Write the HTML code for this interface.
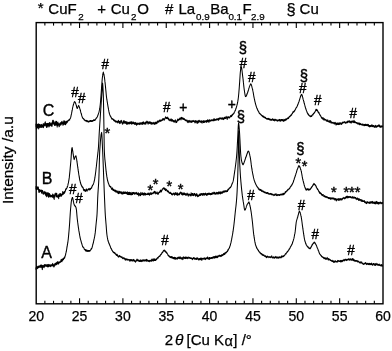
<!DOCTYPE html>
<html><head><meta charset="utf-8"><style>
html,body{margin:0;padding:0;background:#fff;}
svg{display:block;}
text{font-family:"Liberation Sans",Arial,sans-serif;fill:#000;stroke:#000;stroke-width:0.25px;}
.m text{stroke-width:0.45px;}
.l text{stroke-width:0.35px;}
</style></head><body>
<svg width="392" height="351" viewBox="0 0 392 351">
<rect width="392" height="351" fill="#fff"/>
<g font-size="15">
<text x="37.7" y="13.4">*</text>
<text x="48.3" y="14.3">CuF</text>
<text x="78.3" y="20.3" font-size="9.8">2</text>
<text x="97.2" y="14.3">+</text>
<text x="110.7" y="14.3">Cu</text>
<text x="131.1" y="20.3" font-size="9.8">2</text>
<text x="137.2" y="14.3">O</text>
<text x="164.9" y="14.3">#</text>
<text x="178.4" y="14.3">La</text>
<text x="196" y="20.3" font-size="9.8">0.9</text>
<text x="210.2" y="14.3">Ba</text>
<text x="228.4" y="20.3" font-size="9.8">0.1</text>
<text x="242.5" y="14.3">F</text>
<text x="251" y="20.3" font-size="9.8">2.9</text>
<text x="286.5" y="14.6" font-size="16.5">&#167;</text>
<text x="299.6" y="14.3">Cu</text>
</g>
<g fill="none" stroke="#000" stroke-linejoin="round" stroke-linecap="round">
<polyline stroke-width="1.05" points="36.0,124.0 36.1,126.7 36.2,126.5 36.3,125.0 36.4,129.0 36.5,125.1 36.6,125.5 36.7,125.4 36.8,127.9 36.9,125.7 37.0,127.3 37.1,127.1 37.2,126.7 37.3,124.9 37.4,125.6 37.5,127.9 37.6,124.4 37.7,124.7 37.8,125.2 37.9,126.0 38.0,125.2 38.1,125.5 38.2,123.8 38.3,126.3 38.4,126.2 38.5,124.1 38.6,127.8 38.7,128.9 38.8,125.9 38.9,126.7 39.0,128.1 39.1,124.9 39.2,124.3 39.3,125.0 39.4,125.7 39.5,125.6 39.6,126.7 39.7,126.2 39.8,124.5 39.9,126.3 40.0,127.5 40.1,126.7 40.2,126.3 40.3,125.4 40.4,126.6 40.5,124.7 40.6,126.6 40.7,125.9 40.8,127.3 40.9,126.7 41.0,125.1 41.1,126.3 41.2,127.4 41.3,124.9 41.4,125.5 41.5,125.2 41.6,124.4 41.7,127.0 41.8,127.3 41.9,126.8 42.0,126.2 42.1,125.8 42.2,126.1 42.3,125.1 42.4,126.7 42.5,126.8 42.6,126.7 42.7,125.1 42.8,125.7 42.9,125.4 43.0,127.3 43.1,125.8 43.2,123.7 43.3,126.1 43.4,127.7 43.5,126.5 43.6,126.7 43.7,125.9 43.8,123.7 43.9,123.7 44.0,124.1 44.1,125.0 44.2,125.3 44.3,125.5 44.4,124.3 44.5,125.7 44.6,124.5 44.7,124.1 44.8,125.8 44.9,124.0 45.0,122.2 45.1,124.0 45.2,125.1 45.3,121.8 45.4,124.5 45.5,124.5 45.6,123.4 45.7,123.2 45.8,124.2 45.9,124.3 46.0,126.2 46.1,125.5 46.2,123.6 46.3,124.5 46.4,126.2 46.5,127.5 46.6,125.9 46.7,125.7 46.8,127.2 46.9,125.2 47.0,124.8 47.1,123.6 47.2,124.5 47.3,127.1 47.4,123.5 47.5,124.8 47.6,123.4 47.7,124.8 47.8,125.6 47.9,124.4 48.0,125.3 48.1,125.2 48.2,124.8 48.3,126.0 48.4,125.0 48.5,123.9 48.6,123.4 48.7,123.3 48.8,124.7 48.9,123.9 49.0,127.0 49.1,126.2 49.2,124.2 49.3,124.1 49.4,126.2 49.5,122.6 49.6,124.1 49.7,125.5 49.8,123.7 49.9,124.1 50.0,124.3 50.1,125.2 50.2,124.7 50.3,124.9 50.4,125.0 50.5,124.4 50.6,125.4 50.7,123.6 50.8,123.0 50.9,122.9 51.0,123.2 51.1,124.5 51.2,126.2 51.3,125.6 51.4,125.0 51.5,124.5 51.6,125.0 51.7,125.1 51.8,124.8 51.9,123.9 52.0,124.8 52.1,126.3 52.2,122.6 52.3,124.1 52.4,121.7 52.5,123.6 52.6,122.2 52.7,120.3 52.8,122.1 52.9,123.9 53.0,122.2 53.1,123.4 53.2,122.3 53.3,120.3 53.4,123.0 53.5,122.2 53.6,121.4 53.7,123.8 53.8,123.5 53.9,122.9 54.0,124.5 54.1,123.0 54.2,124.7 54.3,123.1 54.4,124.5 54.5,122.8 54.6,125.4 54.7,124.1 54.8,125.2 54.9,123.0 55.0,123.4 55.1,124.7 55.2,121.3 55.3,123.0 55.4,125.2 55.5,124.7 55.6,125.2 55.7,124.0 55.8,124.8 55.9,123.5 56.0,122.9 56.1,122.6 56.2,123.7 56.3,123.7 56.4,123.8 56.5,121.2 56.6,122.9 56.7,124.6 56.8,125.7 56.9,125.0 57.0,125.0 57.1,123.1 57.2,127.0 57.3,123.5 57.4,125.9 57.5,125.4 57.6,123.7 57.7,122.4 57.8,123.2 57.9,122.0 58.0,123.5 58.1,123.3 58.2,124.0 58.3,124.5 58.4,125.3 58.5,123.5 58.6,125.2 58.7,123.7 58.8,123.9 58.9,124.5 59.0,124.4 59.1,126.7 59.2,126.4 59.3,126.6 59.4,125.1 59.5,125.3 59.6,124.2 59.7,123.5 59.8,124.9 59.9,124.7 60.0,123.4 60.1,125.0 60.2,122.7 60.3,124.3 60.4,123.8 60.5,123.9 60.6,123.2 60.7,125.1 60.8,124.5 60.9,125.0 61.0,123.8 61.1,122.3 61.2,123.0 61.3,122.1 61.4,123.5 61.5,124.1 61.6,123.1 61.7,122.1 61.8,122.2 61.9,122.6 62.0,121.2 62.1,123.0 62.2,123.2 62.3,122.7 62.4,123.1 62.5,123.8 62.6,123.1 62.7,123.1 62.8,124.6 62.9,124.1 63.0,125.4 63.1,122.9 63.2,122.1 63.3,124.7 63.4,124.5 63.5,122.8 63.6,121.9 63.7,123.1 63.8,121.3 63.9,122.5 64.0,120.6 64.1,122.4 64.2,120.7 64.3,122.6 64.4,124.2 64.5,122.6 64.6,123.6 64.7,122.4 64.8,122.2 64.9,121.7 65.0,124.1 65.1,123.2 65.2,124.7 65.3,122.3 65.4,123.2 65.5,123.3 65.6,124.3 65.7,124.6 65.8,122.3 65.9,121.8 66.0,121.2 66.1,123.6 66.2,122.5 66.3,122.1 66.4,122.7 66.5,121.2 66.6,121.8 66.7,123.0 66.8,122.6 66.9,122.3 67.0,121.6 67.1,122.1 67.2,122.6 67.3,121.0 67.4,121.5 67.5,121.2 67.6,121.5 67.7,121.2 67.8,121.0 67.9,120.6 68.0,120.9 68.1,120.5 68.2,120.7 68.3,120.6 68.4,120.8 68.5,120.1 68.6,120.1 68.7,120.7 68.8,120.0 68.9,119.8 69.0,120.3 69.1,120.0 69.2,119.9 69.3,119.9 69.4,119.2 69.5,119.8 69.6,120.0 69.7,119.6 69.8,118.8 69.9,119.1 70.0,118.6 70.1,118.6 70.2,118.5 70.3,118.0 70.4,118.3 70.5,117.8 70.6,117.7 70.7,117.3 70.8,117.1 70.9,116.6 71.0,115.9 71.1,115.6 71.2,114.9 71.3,114.6 71.4,114.3 71.5,113.8 71.6,113.4 71.7,112.7 71.8,112.2 71.9,111.7 72.0,111.2 72.1,110.7 72.2,110.0 72.3,109.9 72.4,109.0 72.5,108.5 72.6,108.0 72.7,107.5 72.8,107.0 72.9,106.4 73.0,106.2 73.1,105.7 73.2,105.5 73.3,105.2 73.4,104.5 73.5,104.3 73.6,103.9 73.7,103.8 73.8,103.5 73.9,103.2 74.0,102.7 74.1,102.6 74.2,102.5 74.3,101.8 74.4,101.8 74.5,101.7 74.6,101.5 74.7,101.5 74.8,102.1 74.9,101.9 75.0,101.9 75.1,101.9 75.2,102.5 75.3,102.5 75.4,102.6 75.5,102.9 75.6,103.2 75.7,103.8 75.8,103.9 75.9,104.2 76.0,104.2 76.1,104.9 76.2,105.0 76.3,105.4 76.4,106.0 76.5,106.3 76.6,106.8 76.7,107.3 76.8,107.3 76.9,107.8 77.0,107.8 77.1,108.2 77.2,108.5 77.3,108.0 77.4,108.5 77.5,108.0 77.6,107.7 77.7,107.6 77.8,107.4 77.9,106.9 78.0,106.8 78.1,106.3 78.2,106.4 78.3,106.1 78.4,105.8 78.5,106.0 78.6,105.4 78.7,105.7 78.8,106.2 78.9,105.9 79.0,106.3 79.1,106.4 79.2,106.5 79.3,106.9 79.4,107.2 79.5,107.5 79.6,107.8 79.7,108.1 79.8,108.4 79.9,108.9 80.0,109.2 80.1,109.6 80.2,109.6 80.3,110.3 80.4,110.6 80.5,110.8 80.6,111.4 80.7,111.8 80.8,112.2 80.9,112.6 81.0,113.0 81.1,113.3 81.2,113.5 81.3,113.6 81.4,114.1 81.5,114.6 81.6,114.8 81.7,115.3 81.8,115.7 81.9,115.9 82.0,116.5 82.1,116.5 82.2,117.0 82.3,117.1 82.4,117.3 82.5,117.8 82.6,117.8 82.7,118.2 82.8,118.0 82.9,118.4 83.0,118.3 83.1,118.5 83.2,118.5 83.3,118.4 83.4,118.8 83.5,118.5 83.6,118.6 83.7,119.1 83.8,119.2 83.9,119.3 84.0,119.4 84.1,119.9 84.2,119.3 84.3,119.5 84.4,119.6 84.5,120.1 84.6,120.1 84.7,120.4 84.8,120.4 84.9,120.3 85.0,120.2 85.1,120.2 85.2,121.0 85.3,120.8 85.4,120.7 85.5,120.5 85.6,120.6 85.7,120.6 85.8,120.6 85.9,120.2 86.0,120.8 86.1,120.7 86.2,120.9 86.3,120.9 86.4,121.1 86.5,121.0 86.6,121.3 86.7,120.4 86.8,120.9 86.9,121.8 87.0,121.0 87.1,121.3 87.2,121.6 87.3,121.1 87.4,121.6 87.5,121.0 87.6,120.8 87.7,121.0 87.8,120.9 87.9,121.4 88.0,121.3 88.1,121.6 88.2,121.2 88.3,122.3 88.4,121.5 88.5,121.6 88.6,121.7 88.7,121.4 88.8,121.3 88.9,121.4 89.0,121.7 89.1,121.5 89.2,121.6 89.3,121.1 89.4,121.0 89.5,121.8 89.6,121.0 89.7,121.2 89.8,121.3 89.9,121.4 90.0,120.6 90.1,120.9 90.2,121.0 90.3,121.1 90.4,120.5 90.5,121.3 90.6,120.5 90.7,121.4 90.8,121.4 90.9,121.4 91.0,120.9 91.1,121.5 91.2,120.9 91.3,120.8 91.4,120.9 91.5,120.9 91.6,121.3 91.7,121.5 91.8,120.6 91.9,121.1 92.0,121.5 92.1,121.3 92.2,121.3 92.3,120.7 92.4,121.3 92.5,120.6 92.6,121.0 92.7,121.3 92.8,121.3 92.9,120.9 93.0,120.9 93.1,120.4 93.2,120.3 93.3,120.7 93.4,120.2 93.5,120.2 93.6,119.8 93.7,120.2 93.8,120.3 93.9,119.9 94.0,120.0 94.1,120.5 94.2,120.1 94.3,120.0 94.4,119.8 94.5,120.0 94.6,120.1 94.7,120.5 94.8,120.0 94.9,120.5 95.0,119.8 95.1,119.8 95.2,120.0 95.3,119.6 95.4,119.4 95.5,119.4 95.6,119.4 95.7,118.8 95.8,119.0 95.9,118.8 96.0,118.6 96.1,118.6 96.2,118.2 96.3,118.1 96.4,118.1 96.5,118.1 96.6,117.7 96.7,117.9 96.8,117.3 96.9,117.6 97.0,117.0 97.1,117.0 97.2,116.9 97.3,116.9 97.4,116.5 97.5,116.1 97.6,116.2 97.7,115.7 97.8,115.4 97.9,115.3 98.0,115.0 98.1,114.8 98.2,114.4 98.3,114.2 98.4,113.9 98.5,113.6 98.6,113.3 98.7,112.9 98.8,112.7 98.9,112.3 99.0,111.9 99.1,111.4 99.2,111.1 99.3,110.5 99.4,110.2 99.5,109.7 99.6,109.1 99.7,108.7 99.8,108.0 99.9,107.5 100.0,106.6 100.1,105.7 100.2,105.0 100.3,104.0 100.4,103.0 100.5,102.0 100.6,100.9 100.7,99.7 100.8,98.4 100.9,97.1 101.0,95.7 101.1,94.4 101.2,93.0 101.3,91.6 101.4,90.1 101.5,88.6 101.6,87.1 101.7,85.7 101.8,84.2 101.9,83.1 102.0,81.8 102.1,80.6 102.2,79.4 102.3,78.4 102.4,77.5 102.5,76.5 102.6,75.9 102.7,75.2 102.8,74.7 102.9,73.9 103.0,73.5 103.1,73.1 103.2,72.6 103.3,72.1 103.4,73.0 103.5,72.7 103.6,73.1 103.7,73.7 103.8,74.1 103.9,74.4 104.0,75.0 104.1,75.4 104.2,76.1 104.3,76.8 104.4,77.1 104.5,78.0 104.6,78.5 104.7,79.5 104.8,80.3 104.9,81.4 105.0,82.1 105.1,82.9 105.2,83.9 105.3,84.8 105.4,85.9 105.5,86.9 105.6,87.9 105.7,89.0 105.8,90.0 105.9,90.9 106.0,91.9 106.1,93.0 106.2,94.2 106.3,95.2 106.4,96.1 106.5,97.0 106.6,97.7 106.7,98.4 106.8,99.2 106.9,99.8 107.0,100.4 107.1,101.0 107.2,101.6 107.3,102.2 107.4,102.8 107.5,103.5 107.6,104.1 107.7,104.6 107.8,105.3 107.9,105.9 108.0,106.6 108.1,106.9 108.2,107.6 108.3,108.1 108.4,108.7 108.5,109.2 108.6,109.9 108.7,110.3 108.8,110.8 108.9,111.3 109.0,111.9 109.1,112.3 109.2,113.0 109.3,113.3 109.4,113.4 109.5,114.0 109.6,114.1 109.7,114.3 109.8,114.9 109.9,115.1 110.0,115.1 110.1,115.8 110.2,115.6 110.3,115.8 110.4,116.3 110.5,116.4 110.6,116.5 110.7,116.7 110.8,116.9 110.9,117.0 111.0,117.2 111.1,117.0 111.2,117.4 111.3,118.0 111.4,117.9 111.5,118.4 111.6,118.7 111.7,118.4 111.8,118.6 111.9,119.1 112.0,118.8 112.1,119.1 112.2,119.1 112.3,118.9 112.4,118.7 112.5,118.6 112.6,118.6 112.7,119.1 112.8,119.1 112.9,119.0 113.0,119.4 113.1,119.1 113.2,119.7 113.3,119.5 113.4,119.6 113.5,119.7 113.6,119.8 113.7,120.6 113.8,119.6 113.9,120.1 114.0,120.5 114.1,120.5 114.2,120.2 114.3,120.9 114.4,120.2 114.5,120.2 114.6,120.9 114.7,120.4 114.8,120.2 114.9,121.3 115.0,121.4 115.1,121.5 115.2,121.2 115.3,121.4 115.4,121.1 115.5,122.0 115.6,121.7 115.7,121.7 115.8,120.7 115.9,121.8 116.0,122.1 116.1,122.0 116.2,121.9 116.3,121.6 116.4,121.5 116.5,121.9 116.6,121.8 116.7,121.7 116.8,121.5 116.9,122.3 117.0,121.1 117.1,121.5 117.2,121.3 117.3,122.1 117.4,122.3 117.5,122.3 117.6,122.2 117.7,121.3 117.8,123.0 117.9,122.4 118.0,122.0 118.1,122.0 118.2,121.8 118.3,122.0 118.4,121.9 118.5,121.5 118.6,120.3 118.7,121.7 118.8,122.1 118.9,122.2 119.0,122.0 119.1,122.4 119.2,122.8 119.3,122.2 119.4,123.3 119.5,121.6 119.6,122.0 119.7,122.2 119.8,121.5 119.9,122.3 120.0,123.6 120.1,123.4 120.2,122.6 120.3,123.3 120.4,122.3 120.5,121.6 120.6,121.8 120.7,121.4 120.8,121.9 120.9,120.6 121.0,121.9 121.1,121.0 121.2,121.7 121.3,120.3 121.4,120.8 121.5,121.3 121.6,122.0 121.7,121.1 121.8,122.9 121.9,122.4 122.0,122.1 122.1,123.3 122.2,122.8 122.3,123.5 122.4,124.3 122.5,123.6 122.6,123.0 122.7,123.2 122.8,123.9 122.9,123.5 123.0,122.6 123.1,122.5 123.2,123.0 123.3,123.6 123.4,120.7 123.5,122.3 123.6,121.8 123.7,122.3 123.8,122.3 123.9,121.9 124.0,121.3 124.1,121.1 124.2,120.8 124.3,122.6 124.4,122.0 124.5,122.0 124.6,122.2 124.7,121.8 124.8,122.8 124.9,123.5 125.0,123.3 125.1,121.9 125.2,123.3 125.3,122.1 125.4,121.5 125.5,121.8 125.6,121.8 125.7,122.4 125.8,121.9 125.9,121.7 126.0,122.4 126.1,123.5 126.2,122.2 126.3,122.9 126.4,122.7 126.5,124.0 126.6,121.8 126.7,123.3 126.8,122.1 126.9,122.5 127.0,122.8 127.1,124.6 127.2,122.6 127.3,122.1 127.4,123.8 127.5,122.8 127.6,123.1 127.7,123.3 127.8,123.3 127.9,123.1 128.0,123.3 128.1,123.3 128.2,123.5 128.3,122.8 128.4,122.5 128.5,122.4 128.6,123.4 128.7,123.1 128.8,123.5 128.9,123.5 129.0,124.2 129.1,123.4 129.2,123.7 129.3,122.6 129.4,122.7 129.5,123.1 129.6,122.5 129.7,123.6 129.8,122.4 129.9,123.2 130.0,121.7 130.1,122.4 130.2,122.8 130.3,122.8 130.4,121.9 130.5,122.9 130.6,123.4 130.7,123.3 130.8,122.6 130.9,122.7 131.0,122.4 131.1,123.5 131.2,124.0 131.3,122.8 131.4,122.2 131.5,123.2 131.6,123.4 131.7,121.5 131.8,123.0 131.9,124.1 132.0,123.4 132.1,123.3 132.2,123.3 132.3,123.8 132.4,122.7 132.5,122.9 132.6,123.6 132.7,123.0 132.8,123.4 132.9,122.1 133.0,123.5 133.1,123.5 133.2,123.0 133.3,123.0 133.4,123.8 133.5,122.3 133.6,122.4 133.7,122.3 133.8,122.7 133.9,122.4 134.0,123.0 134.1,122.8 134.2,122.5 134.3,122.6 134.4,124.3 134.5,123.8 134.6,123.9 134.7,124.2 134.8,124.0 134.9,124.4 135.0,124.2 135.1,123.5 135.2,123.2 135.3,123.0 135.4,122.8 135.5,124.3 135.6,123.0 135.7,122.4 135.8,123.0 135.9,123.1 136.0,123.7 136.1,123.0 136.2,123.8 136.3,123.8 136.4,124.3 136.5,124.9 136.6,125.3 136.7,124.5 136.8,123.2 136.9,123.5 137.0,123.8 137.1,124.8 137.2,123.9 137.3,124.2 137.4,123.3 137.5,123.7 137.6,123.8 137.7,123.1 137.8,123.8 137.9,124.0 138.0,123.4 138.1,124.0 138.2,124.4 138.3,123.6 138.4,123.6 138.5,123.4 138.6,123.3 138.7,123.8 138.8,123.5 138.9,123.6 139.0,123.4 139.1,122.9 139.2,123.3 139.3,123.9 139.4,123.1 139.5,123.4 139.6,124.6 139.7,124.3 139.8,123.2 139.9,123.8 140.0,123.0 140.1,124.1 140.2,122.8 140.3,123.1 140.4,123.9 140.5,122.9 140.6,124.2 140.7,123.1 140.8,123.9 140.9,123.7 141.0,123.9 141.1,124.0 141.2,123.7 141.3,123.1 141.4,124.1 141.5,123.9 141.6,124.1 141.7,124.0 141.8,122.5 141.9,123.9 142.0,123.9 142.1,122.8 142.2,123.6 142.3,123.8 142.4,122.7 142.5,122.3 142.6,122.8 142.7,124.5 142.8,123.1 142.9,122.4 143.0,122.9 143.1,122.5 143.2,122.8 143.3,123.1 143.4,121.7 143.5,123.3 143.6,123.8 143.7,123.0 143.8,122.9 143.9,123.8 144.0,122.7 144.1,122.9 144.2,122.9 144.3,123.6 144.4,124.0 144.5,123.9 144.6,124.0 144.7,124.0 144.8,123.6 144.9,122.8 145.0,122.8 145.1,123.4 145.2,122.0 145.3,122.5 145.4,122.5 145.5,122.7 145.6,122.3 145.7,122.2 145.8,124.3 145.9,123.6 146.0,122.5 146.1,122.7 146.2,122.9 146.3,122.2 146.4,122.6 146.5,121.8 146.6,121.7 146.7,122.0 146.8,121.9 146.9,121.0 147.0,122.4 147.1,122.7 147.2,122.9 147.3,122.3 147.4,123.0 147.5,123.0 147.6,122.0 147.7,121.8 147.8,123.3 147.9,122.6 148.0,123.7 148.1,124.2 148.2,122.7 148.3,122.5 148.4,122.8 148.5,123.1 148.6,122.0 148.7,123.2 148.8,123.0 148.9,122.8 149.0,122.1 149.1,122.9 149.2,122.8 149.3,121.7 149.4,123.4 149.5,122.2 149.6,122.6 149.7,122.2 149.8,122.7 149.9,123.2 150.0,122.2 150.1,121.8 150.2,122.5 150.3,122.1 150.4,122.4 150.5,122.8 150.6,122.9 150.7,123.6 150.8,122.4 150.9,123.2 151.0,122.7 151.1,123.7 151.2,124.3 151.3,123.2 151.4,123.9 151.5,122.8 151.6,122.4 151.7,122.6 151.8,122.6 151.9,123.0 152.0,123.5 152.1,124.2 152.2,124.1 152.3,123.9 152.4,123.4 152.5,123.2 152.6,123.4 152.7,123.4 152.8,123.4 152.9,123.4 153.0,123.1 153.1,122.2 153.2,122.5 153.3,122.7 153.4,123.9 153.5,122.8 153.6,123.3 153.7,123.8 153.8,123.2 153.9,122.9 154.0,123.0 154.1,122.7 154.2,123.4 154.3,123.9 154.4,123.6 154.5,123.7 154.6,123.7 154.7,124.4 154.8,123.0 154.9,123.4 155.0,123.7 155.1,124.1 155.2,122.1 155.3,123.1 155.4,123.3 155.5,122.9 155.6,123.8 155.7,123.5 155.8,123.1 155.9,122.5 156.0,122.6 156.1,122.7 156.2,123.3 156.3,122.5 156.4,122.1 156.5,122.3 156.6,122.6 156.7,123.5 156.8,123.8 156.9,122.5 157.0,123.0 157.1,123.2 157.2,122.9 157.3,122.2 157.4,121.6 157.5,121.7 157.6,121.0 157.7,121.7 157.8,121.7 157.9,120.7 158.0,121.5 158.1,121.7 158.2,122.2 158.3,122.3 158.4,122.1 158.5,121.5 158.6,121.5 158.7,122.1 158.8,121.2 158.9,121.3 159.0,121.9 159.1,121.1 159.2,120.3 159.3,120.7 159.4,121.0 159.5,120.6 159.6,121.1 159.7,121.1 159.8,120.1 159.9,120.1 160.0,120.4 160.1,119.9 160.2,120.7 160.3,120.5 160.4,121.0 160.5,120.4 160.6,120.3 160.7,121.5 160.8,120.3 160.9,120.4 161.0,120.4 161.1,120.5 161.2,120.3 161.3,120.6 161.4,120.2 161.5,120.3 161.6,120.5 161.7,120.6 161.8,120.4 161.9,119.8 162.0,120.2 162.1,119.9 162.2,119.8 162.3,119.0 162.4,120.0 162.5,119.6 162.6,120.3 162.7,119.8 162.8,118.9 162.9,118.7 163.0,119.7 163.1,118.7 163.2,119.2 163.3,118.7 163.4,119.5 163.5,118.8 163.6,119.5 163.7,119.6 163.8,119.0 163.9,119.1 164.0,120.0 164.1,119.5 164.2,119.0 164.3,119.7 164.4,120.1 164.5,118.9 164.6,119.4 164.7,118.5 164.8,119.1 164.9,118.2 165.0,118.8 165.1,118.3 165.2,117.8 165.3,117.9 165.4,117.3 165.5,116.9 165.6,117.0 165.7,117.5 165.8,117.0 165.9,117.9 166.0,117.9 166.1,117.9 166.2,117.5 166.3,117.8 166.4,117.9 166.5,118.6 166.6,117.6 166.7,117.9 166.8,118.0 166.9,118.2 167.0,117.8 167.1,117.7 167.2,118.5 167.3,117.6 167.4,118.3 167.5,118.7 167.6,118.3 167.7,117.1 167.8,118.4 167.9,118.4 168.0,118.6 168.1,117.9 168.2,119.0 168.3,118.4 168.4,119.4 168.5,119.4 168.6,120.0 168.7,118.9 168.8,118.6 168.9,119.6 169.0,119.6 169.1,119.3 169.2,120.1 169.3,120.0 169.4,119.4 169.5,119.9 169.6,120.1 169.7,120.4 169.8,120.6 169.9,120.2 170.0,120.5 170.1,120.9 170.2,120.6 170.3,120.6 170.4,120.6 170.5,120.5 170.6,119.4 170.7,120.2 170.8,119.5 170.9,119.8 171.0,118.8 171.1,119.8 171.2,119.7 171.3,119.1 171.4,120.0 171.5,119.7 171.6,121.2 171.7,120.7 171.8,120.3 171.9,120.7 172.0,120.5 172.1,121.0 172.2,120.5 172.3,120.5 172.4,119.6 172.5,120.5 172.6,121.3 172.7,120.8 172.8,120.7 172.9,121.0 173.0,120.6 173.1,121.3 173.2,120.9 173.3,121.4 173.4,121.2 173.5,120.9 173.6,121.6 173.7,120.5 173.8,121.1 173.9,120.4 174.0,122.1 174.1,122.2 174.2,121.7 174.3,122.2 174.4,121.6 174.5,121.6 174.6,121.1 174.7,120.8 174.8,121.2 174.9,120.8 175.0,120.7 175.1,121.2 175.2,120.7 175.3,119.8 175.4,120.7 175.5,120.6 175.6,121.1 175.7,120.8 175.8,122.2 175.9,122.7 176.0,121.3 176.1,122.2 176.2,122.1 176.3,121.3 176.4,121.8 176.5,122.4 176.6,122.1 176.7,122.4 176.8,120.9 176.9,120.9 177.0,121.1 177.1,121.0 177.2,120.6 177.3,120.2 177.4,120.0 177.5,119.9 177.6,120.4 177.7,119.0 177.8,120.9 177.9,120.0 178.0,119.7 178.1,120.5 178.2,119.6 178.3,120.2 178.4,119.8 178.5,120.1 178.6,120.0 178.7,120.1 178.8,119.3 178.9,119.3 179.0,119.4 179.1,118.8 179.2,119.6 179.3,119.4 179.4,118.8 179.5,119.7 179.6,119.7 179.7,118.5 179.8,119.0 179.9,119.1 180.0,118.8 180.1,118.0 180.2,117.7 180.3,118.2 180.4,118.1 180.5,118.4 180.6,118.4 180.7,118.7 180.8,118.4 180.9,118.7 181.0,119.9 181.1,118.3 181.2,118.6 181.3,118.2 181.4,118.0 181.5,117.2 181.6,117.8 181.7,117.6 181.8,118.1 181.9,118.7 182.0,117.9 182.1,118.2 182.2,117.5 182.3,118.1 182.4,118.8 182.5,118.2 182.6,118.1 182.7,118.5 182.8,118.4 182.9,118.5 183.0,118.5 183.1,119.6 183.2,118.3 183.3,118.5 183.4,118.4 183.5,119.2 183.6,118.5 183.7,119.2 183.8,118.8 183.9,118.8 184.0,118.4 184.1,119.5 184.2,119.3 184.3,119.4 184.4,119.3 184.5,119.2 184.6,119.0 184.7,119.9 184.8,119.7 184.9,119.5 185.0,119.5 185.1,119.9 185.2,119.9 185.3,120.6 185.4,120.4 185.5,120.0 185.6,119.9 185.7,120.3 185.8,120.1 185.9,120.5 186.0,120.7 186.1,120.8 186.2,120.7 186.3,120.4 186.4,120.8 186.5,120.1 186.6,120.5 186.7,121.0 186.8,120.8 186.9,120.2 187.0,120.3 187.1,120.1 187.2,121.9 187.3,120.2 187.4,120.9 187.5,122.0 187.6,121.6 187.7,121.8 187.8,120.9 187.9,121.5 188.0,122.7 188.1,121.2 188.2,121.4 188.3,121.0 188.4,121.2 188.5,121.4 188.6,121.9 188.7,120.8 188.8,120.5 188.9,121.3 189.0,121.5 189.1,122.1 189.2,121.8 189.3,121.1 189.4,121.7 189.5,122.0 189.6,121.6 189.7,121.2 189.8,121.7 189.9,121.2 190.0,120.4 190.1,122.1 190.2,120.9 190.3,121.4 190.4,121.5 190.5,121.6 190.6,121.7 190.7,121.2 190.8,122.1 190.9,121.8 191.0,121.7 191.1,122.2 191.2,122.2 191.3,122.2 191.4,122.4 191.5,121.7 191.6,120.7 191.7,121.6 191.8,121.5 191.9,121.6 192.0,121.2 192.1,121.1 192.2,122.0 192.3,122.0 192.4,120.9 192.5,121.7 192.6,121.3 192.7,121.2 192.8,121.7 192.9,121.4 193.0,121.1 193.1,121.4 193.2,120.4 193.3,121.1 193.4,121.2 193.5,120.7 193.6,121.5 193.7,121.5 193.8,121.0 193.9,121.2 194.0,121.6 194.1,121.7 194.2,120.7 194.3,121.4 194.4,121.9 194.5,121.5 194.6,121.2 194.7,121.3 194.8,121.7 194.9,121.4 195.0,122.9 195.1,121.5 195.2,121.9 195.3,121.7 195.4,121.8 195.5,121.1 195.6,120.6 195.7,122.1 195.8,121.3 195.9,121.4 196.0,121.5 196.1,122.1 196.2,121.8 196.3,122.1 196.4,122.0 196.5,121.7 196.6,121.8 196.7,121.4 196.8,120.8 196.9,121.8 197.0,121.4 197.1,123.4 197.2,122.8 197.3,122.6 197.4,121.7 197.5,123.1 197.6,121.1 197.7,121.4 197.8,121.6 197.9,121.4 198.0,121.9 198.1,121.9 198.2,122.8 198.3,122.2 198.4,122.3 198.5,121.8 198.6,121.4 198.7,121.0 198.8,120.4 198.9,120.7 199.0,120.8 199.1,121.3 199.2,120.2 199.3,120.5 199.4,121.5 199.5,121.0 199.6,121.9 199.7,121.7 199.8,121.7 199.9,121.4 200.0,122.0 200.1,121.7 200.2,121.7 200.3,121.7 200.4,122.1 200.5,122.1 200.6,121.0 200.7,121.7 200.8,121.9 200.9,122.1 201.0,121.9 201.1,121.5 201.2,120.6 201.3,121.0 201.4,122.0 201.5,121.3 201.6,122.4 201.7,122.6 201.8,121.5 201.9,122.5 202.0,122.1 202.1,123.1 202.2,122.4 202.3,121.6 202.4,122.0 202.5,121.2 202.6,121.5 202.7,121.7 202.8,121.6 202.9,121.6 203.0,121.0 203.1,120.5 203.2,121.2 203.3,120.9 203.4,121.1 203.5,122.6 203.6,122.2 203.7,121.6 203.8,121.0 203.9,121.1 204.0,122.1 204.1,122.4 204.2,121.7 204.3,121.9 204.4,121.9 204.5,122.3 204.6,120.8 204.7,121.8 204.8,121.9 204.9,122.2 205.0,121.9 205.1,121.2 205.2,121.4 205.3,121.0 205.4,121.8 205.5,121.7 205.6,121.7 205.7,120.9 205.8,120.7 205.9,121.8 206.0,121.1 206.1,121.7 206.2,121.2 206.3,120.5 206.4,121.8 206.5,122.2 206.6,121.6 206.7,121.0 206.8,122.5 206.9,121.9 207.0,122.0 207.1,120.4 207.2,121.7 207.3,120.0 207.4,120.7 207.5,121.4 207.6,120.0 207.7,119.9 207.8,120.5 207.9,121.5 208.0,121.4 208.1,120.2 208.2,120.9 208.3,120.8 208.4,120.8 208.5,120.9 208.6,120.5 208.7,121.4 208.8,121.6 208.9,122.5 209.0,121.5 209.1,119.9 209.2,120.4 209.3,121.0 209.4,120.8 209.5,119.8 209.6,120.6 209.7,120.5 209.8,120.6 209.9,120.6 210.0,121.1 210.1,121.4 210.2,121.1 210.3,120.2 210.4,120.3 210.5,120.3 210.6,120.6 210.7,120.3 210.8,120.3 210.9,120.0 211.0,120.8 211.1,120.8 211.2,120.8 211.3,120.3 211.4,120.6 211.5,119.9 211.6,119.8 211.7,120.1 211.8,120.6 211.9,120.3 212.0,119.8 212.1,120.4 212.2,120.6 212.3,120.4 212.4,120.0 212.5,120.3 212.6,120.0 212.7,120.0 212.8,120.0 212.9,120.3 213.0,120.8 213.1,120.6 213.2,120.2 213.3,119.8 213.4,119.9 213.5,120.0 213.6,120.7 213.7,118.9 213.8,120.4 213.9,119.2 214.0,120.1 214.1,120.7 214.2,119.5 214.3,118.7 214.4,120.4 214.5,120.4 214.6,119.9 214.7,120.2 214.8,119.2 214.9,120.1 215.0,120.3 215.1,119.8 215.2,119.5 215.3,120.1 215.4,120.0 215.5,119.2 215.6,120.2 215.7,120.0 215.8,119.7 215.9,120.3 216.0,120.1 216.1,120.1 216.2,119.5 216.3,120.1 216.4,119.2 216.5,119.7 216.6,118.9 216.7,118.8 216.8,119.8 216.9,119.5 217.0,119.5 217.1,119.7 217.2,119.5 217.3,118.9 217.4,119.3 217.5,119.2 217.6,118.9 217.7,119.0 217.8,118.9 217.9,118.7 218.0,118.8 218.1,119.1 218.2,120.1 218.3,118.8 218.4,119.5 218.5,118.6 218.6,120.2 218.7,119.3 218.8,119.4 218.9,119.7 219.0,119.4 219.1,118.1 219.2,118.9 219.3,118.4 219.4,118.6 219.5,118.4 219.6,118.7 219.7,118.5 219.8,118.4 219.9,119.0 220.0,117.7 220.1,118.3 220.2,118.1 220.3,118.5 220.4,118.5 220.5,118.6 220.6,118.5 220.7,118.6 220.8,118.1 220.9,118.8 221.0,118.8 221.1,118.3 221.2,118.1 221.3,118.1 221.4,119.1 221.5,118.3 221.6,118.4 221.7,118.2 221.8,118.1 221.9,118.0 222.0,119.3 222.1,117.8 222.2,118.8 222.3,118.7 222.4,118.5 222.5,117.9 222.6,118.0 222.7,119.1 222.8,118.2 222.9,119.0 223.0,118.9 223.1,118.9 223.2,119.1 223.3,118.1 223.4,118.5 223.5,119.2 223.6,118.2 223.7,119.6 223.8,118.3 223.9,118.4 224.0,117.9 224.1,118.4 224.2,117.7 224.3,117.9 224.4,117.4 224.5,118.6 224.6,117.2 224.7,118.2 224.8,118.1 224.9,118.2 225.0,117.5 225.1,118.5 225.2,118.5 225.3,118.2 225.4,118.3 225.5,118.1 225.6,118.5 225.7,117.9 225.8,118.3 225.9,118.1 226.0,117.0 226.1,116.3 226.2,117.3 226.3,117.1 226.4,117.5 226.5,117.3 226.6,117.3 226.7,117.2 226.8,118.2 226.9,118.2 227.0,118.3 227.1,119.1 227.2,119.4 227.3,118.7 227.4,117.9 227.5,118.3 227.6,117.4 227.7,116.9 227.8,117.6 227.9,117.1 228.0,117.8 228.1,117.4 228.2,116.9 228.3,117.3 228.4,117.8 228.5,117.1 228.6,116.7 228.7,117.0 228.8,117.0 228.9,116.9 229.0,116.9 229.1,117.7 229.2,118.0 229.3,117.3 229.4,117.7 229.5,117.7 229.6,117.9 229.7,117.0 229.8,116.9 229.9,117.1 230.0,116.8 230.1,116.8 230.2,117.1 230.3,116.2 230.4,116.3 230.5,115.7 230.6,115.9 230.7,115.8 230.8,115.8 230.9,116.1 231.0,116.1 231.1,116.4 231.2,116.6 231.3,115.8 231.4,116.6 231.5,115.4 231.6,116.1 231.7,116.2 231.8,115.7 231.9,115.7 232.0,115.4 232.1,115.8 232.2,114.4 232.3,114.9 232.4,114.5 232.5,114.9 232.6,115.0 232.7,114.8 232.8,114.6 232.9,114.4 233.0,114.0 233.1,114.4 233.2,114.1 233.3,113.6 233.4,113.4 233.5,113.4 233.6,113.7 233.7,113.6 233.8,113.6 233.9,112.9 234.0,112.8 234.1,113.1 234.2,112.6 234.3,112.5 234.4,111.9 234.5,111.9 234.6,111.7 234.7,111.4 234.8,111.2 234.9,110.8 235.0,111.2 235.1,110.8 235.2,110.3 235.3,110.5 235.4,110.1 235.5,110.0 235.6,109.6 235.7,109.2 235.8,108.9 235.9,108.8 236.0,108.6 236.1,108.2 236.2,107.9 236.3,107.6 236.4,107.2 236.5,106.9 236.6,106.6 236.7,106.2 236.8,105.8 236.9,105.4 237.0,104.9 237.1,104.5 237.2,104.4 237.3,103.8 237.4,103.3 237.5,103.1 237.6,102.5 237.7,101.9 237.8,101.4 237.9,100.7 238.0,100.1 238.1,99.6 238.2,98.8 238.3,98.0 238.4,97.2 238.5,96.3 238.6,95.2 238.7,94.2 238.8,93.2 238.9,92.0 239.0,90.7 239.1,89.6 239.2,88.4 239.3,87.0 239.4,85.6 239.5,84.1 239.6,82.8 239.7,81.5 239.8,79.8 239.9,78.3 240.0,76.7 240.1,75.1 240.2,73.8 240.3,72.5 240.4,71.5 240.5,70.7 240.6,69.9 240.7,69.0 240.8,68.5 240.9,67.8 241.0,67.3 241.1,67.2 241.2,66.9 241.3,67.2 241.4,67.2 241.5,67.6 241.6,67.8 241.7,68.4 241.8,69.1 241.9,69.7 242.0,70.4 242.1,71.3 242.2,72.2 242.3,73.0 242.4,73.9 242.5,74.7 242.6,75.6 242.7,76.5 242.8,77.1 242.9,77.9 243.0,78.7 243.1,79.4 243.2,80.4 243.3,81.4 243.4,82.4 243.5,83.2 243.6,84.3 243.7,85.1 243.8,86.1 243.9,87.1 244.0,87.8 244.1,88.7 244.2,89.4 244.3,90.1 244.4,90.7 244.5,91.5 244.6,92.1 244.7,92.7 244.8,93.5 244.9,94.0 245.0,94.7 245.1,95.2 245.2,95.6 245.3,96.0 245.4,96.3 245.5,96.6 245.6,96.3 245.7,96.4 245.8,96.1 245.9,96.3 246.0,95.8 246.1,96.1 246.2,95.9 246.3,96.2 246.4,95.9 246.5,95.4 246.6,95.4 246.7,95.0 246.8,94.6 246.9,94.1 247.0,94.4 247.1,94.0 247.2,93.4 247.3,93.5 247.4,93.3 247.5,92.8 247.6,92.8 247.7,92.2 247.8,92.1 247.9,91.8 248.0,91.6 248.1,91.2 248.2,90.8 248.3,90.5 248.4,90.0 248.5,90.0 248.6,89.4 248.7,89.2 248.8,88.7 248.9,88.3 249.0,88.1 249.1,87.7 249.2,87.5 249.3,87.2 249.4,86.7 249.5,86.5 249.6,86.2 249.7,85.9 249.8,85.6 249.9,85.5 250.0,85.1 250.1,84.8 250.2,84.8 250.3,84.6 250.4,84.4 250.5,83.9 250.6,83.9 250.7,84.5 250.8,83.8 250.9,83.9 251.0,84.6 251.1,84.4 251.2,84.4 251.3,84.5 251.4,85.1 251.5,85.1 251.6,85.7 251.7,85.9 251.8,86.2 251.9,87.0 252.0,87.1 252.1,87.7 252.2,88.0 252.3,88.3 252.4,88.7 252.5,89.0 252.6,89.5 252.7,89.9 252.8,90.3 252.9,90.9 253.0,91.3 253.1,91.9 253.2,92.4 253.3,93.1 253.4,93.5 253.5,94.3 253.6,94.8 253.7,95.5 253.8,96.1 253.9,96.7 254.0,97.2 254.1,97.7 254.2,98.2 254.3,98.5 254.4,98.9 254.5,99.7 254.6,100.1 254.7,100.3 254.8,101.1 254.9,101.3 255.0,101.8 255.1,102.2 255.2,102.6 255.3,103.1 255.4,103.2 255.5,103.8 255.6,104.1 255.7,104.6 255.8,104.9 255.9,105.1 256.0,105.5 256.1,106.0 256.2,106.1 256.3,106.6 256.4,106.9 256.5,107.1 256.6,107.5 256.7,107.7 256.8,107.8 256.9,108.2 257.0,108.7 257.1,108.5 257.2,108.8 257.3,109.0 257.4,109.7 257.5,109.4 257.6,109.9 257.7,110.3 257.8,110.2 257.9,110.6 258.0,110.6 258.1,110.6 258.2,111.0 258.3,111.3 258.4,111.2 258.5,111.4 258.6,111.7 258.7,112.0 258.8,111.8 258.9,112.4 259.0,112.3 259.1,112.3 259.2,112.8 259.3,113.3 259.4,113.3 259.5,113.1 259.6,113.8 259.7,113.6 259.8,113.6 259.9,113.6 260.0,113.9 260.1,113.8 260.2,114.2 260.3,114.2 260.4,114.3 260.5,114.2 260.6,114.0 260.7,114.6 260.8,114.3 260.9,114.6 261.0,114.7 261.1,114.6 261.2,115.1 261.3,114.7 261.4,115.5 261.5,115.1 261.6,115.6 261.7,115.7 261.8,115.3 261.9,115.5 262.0,116.0 262.1,115.9 262.2,116.0 262.3,115.6 262.4,115.7 262.5,116.3 262.6,116.7 262.7,116.2 262.8,116.2 262.9,116.6 263.0,116.7 263.1,116.7 263.2,116.5 263.3,116.1 263.4,117.1 263.5,116.6 263.6,117.2 263.7,116.3 263.8,117.0 263.9,116.9 264.0,116.8 264.1,117.4 264.2,117.5 264.3,117.1 264.4,117.5 264.5,117.1 264.6,117.3 264.7,117.5 264.8,117.5 264.9,117.9 265.0,117.4 265.1,118.1 265.2,118.1 265.3,117.8 265.4,117.5 265.5,117.2 265.6,117.9 265.7,117.8 265.8,118.2 265.9,117.9 266.0,118.3 266.1,118.4 266.2,118.5 266.3,118.7 266.4,118.7 266.5,119.0 266.6,118.5 266.7,119.0 266.8,118.9 266.9,118.7 267.0,118.6 267.1,119.3 267.2,119.0 267.3,118.7 267.4,118.9 267.5,118.8 267.6,118.7 267.7,118.4 267.8,118.9 267.9,118.9 268.0,118.9 268.1,119.3 268.2,118.6 268.3,118.8 268.4,119.2 268.5,119.4 268.6,119.3 268.7,119.3 268.8,118.3 268.9,119.1 269.0,119.0 269.1,119.0 269.2,118.7 269.3,119.2 269.4,119.5 269.5,119.8 269.6,119.4 269.7,119.0 269.8,119.6 269.9,119.8 270.0,119.7 270.1,120.2 270.2,119.4 270.3,119.2 270.4,119.3 270.5,119.7 270.6,119.3 270.7,119.2 270.8,119.3 270.9,120.1 271.0,119.8 271.1,119.6 271.2,120.1 271.3,120.1 271.4,119.6 271.5,120.2 271.6,120.1 271.7,119.4 271.8,119.8 271.9,120.3 272.0,120.2 272.1,119.8 272.2,119.4 272.3,119.7 272.4,118.8 272.5,119.5 272.6,119.1 272.7,119.3 272.8,119.2 272.9,119.8 273.0,118.9 273.1,119.5 273.2,120.1 273.3,119.8 273.4,120.5 273.5,120.1 273.6,119.6 273.7,120.2 273.8,119.8 273.9,120.0 274.0,119.5 274.1,119.6 274.2,120.1 274.3,120.0 274.4,119.8 274.5,119.8 274.6,120.5 274.7,121.0 274.8,119.9 274.9,120.4 275.0,119.0 275.1,119.5 275.2,120.2 275.3,120.4 275.4,119.8 275.5,120.0 275.6,119.9 275.7,120.3 275.8,119.5 275.9,120.2 276.0,119.9 276.1,119.9 276.2,120.1 276.3,120.0 276.4,119.9 276.5,120.1 276.6,119.9 276.7,120.8 276.8,120.5 276.9,120.2 277.0,120.9 277.1,120.8 277.2,120.5 277.3,120.2 277.4,120.5 277.5,120.6 277.6,120.9 277.7,120.3 277.8,120.1 277.9,121.2 278.0,120.8 278.1,120.4 278.2,119.9 278.3,120.4 278.4,120.6 278.5,120.4 278.6,120.4 278.7,120.1 278.8,120.4 278.9,119.7 279.0,119.8 279.1,119.8 279.2,119.7 279.3,120.7 279.4,119.4 279.5,120.1 279.6,119.7 279.7,119.6 279.8,120.2 279.9,119.6 280.0,120.3 280.1,121.2 280.2,120.4 280.3,120.7 280.4,120.1 280.5,120.6 280.6,119.8 280.7,120.4 280.8,120.3 280.9,121.1 281.0,120.2 281.1,120.0 281.2,119.8 281.3,119.5 281.4,120.2 281.5,120.4 281.6,119.6 281.7,119.9 281.8,119.6 281.9,120.0 282.0,120.2 282.1,119.6 282.2,120.0 282.3,120.7 282.4,119.8 282.5,120.5 282.6,120.3 282.7,120.0 282.8,120.4 282.9,120.4 283.0,120.5 283.1,119.3 283.2,120.9 283.3,120.1 283.4,120.7 283.5,120.2 283.6,120.1 283.7,120.3 283.8,121.4 283.9,120.8 284.0,120.0 284.1,120.2 284.2,120.4 284.3,120.1 284.4,119.9 284.5,119.7 284.6,119.4 284.7,120.1 284.8,120.2 284.9,120.7 285.0,119.7 285.1,120.2 285.2,119.9 285.3,120.3 285.4,119.7 285.5,119.4 285.6,119.0 285.7,119.7 285.8,119.4 285.9,119.6 286.0,119.0 286.1,120.1 286.2,119.0 286.3,119.4 286.4,119.4 286.5,119.6 286.6,119.2 286.7,118.9 286.8,118.8 286.9,119.2 287.0,118.9 287.1,118.8 287.2,118.4 287.3,118.6 287.4,118.5 287.5,118.6 287.6,118.0 287.7,118.2 287.8,118.8 287.9,118.2 288.0,118.2 288.1,118.1 288.2,117.7 288.3,117.8 288.4,118.1 288.5,117.7 288.6,118.4 288.7,117.4 288.8,117.1 288.9,117.4 289.0,117.0 289.1,117.5 289.2,116.9 289.3,117.0 289.4,116.3 289.5,116.8 289.6,116.7 289.7,116.8 289.8,116.4 289.9,116.4 290.0,116.3 290.1,116.4 290.2,115.9 290.3,116.1 290.4,115.7 290.5,115.9 290.6,115.5 290.7,115.3 290.8,115.2 290.9,115.7 291.0,114.8 291.1,114.8 291.2,115.2 291.3,114.7 291.4,114.7 291.5,114.6 291.6,115.1 291.7,114.3 291.8,114.1 291.9,114.0 292.0,114.0 292.1,113.9 292.2,113.3 292.3,113.6 292.4,113.8 292.5,112.7 292.6,113.1 292.7,112.9 292.8,112.6 292.9,112.3 293.0,111.7 293.1,112.5 293.2,112.1 293.3,112.0 293.4,112.3 293.5,111.4 293.6,111.8 293.7,111.9 293.8,111.8 293.9,111.7 294.0,111.9 294.1,111.3 294.2,111.4 294.3,111.2 294.4,110.6 294.5,110.7 294.6,111.2 294.7,110.6 294.8,110.5 294.9,110.1 295.0,110.3 295.1,109.8 295.2,109.7 295.3,109.7 295.4,109.1 295.5,108.9 295.6,109.1 295.7,108.6 295.8,108.5 295.9,108.5 296.0,108.0 296.1,107.9 296.2,107.4 296.3,107.8 296.4,107.5 296.5,107.4 296.6,107.0 296.7,107.2 296.8,107.1 296.9,106.8 297.0,106.3 297.1,106.3 297.2,106.2 297.3,105.8 297.4,105.7 297.5,105.6 297.6,104.9 297.7,104.8 297.8,104.4 297.9,104.5 298.0,104.2 298.1,104.3 298.2,103.6 298.3,103.2 298.4,103.1 298.5,102.8 298.6,102.6 298.7,102.5 298.8,102.0 298.9,101.9 299.0,101.2 299.1,101.3 299.2,100.9 299.3,100.5 299.4,100.1 299.5,100.0 299.6,99.4 299.7,99.3 299.8,98.7 299.9,98.5 300.0,98.2 300.1,98.2 300.2,97.6 300.3,97.3 300.4,96.9 300.5,96.6 300.6,96.2 300.7,96.3 300.8,96.0 300.9,95.4 301.0,95.3 301.1,94.9 301.2,95.2 301.3,95.0 301.4,94.8 301.5,94.4 301.6,94.9 301.7,94.8 301.8,94.6 301.9,95.0 302.0,94.7 302.1,95.1 302.2,95.4 302.3,95.9 302.4,96.4 302.5,96.6 302.6,97.1 302.7,97.4 302.8,97.7 302.9,98.3 303.0,98.7 303.1,99.2 303.2,99.5 303.3,99.7 303.4,99.8 303.5,100.6 303.6,100.8 303.7,101.1 303.8,101.5 303.9,102.0 304.0,102.4 304.1,102.8 304.2,103.4 304.3,103.3 304.4,103.8 304.5,104.0 304.6,104.4 304.7,104.9 304.8,105.2 304.9,105.4 305.0,106.1 305.1,106.2 305.2,106.8 305.3,107.1 305.4,107.6 305.5,107.9 305.6,108.1 305.7,108.5 305.8,108.5 305.9,108.8 306.0,109.3 306.1,109.9 306.2,109.8 306.3,110.1 306.4,110.7 306.5,110.7 306.6,111.0 306.7,111.1 306.8,111.5 306.9,111.9 307.0,112.0 307.1,112.4 307.2,112.5 307.3,112.9 307.4,113.0 307.5,113.0 307.6,113.4 307.7,113.8 307.8,113.6 307.9,113.5 308.0,113.9 308.1,114.0 308.2,114.7 308.3,114.4 308.4,114.1 308.5,114.5 308.6,115.1 308.7,114.6 308.8,114.9 308.9,115.2 309.0,115.3 309.1,115.3 309.2,115.6 309.3,115.3 309.4,115.6 309.5,115.7 309.6,115.9 309.7,115.9 309.8,116.1 309.9,116.0 310.0,116.0 310.1,116.3 310.2,116.5 310.3,116.6 310.4,115.9 310.5,116.4 310.6,116.6 310.7,116.2 310.8,116.5 310.9,116.2 311.0,116.5 311.1,115.7 311.2,116.4 311.3,116.1 311.4,115.9 311.5,116.0 311.6,116.4 311.7,116.3 311.8,116.0 311.9,116.0 312.0,115.5 312.1,115.1 312.2,114.8 312.3,115.1 312.4,114.9 312.5,114.8 312.6,114.7 312.7,114.9 312.8,114.3 312.9,114.3 313.0,114.9 313.1,114.5 313.2,114.2 313.3,113.6 313.4,113.8 313.5,113.7 313.6,113.7 313.7,113.6 313.8,113.4 313.9,113.6 314.0,112.9 314.1,113.0 314.2,112.7 314.3,112.8 314.4,112.5 314.5,112.5 314.6,112.1 314.7,112.8 314.8,112.0 314.9,111.5 315.0,111.6 315.1,111.4 315.2,111.5 315.3,111.4 315.4,111.1 315.5,110.7 315.6,110.4 315.7,110.8 315.8,110.5 315.9,109.2 316.0,109.8 316.1,109.5 316.2,109.5 316.3,110.2 316.4,109.2 316.5,109.2 316.6,110.6 316.7,109.6 316.8,109.7 316.9,110.3 317.0,109.8 317.1,110.1 317.2,110.3 317.3,110.7 317.4,110.0 317.5,110.5 317.6,110.9 317.7,111.3 317.8,111.2 317.9,111.7 318.0,111.7 318.1,112.0 318.2,112.4 318.3,112.1 318.4,112.9 318.5,112.4 318.6,112.7 318.7,112.6 318.8,112.2 318.9,112.4 319.0,113.1 319.1,112.9 319.2,113.2 319.3,113.5 319.4,113.6 319.5,114.3 319.6,114.4 319.7,114.4 319.8,114.7 319.9,114.5 320.0,115.1 320.1,114.9 320.2,115.6 320.3,115.3 320.4,115.4 320.5,116.0 320.6,116.0 320.7,115.8 320.8,116.3 320.9,116.3 321.0,116.5 321.1,116.9 321.2,117.1 321.3,117.3 321.4,117.4 321.5,117.5 321.6,117.6 321.7,118.1 321.8,117.6 321.9,118.3 322.0,118.5 322.1,118.5 322.2,117.9 322.3,118.6 322.4,118.3 322.5,118.4 322.6,119.1 322.7,118.2 322.8,118.3 322.9,117.7 323.0,117.5 323.1,118.4 323.2,118.7 323.3,118.9 323.4,119.0 323.5,118.5 323.6,119.4 323.7,119.8 323.8,120.0 323.9,119.1 324.0,119.1 324.1,119.1 324.2,119.1 324.3,118.8 324.4,119.0 324.5,119.9 324.6,119.1 324.7,118.9 324.8,119.5 324.9,119.5 325.0,120.0 325.1,119.6 325.2,119.8 325.3,119.6 325.4,119.5 325.5,120.0 325.6,119.9 325.7,119.9 325.8,120.1 325.9,119.7 326.0,120.2 326.1,120.4 326.2,120.9 326.3,119.9 326.4,120.6 326.5,121.0 326.6,120.7 326.7,120.9 326.8,121.2 326.9,121.1 327.0,120.3 327.1,120.5 327.2,119.9 327.3,121.2 327.4,121.0 327.5,121.4 327.6,120.8 327.7,120.3 327.8,121.1 327.9,120.1 328.0,120.7 328.1,120.8 328.2,121.3 328.3,121.4 328.4,121.0 328.5,121.0 328.6,121.3 328.7,121.1 328.8,121.7 328.9,121.5 329.0,121.9 329.1,122.3 329.2,121.0 329.3,121.1 329.4,121.5 329.5,121.5 329.6,121.2 329.7,120.7 329.8,122.3 329.9,121.5 330.0,121.0 330.1,120.6 330.2,122.1 330.3,121.7 330.4,121.7 330.5,121.4 330.6,121.8 330.7,121.7 330.8,121.1 330.9,122.9 331.0,122.2 331.1,122.0 331.2,121.8 331.3,122.0 331.4,123.0 331.5,122.5 331.6,122.0 331.7,122.8 331.8,122.8 331.9,122.9 332.0,122.7 332.1,122.8 332.2,123.0 332.3,122.9 332.4,122.4 332.5,122.6 332.6,123.0 332.7,122.4 332.8,123.0 332.9,122.9 333.0,123.3 333.1,123.0 333.2,122.8 333.3,122.8 333.4,123.1 333.5,123.3 333.6,122.6 333.7,122.5 333.8,122.9 333.9,122.3 334.0,123.0 334.1,123.8 334.2,123.9 334.3,124.1 334.4,123.4 334.5,123.4 334.6,123.0 334.7,123.0 334.8,123.2 334.9,123.4 335.0,123.3 335.1,122.3 335.2,123.4 335.3,123.3 335.4,123.1 335.5,123.5 335.6,123.8 335.7,123.6 335.8,123.2 335.9,124.9 336.0,123.3 336.1,123.8 336.2,124.1 336.3,123.2 336.4,123.9 336.5,123.4 336.6,123.7 336.7,123.6 336.8,124.7 336.9,123.4 337.0,124.3 337.1,124.0 337.2,123.0 337.3,124.5 337.4,123.5 337.5,123.5 337.6,123.6 337.7,123.0 337.8,123.2 337.9,123.6 338.0,123.4 338.1,124.0 338.2,124.6 338.3,123.7 338.4,123.6 338.5,124.2 338.6,124.3 338.7,124.4 338.8,123.5 338.9,122.9 339.0,124.2 339.1,124.0 339.2,124.4 339.3,123.3 339.4,123.9 339.5,124.1 339.6,122.8 339.7,124.1 339.8,124.2 339.9,123.8 340.0,123.8 340.1,123.9 340.2,123.4 340.3,122.8 340.4,123.0 340.5,123.4 340.6,123.1 340.7,124.0 340.8,123.4 340.9,123.6 341.0,123.0 341.1,123.9 341.2,123.5 341.3,124.4 341.4,123.0 341.5,123.8 341.6,123.5 341.7,123.4 341.8,124.2 341.9,123.8 342.0,123.0 342.1,123.8 342.2,123.0 342.3,123.4 342.4,122.4 342.5,122.8 342.6,122.8 342.7,122.7 342.8,122.2 342.9,122.0 343.0,122.7 343.1,122.9 343.2,122.7 343.3,122.5 343.4,122.0 343.5,122.5 343.6,122.4 343.7,122.3 343.8,122.6 343.9,122.6 344.0,122.7 344.1,122.4 344.2,122.2 344.3,122.4 344.4,122.3 344.5,121.7 344.6,122.2 344.7,121.7 344.8,121.6 344.9,122.1 345.0,122.2 345.1,122.8 345.2,122.5 345.3,122.9 345.4,123.3 345.5,122.8 345.6,122.8 345.7,122.4 345.8,123.0 345.9,122.7 346.0,122.7 346.1,122.2 346.2,122.2 346.3,122.2 346.4,122.5 346.5,122.8 346.6,121.7 346.7,122.1 346.8,122.1 346.9,123.0 347.0,122.0 347.1,121.8 347.2,122.3 347.3,121.5 347.4,122.1 347.5,121.2 347.6,122.6 347.7,121.7 347.8,121.5 347.9,121.0 348.0,121.4 348.1,121.5 348.2,121.1 348.3,121.9 348.4,121.3 348.5,121.4 348.6,121.5 348.7,122.0 348.8,121.3 348.9,121.5 349.0,121.6 349.1,121.8 349.2,120.7 349.3,122.1 349.4,121.6 349.5,121.4 349.6,121.7 349.7,120.9 349.8,121.5 349.9,122.0 350.0,122.6 350.1,122.1 350.2,122.3 350.3,122.1 350.4,122.6 350.5,121.9 350.6,122.3 350.7,121.8 350.8,121.5 350.9,121.4 351.0,121.5 351.1,122.3 351.2,123.1 351.3,121.6 351.4,121.3 351.5,121.8 351.6,121.7 351.7,121.2 351.8,122.3 351.9,121.9 352.0,121.9 352.1,121.6 352.2,121.6 352.3,122.0 352.4,121.0 352.5,121.3 352.6,121.7 352.7,121.0 352.8,122.3 352.9,121.3 353.0,121.4 353.1,121.7 353.2,122.2 353.3,121.5 353.4,121.2 353.5,121.2 353.6,121.7 353.7,121.3 353.8,122.6 353.9,122.1 354.0,120.3 354.1,121.3 354.2,121.9 354.3,122.8 354.4,121.0 354.5,121.7 354.6,122.5 354.7,121.7 354.8,122.1 354.9,121.9 355.0,122.4 355.1,121.7 355.2,122.2 355.3,121.7 355.4,122.8 355.5,122.8 355.6,122.6 355.7,122.7 355.8,122.8 355.9,122.8 356.0,122.9 356.1,122.9 356.2,122.7 356.3,122.4 356.4,122.4 356.5,122.4 356.6,122.7 356.7,122.6 356.8,123.5 356.9,122.7 357.0,122.9 357.1,122.7 357.2,123.1 357.3,123.0 357.4,122.9 357.5,123.4 357.6,124.0 357.7,123.1 357.8,123.2 357.9,123.5 358.0,123.7 358.1,124.1 358.2,123.3 358.3,123.4 358.4,123.2 358.5,123.1 358.6,123.2 358.7,122.9 358.8,123.6 358.9,124.0 359.0,123.5 359.1,123.5 359.2,124.4 359.3,124.0 359.4,124.7 359.5,123.1 359.6,124.1 359.7,123.8 359.8,124.0 359.9,124.5 360.0,124.6 360.1,124.1 360.2,124.5 360.3,123.7 360.4,124.2 360.5,124.0 360.6,123.4 360.7,124.4 360.8,123.8 360.9,124.3 361.0,123.9 361.1,124.3 361.2,124.6 361.3,124.4 361.4,124.3 361.5,124.8 361.6,124.6 361.7,124.4 361.8,124.6 361.9,124.5 362.0,124.4 362.1,125.0 362.2,125.3 362.3,124.4 362.4,124.6 362.5,124.2 362.6,124.1 362.7,125.1 362.8,124.4 362.9,124.8 363.0,124.1 363.1,124.4 363.2,124.9 363.3,124.9 363.4,124.9 363.5,124.9 363.6,124.9 363.7,125.3 363.8,125.6 363.9,125.1 364.0,124.9 364.1,124.5 364.2,124.8 364.3,124.9 364.4,125.7 364.5,124.5 364.6,124.8 364.7,124.7 364.8,125.6 364.9,124.9 365.0,124.5 365.1,124.3 365.2,125.3 365.3,124.4 365.4,125.5 365.5,125.5 365.6,124.4 365.7,124.7 365.8,125.0 365.9,124.3 366.0,124.5 366.1,124.8 366.2,125.2 366.3,125.4 366.4,124.5 366.5,125.3 366.6,125.1 366.7,125.0 366.8,124.8 366.9,125.4 367.0,125.6 367.1,124.6 367.2,124.8 367.3,124.3 367.4,124.9 367.5,125.5 367.6,125.3 367.7,125.6 367.8,125.5 367.9,125.6 368.0,125.9 368.1,126.0 368.2,124.8 368.3,125.6 368.4,124.4 368.5,125.8 368.6,125.5 368.7,125.5 368.8,126.5 368.9,125.9 369.0,126.2 369.1,126.0 369.2,126.4 369.3,125.6 369.4,125.6 369.5,125.7 369.6,126.9 369.7,125.6 369.8,125.8 369.9,126.4 370.0,126.2 370.1,125.6 370.2,126.7 370.3,126.1 370.4,126.6 370.5,126.2 370.6,126.3 370.7,125.5 370.8,126.5 370.9,125.4 371.0,125.7 371.1,126.1 371.2,125.4 371.3,125.5 371.4,125.5 371.5,125.6 371.6,125.9 371.7,124.9 371.8,125.4 371.9,126.6 372.0,124.8 372.1,125.5 372.2,126.2 372.3,125.0 372.4,125.5 372.5,125.6 372.6,126.7 372.7,125.6 372.8,126.4 372.9,125.8 373.0,126.2 373.1,125.7 373.2,125.5 373.3,126.0 373.4,125.6 373.5,126.2 373.6,126.3 373.7,126.4 373.8,126.9 373.9,126.8 374.0,125.6 374.1,125.7 374.2,127.0 374.3,126.3 374.4,126.3 374.5,127.1 374.6,126.4 374.7,127.3 374.8,126.9 374.9,127.5 375.0,126.6 375.1,126.9 375.2,126.9 375.3,127.0 375.4,125.7 375.5,125.8 375.6,125.4 375.7,125.3 375.8,125.9 375.9,126.3 376.0,126.9 376.1,126.2 376.2,127.3 376.3,126.6 376.4,126.9 376.5,126.4 376.6,126.0 376.7,127.3 376.8,126.4 376.9,127.1 377.0,126.4 377.1,126.7 377.2,126.3 377.3,126.1 377.4,126.2 377.5,126.5 377.6,125.5 377.7,125.6 377.8,126.5 377.9,125.6 378.0,126.0 378.1,125.3 378.2,125.8 378.3,126.3 378.4,125.8 378.5,125.9 378.6,125.6 378.7,125.8 378.8,124.9 378.9,125.0 379.0,125.9 379.1,125.0 379.2,126.5 379.3,126.4 379.4,125.5 379.5,125.1 379.6,125.1 379.7,126.5 379.8,126.3 379.9,127.1 380.0,126.7 380.1,127.3 380.2,127.0 380.3,126.2 380.4,126.6 380.5,126.3 380.6,126.5 380.7,126.4 380.8,126.4 380.9,127.2 381.0,126.2 381.1,125.9 381.2,126.1 381.3,126.2 381.4,126.1 381.5,126.3 381.6,126.2 381.7,127.0 381.8,126.9 381.9,126.0 382.0,126.8 382.1,127.0 382.2,126.3 382.3,125.9 382.4,126.5 382.5,126.2"/>
<polyline stroke-width="1.05" points="36.0,189.1 36.1,186.2 36.2,187.4 36.3,188.7 36.4,188.1 36.5,187.5 36.6,187.8 36.7,189.7 36.8,187.9 36.9,189.1 37.0,189.3 37.1,188.1 37.2,189.0 37.3,188.2 37.4,188.1 37.5,187.4 37.6,189.2 37.7,187.7 37.8,187.4 37.9,186.6 38.0,189.3 38.1,188.0 38.2,187.8 38.3,187.8 38.4,187.5 38.5,189.8 38.6,190.4 38.7,189.3 38.8,192.3 38.9,191.9 39.0,190.2 39.1,190.6 39.2,190.7 39.3,191.2 39.4,190.9 39.5,189.5 39.6,192.3 39.7,191.1 39.8,191.8 39.9,191.7 40.0,190.2 40.1,190.6 40.2,190.9 40.3,191.1 40.4,190.4 40.5,190.2 40.6,190.9 40.7,190.4 40.8,190.8 40.9,189.7 41.0,191.5 41.1,190.6 41.2,191.0 41.3,191.5 41.4,191.8 41.5,193.1 41.6,191.7 41.7,190.3 41.8,191.6 41.9,191.0 42.0,191.8 42.1,190.9 42.2,190.9 42.3,191.0 42.4,191.1 42.5,190.4 42.6,191.6 42.7,192.4 42.8,193.6 42.9,192.6 43.0,192.8 43.1,193.5 43.2,193.4 43.3,194.2 43.4,193.3 43.5,192.7 43.6,193.8 43.7,193.9 43.8,192.2 43.9,192.9 44.0,191.3 44.1,192.5 44.2,192.1 44.3,192.7 44.4,192.6 44.5,192.8 44.6,192.9 44.7,193.4 44.8,193.2 44.9,192.4 45.0,191.8 45.1,194.1 45.2,194.4 45.3,192.9 45.4,194.0 45.5,192.3 45.6,192.4 45.7,193.8 45.8,195.6 45.9,193.3 46.0,193.4 46.1,195.7 46.2,192.4 46.3,194.7 46.4,194.6 46.5,193.9 46.6,194.4 46.7,196.8 46.8,193.4 46.9,194.2 47.0,194.4 47.1,194.1 47.2,193.6 47.3,196.3 47.4,194.9 47.5,192.9 47.6,193.8 47.7,194.8 47.8,194.6 47.9,192.8 48.0,194.2 48.1,194.6 48.2,194.9 48.3,195.0 48.4,193.0 48.5,196.6 48.6,195.2 48.7,196.6 48.8,197.5 48.9,194.6 49.0,193.4 49.1,195.3 49.2,194.3 49.3,193.9 49.4,193.6 49.5,196.4 49.6,194.6 49.7,194.0 49.8,195.1 49.9,194.7 50.0,196.1 50.1,195.6 50.2,194.9 50.3,196.4 50.4,195.2 50.5,196.5 50.6,196.9 50.7,195.3 50.8,195.1 50.9,196.0 51.0,196.7 51.1,195.9 51.2,196.0 51.3,195.9 51.4,196.3 51.5,196.6 51.6,195.4 51.7,195.6 51.8,196.2 51.9,195.5 52.0,196.3 52.1,196.8 52.2,196.1 52.3,195.3 52.4,195.0 52.5,197.3 52.6,196.3 52.7,194.1 52.8,194.2 52.9,197.2 53.0,197.1 53.1,195.9 53.2,197.2 53.3,194.7 53.4,196.5 53.5,197.5 53.6,194.9 53.7,196.2 53.8,198.0 53.9,198.6 54.0,196.9 54.1,198.0 54.2,199.5 54.3,197.0 54.4,195.5 54.5,196.4 54.6,195.5 54.7,196.8 54.8,195.1 54.9,193.7 55.0,196.9 55.1,193.9 55.2,194.9 55.3,195.1 55.4,195.2 55.5,194.6 55.6,195.0 55.7,194.3 55.8,193.0 55.9,194.2 56.0,194.3 56.1,194.3 56.2,194.7 56.3,193.9 56.4,196.2 56.5,196.7 56.6,193.2 56.7,195.7 56.8,195.3 56.9,193.7 57.0,197.0 57.1,195.9 57.2,196.0 57.3,195.7 57.4,197.3 57.5,197.3 57.6,196.3 57.7,196.6 57.8,195.9 57.9,196.3 58.0,195.5 58.1,196.4 58.2,195.7 58.3,196.9 58.4,197.4 58.5,196.8 58.6,197.5 58.7,198.8 58.8,194.4 58.9,196.3 59.0,195.7 59.1,195.7 59.2,194.8 59.3,196.0 59.4,195.6 59.5,195.2 59.6,195.4 59.7,195.1 59.8,193.5 59.9,196.4 60.0,195.2 60.1,194.6 60.2,195.6 60.3,194.8 60.4,193.5 60.5,196.0 60.6,193.8 60.7,194.9 60.8,195.1 60.9,196.0 61.0,195.7 61.1,194.8 61.2,194.0 61.3,194.3 61.4,195.6 61.5,196.2 61.6,195.2 61.7,194.3 61.8,195.7 61.9,194.7 62.0,194.4 62.1,194.2 62.2,194.6 62.3,194.2 62.4,194.4 62.5,194.4 62.6,193.6 62.7,191.5 62.8,192.0 62.9,193.3 63.0,193.1 63.1,194.6 63.2,193.1 63.3,193.0 63.4,193.7 63.5,193.7 63.6,192.8 63.7,193.2 63.8,192.1 63.9,192.2 64.0,193.5 64.1,191.9 64.2,193.3 64.3,193.1 64.4,193.1 64.5,193.2 64.6,193.0 64.7,191.4 64.8,191.7 64.9,191.6 65.0,192.1 65.1,190.7 65.2,190.7 65.3,190.5 65.4,191.1 65.5,189.5 65.6,189.4 65.7,190.2 65.8,188.8 65.9,189.7 66.0,189.2 66.1,188.5 66.2,188.9 66.3,188.5 66.4,188.8 66.5,188.7 66.6,188.9 66.7,188.1 66.8,188.0 66.9,187.6 67.0,187.6 67.1,187.7 67.2,186.6 67.3,187.1 67.4,186.5 67.5,186.5 67.6,186.2 67.7,185.9 67.8,185.4 67.9,184.8 68.0,184.6 68.1,184.0 68.2,183.5 68.3,183.2 68.4,182.9 68.5,182.3 68.6,181.8 68.7,181.0 68.8,180.6 68.9,179.8 69.0,179.5 69.1,178.6 69.2,178.1 69.3,177.4 69.4,176.2 69.5,175.4 69.6,174.4 69.7,173.4 69.8,172.4 69.9,171.5 70.0,170.5 70.1,169.4 70.2,168.2 70.3,167.1 70.4,166.1 70.5,165.1 70.6,163.9 70.7,162.8 70.8,161.7 70.9,160.5 71.0,159.4 71.1,158.0 71.2,156.4 71.3,154.9 71.4,153.4 71.5,151.9 71.6,150.4 71.7,149.3 71.8,148.5 71.9,147.8 72.0,147.9 72.1,147.6 72.2,148.0 72.3,148.4 72.4,149.0 72.5,149.5 72.6,150.3 72.7,151.0 72.8,151.7 72.9,152.2 73.0,153.1 73.1,153.6 73.2,154.1 73.3,154.7 73.4,155.5 73.5,156.2 73.6,156.8 73.7,157.3 73.8,158.0 73.9,158.5 74.0,159.2 74.1,158.5 74.2,159.6 74.3,159.1 74.4,158.6 74.5,158.7 74.6,158.2 74.7,158.1 74.8,157.6 74.9,157.5 75.0,157.1 75.1,156.7 75.2,156.6 75.3,156.3 75.4,156.2 75.5,156.3 75.6,155.9 75.7,155.9 75.8,156.0 75.9,155.8 76.0,156.5 76.1,156.8 76.2,157.2 76.3,157.4 76.4,157.7 76.5,158.4 76.6,159.0 76.7,159.8 76.8,160.4 76.9,161.2 77.0,161.8 77.1,162.6 77.2,163.1 77.3,163.9 77.4,164.6 77.5,165.5 77.6,166.1 77.7,166.7 77.8,167.7 77.9,168.2 78.0,169.0 78.1,169.7 78.2,170.3 78.3,171.2 78.4,171.7 78.5,172.3 78.6,173.0 78.7,173.6 78.8,174.4 78.9,174.9 79.0,175.5 79.1,176.2 79.2,176.8 79.3,177.5 79.4,177.9 79.5,178.6 79.6,179.2 79.7,180.0 79.8,180.2 79.9,180.0 80.0,180.8 80.1,181.2 80.2,181.7 80.3,182.3 80.4,182.5 80.5,182.4 80.6,183.2 80.7,183.5 80.8,183.9 80.9,184.4 81.0,184.2 81.1,184.9 81.2,184.5 81.3,185.1 81.4,185.4 81.5,186.0 81.6,185.6 81.7,185.5 81.8,186.3 81.9,186.2 82.0,186.9 82.1,186.5 82.2,186.6 82.3,187.3 82.4,187.0 82.5,187.4 82.6,186.8 82.7,187.8 82.8,187.2 82.9,187.8 83.0,187.5 83.1,187.6 83.2,188.3 83.3,188.7 83.4,189.4 83.5,189.3 83.6,189.7 83.7,189.7 83.8,190.6 83.9,189.3 84.0,190.1 84.1,189.7 84.2,189.9 84.3,189.6 84.4,190.4 84.5,189.6 84.6,189.8 84.7,190.3 84.8,190.1 84.9,191.0 85.0,191.2 85.1,190.5 85.2,191.1 85.3,190.4 85.4,190.6 85.5,190.6 85.6,191.4 85.7,190.4 85.8,189.9 85.9,189.8 86.0,190.8 86.1,189.4 86.2,189.9 86.3,189.9 86.4,188.9 86.5,189.9 86.6,190.6 86.7,190.3 86.8,189.8 86.9,190.6 87.0,190.6 87.1,191.3 87.2,190.0 87.3,190.1 87.4,190.2 87.5,190.1 87.6,190.1 87.7,190.0 87.8,189.7 87.9,189.2 88.0,189.6 88.1,189.1 88.2,189.2 88.3,189.3 88.4,189.6 88.5,189.7 88.6,188.9 88.7,189.4 88.8,189.6 88.9,189.2 89.0,188.6 89.1,188.4 89.2,189.5 89.3,189.6 89.4,189.5 89.5,189.0 89.6,190.0 89.7,190.0 89.8,189.6 89.9,189.6 90.0,188.8 90.1,189.6 90.2,188.7 90.3,189.3 90.4,189.2 90.5,188.8 90.6,189.1 90.7,188.4 90.8,188.6 90.9,188.6 91.0,188.3 91.1,188.0 91.2,188.4 91.3,188.0 91.4,187.7 91.5,187.6 91.6,187.5 91.7,187.9 91.8,187.1 91.9,186.8 92.0,186.5 92.1,186.2 92.2,185.9 92.3,186.2 92.4,185.9 92.5,185.5 92.6,185.2 92.7,185.2 92.8,185.0 92.9,184.6 93.0,184.8 93.1,184.6 93.2,184.4 93.3,184.3 93.4,183.8 93.5,184.0 93.6,183.2 93.7,183.2 93.8,182.9 93.9,182.4 94.0,182.1 94.1,181.5 94.2,181.1 94.3,180.9 94.4,180.4 94.5,180.1 94.6,179.5 94.7,179.0 94.8,178.3 94.9,177.7 95.0,177.0 95.1,176.3 95.2,175.6 95.3,175.2 95.4,174.1 95.5,173.5 95.6,172.8 95.7,172.0 95.8,171.2 95.9,170.3 96.0,169.3 96.1,168.5 96.2,167.5 96.3,166.9 96.4,166.1 96.5,165.1 96.6,164.3 96.7,163.3 96.8,162.3 96.9,161.5 97.0,160.5 97.1,159.7 97.2,158.9 97.3,158.0 97.4,157.2 97.5,156.2 97.6,155.4 97.7,154.6 97.8,153.8 97.9,152.6 98.0,152.0 98.1,151.2 98.2,150.1 98.3,149.1 98.4,148.0 98.5,146.5 98.6,145.1 98.7,143.4 98.8,141.5 98.9,139.5 99.0,137.6 99.1,135.6 99.2,133.8 99.3,132.0 99.4,130.3 99.5,128.8 99.6,127.1 99.7,125.5 99.8,124.0 99.9,122.5 100.0,121.1 100.1,119.5 100.2,118.0 100.3,116.5 100.4,115.0 100.5,113.5 100.6,111.8 100.7,110.5 100.8,108.8 100.9,107.4 101.0,105.8 101.1,104.2 101.2,102.8 101.3,101.3 101.4,99.8 101.5,98.4 101.6,96.9 101.7,95.5 101.8,93.8 101.9,92.1 102.0,90.4 102.1,88.8 102.2,87.2 102.3,85.9 102.4,84.9 102.5,84.3 102.6,83.1 102.7,84.2 102.8,85.1 102.9,86.6 103.0,88.3 103.1,90.4 103.2,92.6 103.3,95.0 103.4,98.1 103.5,102.4 103.6,107.6 103.7,113.3 103.8,119.2 103.9,125.0 104.0,131.6 104.1,139.1 104.2,145.8 104.3,150.0 104.4,152.2 104.5,154.0 104.6,155.7 104.7,157.0 104.8,158.3 104.9,159.4 105.0,160.3 105.1,161.3 105.2,162.2 105.3,162.9 105.4,164.1 105.5,165.2 105.6,166.3 105.7,167.1 105.8,168.3 105.9,169.1 106.0,170.1 106.1,171.2 106.2,171.8 106.3,172.6 106.4,173.6 106.5,174.1 106.6,174.8 106.7,175.6 106.8,176.1 106.9,176.9 107.0,177.4 107.1,177.9 107.2,178.6 107.3,179.3 107.4,179.4 107.5,180.2 107.6,180.6 107.7,180.8 107.8,181.3 107.9,181.4 108.0,181.9 108.1,182.4 108.2,182.6 108.3,183.2 108.4,182.9 108.5,183.4 108.6,183.6 108.7,183.9 108.8,184.5 108.9,184.2 109.0,185.0 109.1,184.9 109.2,185.2 109.3,185.9 109.4,185.7 109.5,186.3 109.6,186.2 109.7,186.2 109.8,186.3 109.9,185.9 110.0,186.3 110.1,186.6 110.2,186.7 110.3,186.2 110.4,187.2 110.5,187.1 110.6,186.6 110.7,186.8 110.8,187.4 110.9,186.7 111.0,187.2 111.1,187.7 111.2,187.9 111.3,188.1 111.4,188.5 111.5,188.3 111.6,188.6 111.7,189.5 111.8,188.2 111.9,188.5 112.0,188.7 112.1,188.3 112.2,189.0 112.3,188.5 112.4,189.0 112.5,187.9 112.6,189.5 112.7,189.7 112.8,189.1 112.9,190.1 113.0,189.9 113.1,190.2 113.2,190.5 113.3,189.8 113.4,189.4 113.5,189.8 113.6,189.3 113.7,189.4 113.8,189.6 113.9,189.7 114.0,190.7 114.1,190.7 114.2,190.1 114.3,191.1 114.4,190.0 114.5,190.4 114.6,190.6 114.7,191.1 114.8,190.8 114.9,190.6 115.0,190.9 115.1,190.6 115.2,191.1 115.3,190.3 115.4,190.1 115.5,190.9 115.6,191.7 115.7,191.6 115.8,192.1 115.9,192.0 116.0,191.9 116.1,192.0 116.2,191.3 116.3,192.1 116.4,191.1 116.5,191.5 116.6,190.8 116.7,191.7 116.8,190.7 116.9,192.1 117.0,190.8 117.1,191.5 117.2,191.3 117.3,191.1 117.4,192.4 117.5,191.7 117.6,192.9 117.7,191.8 117.8,192.1 117.9,191.7 118.0,193.0 118.1,193.1 118.2,192.7 118.3,192.5 118.4,192.1 118.5,193.7 118.6,192.9 118.7,191.6 118.8,192.3 118.9,191.1 119.0,193.2 119.1,193.4 119.2,193.1 119.3,192.3 119.4,192.0 119.5,191.6 119.6,192.5 119.7,191.8 119.8,192.0 119.9,191.8 120.0,192.0 120.1,192.6 120.2,193.1 120.3,192.4 120.4,192.4 120.5,191.8 120.6,191.8 120.7,192.0 120.8,193.0 120.9,192.7 121.0,193.1 121.1,192.8 121.2,192.4 121.3,191.9 121.4,192.4 121.5,191.9 121.6,193.8 121.7,193.0 121.8,192.7 121.9,194.0 122.0,192.8 122.1,193.4 122.2,193.0 122.3,193.3 122.4,193.0 122.5,193.4 122.6,193.9 122.7,192.5 122.8,192.1 122.9,193.9 123.0,193.2 123.1,193.4 123.2,192.7 123.3,193.6 123.4,193.7 123.5,192.0 123.6,193.0 123.7,192.4 123.8,191.8 123.9,192.6 124.0,193.0 124.1,192.0 124.2,192.1 124.3,193.4 124.4,192.8 124.5,193.0 124.6,192.2 124.7,192.5 124.8,192.9 124.9,192.9 125.0,192.9 125.1,193.6 125.2,192.8 125.3,191.8 125.4,192.1 125.5,192.5 125.6,193.2 125.7,192.2 125.8,192.4 125.9,192.7 126.0,192.4 126.1,192.4 126.2,192.7 126.3,193.5 126.4,193.2 126.5,192.8 126.6,193.3 126.7,192.4 126.8,193.7 126.9,193.6 127.0,193.4 127.1,192.4 127.2,194.4 127.3,191.8 127.4,192.9 127.5,193.0 127.6,193.9 127.7,192.8 127.8,193.8 127.9,193.6 128.0,193.6 128.1,194.3 128.2,194.6 128.3,194.1 128.4,193.8 128.5,192.6 128.6,194.5 128.7,193.4 128.8,192.4 128.9,193.3 129.0,193.9 129.1,192.9 129.2,192.4 129.3,194.4 129.4,193.6 129.5,193.5 129.6,194.0 129.7,192.3 129.8,193.6 129.9,193.5 130.0,194.8 130.1,193.1 130.2,193.1 130.3,192.5 130.4,192.8 130.5,193.1 130.6,193.5 130.7,193.4 130.8,194.8 130.9,194.2 131.0,194.4 131.1,195.0 131.2,194.8 131.3,194.0 131.4,193.3 131.5,194.2 131.6,193.4 131.7,194.4 131.8,193.1 131.9,192.2 132.0,193.5 132.1,194.1 132.2,193.4 132.3,193.7 132.4,193.7 132.5,194.6 132.6,193.9 132.7,193.6 132.8,193.2 132.9,192.5 133.0,194.1 133.1,193.8 133.2,192.6 133.3,193.4 133.4,193.2 133.5,192.8 133.6,192.9 133.7,193.5 133.8,192.4 133.9,192.8 134.0,193.1 134.1,193.2 134.2,193.1 134.3,193.4 134.4,193.7 134.5,193.0 134.6,193.6 134.7,193.3 134.8,194.4 134.9,192.8 135.0,193.4 135.1,193.8 135.2,193.3 135.3,193.2 135.4,193.1 135.5,193.6 135.6,192.8 135.7,193.5 135.8,193.5 135.9,192.8 136.0,193.8 136.1,193.5 136.2,193.8 136.3,194.0 136.4,193.6 136.5,192.7 136.6,193.4 136.7,192.3 136.8,192.6 136.9,194.0 137.0,193.3 137.1,194.3 137.2,193.6 137.3,193.8 137.4,193.4 137.5,194.6 137.6,193.9 137.7,194.3 137.8,194.1 137.9,194.1 138.0,193.9 138.1,193.6 138.2,193.6 138.3,193.4 138.4,192.8 138.5,194.4 138.6,195.4 138.7,195.1 138.8,195.9 138.9,195.1 139.0,194.3 139.1,194.1 139.2,194.9 139.3,194.6 139.4,194.2 139.5,194.6 139.6,193.6 139.7,194.4 139.8,194.1 139.9,194.4 140.0,195.1 140.1,194.5 140.2,195.4 140.3,195.5 140.4,194.1 140.5,195.7 140.6,193.5 140.7,194.0 140.8,194.3 140.9,192.4 141.0,194.1 141.1,194.3 141.2,193.7 141.3,194.0 141.4,194.1 141.5,194.0 141.6,194.8 141.7,194.2 141.8,194.2 141.9,194.4 142.0,194.5 142.1,194.6 142.2,193.1 142.3,192.7 142.4,193.6 142.5,193.7 142.6,193.1 142.7,193.9 142.8,194.1 142.9,194.0 143.0,194.7 143.1,193.3 143.2,193.9 143.3,195.0 143.4,194.3 143.5,193.3 143.6,194.1 143.7,194.7 143.8,195.2 143.9,194.4 144.0,194.6 144.1,193.4 144.2,193.8 144.3,194.6 144.4,193.4 144.5,193.8 144.6,192.9 144.7,194.8 144.8,193.9 144.9,194.3 145.0,193.2 145.1,193.4 145.2,195.1 145.3,194.0 145.4,193.9 145.5,194.5 145.6,194.6 145.7,193.3 145.8,193.8 145.9,194.4 146.0,194.4 146.1,194.6 146.2,194.2 146.3,194.3 146.4,194.5 146.5,194.1 146.6,194.0 146.7,194.2 146.8,194.4 146.9,194.3 147.0,194.1 147.1,194.2 147.2,194.3 147.3,194.4 147.4,194.4 147.5,193.5 147.6,194.6 147.7,193.2 147.8,194.2 147.9,193.5 148.0,194.1 148.1,194.4 148.2,192.9 148.3,194.3 148.4,194.1 148.5,193.8 148.6,194.3 148.7,193.8 148.8,194.2 148.9,193.6 149.0,194.7 149.1,194.6 149.2,194.7 149.3,194.0 149.4,195.3 149.5,195.2 149.6,194.0 149.7,193.7 149.8,193.6 149.9,194.0 150.0,194.0 150.1,193.0 150.2,192.6 150.3,193.9 150.4,193.8 150.5,194.0 150.6,194.3 150.7,193.7 150.8,194.4 150.9,194.1 151.0,194.3 151.1,194.6 151.2,194.0 151.3,193.5 151.4,194.4 151.5,194.0 151.6,193.6 151.7,192.8 151.8,193.2 151.9,193.6 152.0,193.7 152.1,193.2 152.2,193.5 152.3,193.1 152.4,193.2 152.5,193.6 152.6,193.2 152.7,193.4 152.8,193.7 152.9,193.8 153.0,193.0 153.1,193.1 153.2,192.5 153.3,192.5 153.4,193.1 153.5,192.7 153.6,192.0 153.7,193.1 153.8,192.4 153.9,192.6 154.0,193.0 154.1,193.0 154.2,192.7 154.3,191.6 154.4,192.9 154.5,192.2 154.6,191.7 154.7,191.2 154.8,193.0 154.9,192.3 155.0,192.2 155.1,192.6 155.2,192.3 155.3,191.7 155.4,192.9 155.5,193.2 155.6,193.0 155.7,193.7 155.8,193.9 155.9,192.5 156.0,192.7 156.1,193.4 156.2,193.1 156.3,193.1 156.4,193.5 156.5,193.4 156.6,192.8 156.7,193.0 156.8,192.6 156.9,192.8 157.0,192.4 157.1,191.9 157.2,192.8 157.3,192.9 157.4,193.7 157.5,194.2 157.6,193.6 157.7,194.0 157.8,193.5 157.9,193.3 158.0,193.6 158.1,193.6 158.2,193.8 158.3,193.6 158.4,194.3 158.5,193.3 158.6,192.5 158.7,193.1 158.8,192.6 158.9,192.7 159.0,192.9 159.1,192.0 159.2,192.1 159.3,192.3 159.4,191.8 159.5,192.2 159.6,192.3 159.7,192.4 159.8,192.5 159.9,192.3 160.0,192.1 160.1,191.3 160.2,190.6 160.3,191.1 160.4,191.8 160.5,191.2 160.6,190.1 160.7,190.8 160.8,191.1 160.9,190.3 161.0,191.2 161.1,190.6 161.2,191.4 161.3,191.1 161.4,192.0 161.5,190.3 161.6,190.8 161.7,190.0 161.8,190.8 161.9,190.3 162.0,190.4 162.1,190.0 162.2,189.3 162.3,189.3 162.4,188.9 162.5,188.8 162.6,189.0 162.7,189.1 162.8,189.0 162.9,188.8 163.0,188.3 163.1,188.6 163.2,188.0 163.3,188.4 163.4,188.7 163.5,188.2 163.6,188.1 163.7,188.2 163.8,188.8 163.9,188.4 164.0,187.9 164.1,188.5 164.2,188.2 164.3,189.4 164.4,188.7 164.5,188.0 164.6,188.8 164.7,189.1 164.8,188.9 164.9,188.7 165.0,189.1 165.1,189.3 165.2,189.7 165.3,189.6 165.4,190.6 165.5,189.6 165.6,190.3 165.7,189.7 165.8,189.0 165.9,189.3 166.0,189.1 166.1,189.2 166.2,190.3 166.3,189.7 166.4,190.2 166.5,189.7 166.6,190.1 166.7,189.8 166.8,190.5 166.9,190.2 167.0,190.3 167.1,190.6 167.2,191.5 167.3,191.1 167.4,191.4 167.5,190.8 167.6,191.2 167.7,191.5 167.8,190.7 167.9,191.9 168.0,191.4 168.1,191.2 168.2,191.1 168.3,191.1 168.4,191.1 168.5,192.1 168.6,192.0 168.7,192.4 168.8,192.0 168.9,192.0 169.0,193.0 169.1,192.1 169.2,192.5 169.3,193.1 169.4,193.3 169.5,192.5 169.6,193.0 169.7,193.2 169.8,193.2 169.9,192.9 170.0,193.5 170.1,193.0 170.2,193.1 170.3,192.3 170.4,193.2 170.5,192.4 170.6,193.6 170.7,193.5 170.8,193.0 170.9,193.3 171.0,193.3 171.1,193.2 171.2,193.5 171.3,193.4 171.4,193.3 171.5,193.2 171.6,194.6 171.7,193.9 171.8,193.9 171.9,194.4 172.0,193.9 172.1,194.0 172.2,194.7 172.3,195.0 172.4,194.9 172.5,193.9 172.6,194.6 172.7,194.4 172.8,194.6 172.9,193.8 173.0,193.6 173.1,194.0 173.2,193.5 173.3,193.3 173.4,193.8 173.5,194.2 173.6,193.7 173.7,194.1 173.8,193.0 173.9,193.8 174.0,193.6 174.1,193.3 174.2,193.7 174.3,193.7 174.4,194.2 174.5,194.1 174.6,195.3 174.7,194.2 174.8,193.5 174.9,193.9 175.0,194.0 175.1,193.4 175.2,193.8 175.3,192.6 175.4,192.8 175.5,194.3 175.6,193.6 175.7,194.0 175.8,194.2 175.9,194.4 176.0,194.3 176.1,194.1 176.2,194.7 176.3,193.8 176.4,194.0 176.5,194.2 176.6,193.6 176.7,192.9 176.8,194.1 176.9,194.5 177.0,194.2 177.1,193.2 177.2,194.6 177.3,195.4 177.4,193.6 177.5,192.9 177.6,194.1 177.7,194.1 177.8,194.4 177.9,194.3 178.0,193.8 178.1,193.9 178.2,193.9 178.3,194.0 178.4,194.0 178.5,194.1 178.6,194.7 178.7,194.7 178.8,194.4 178.9,195.1 179.0,194.1 179.1,194.3 179.2,194.4 179.3,193.3 179.4,194.0 179.5,194.6 179.6,194.4 179.7,193.2 179.8,193.3 179.9,193.0 180.0,193.3 180.1,193.3 180.2,192.3 180.3,193.3 180.4,193.2 180.5,193.1 180.6,192.8 180.7,193.0 180.8,192.1 180.9,193.2 181.0,193.3 181.1,193.2 181.2,192.8 181.3,194.2 181.4,194.2 181.5,192.8 181.6,194.1 181.7,194.0 181.8,192.7 181.9,194.5 182.0,194.6 182.1,194.8 182.2,194.6 182.3,194.3 182.4,194.3 182.5,194.7 182.6,195.0 182.7,194.0 182.8,194.1 182.9,194.5 183.0,192.9 183.1,194.3 183.2,193.9 183.3,192.9 183.4,194.5 183.5,193.6 183.6,194.5 183.7,194.8 183.8,193.4 183.9,193.4 184.0,194.0 184.1,193.0 184.2,194.3 184.3,194.0 184.4,194.4 184.5,193.0 184.6,194.1 184.7,194.3 184.8,193.2 184.9,194.7 185.0,193.6 185.1,194.5 185.2,193.6 185.3,194.7 185.4,195.2 185.5,194.3 185.6,194.3 185.7,194.9 185.8,194.0 185.9,194.2 186.0,194.6 186.1,194.4 186.2,195.0 186.3,194.8 186.4,195.2 186.5,194.2 186.6,194.7 186.7,193.6 186.8,194.4 186.9,194.8 187.0,195.0 187.1,193.1 187.2,193.6 187.3,194.2 187.4,193.6 187.5,194.4 187.6,194.6 187.7,194.2 187.8,194.3 187.9,194.3 188.0,194.9 188.1,195.4 188.2,195.0 188.3,196.2 188.4,194.1 188.5,194.6 188.6,195.2 188.7,194.2 188.8,194.7 188.9,194.8 189.0,194.3 189.1,194.0 189.2,194.4 189.3,194.0 189.4,194.4 189.5,194.5 189.6,194.2 189.7,194.2 189.8,194.8 189.9,195.3 190.0,195.4 190.1,195.8 190.2,195.4 190.3,195.7 190.4,195.2 190.5,194.6 190.6,195.3 190.7,195.1 190.8,194.3 190.9,194.5 191.0,196.0 191.1,192.8 191.2,195.0 191.3,194.4 191.4,194.3 191.5,194.1 191.6,193.9 191.7,195.3 191.8,193.7 191.9,193.7 192.0,194.2 192.1,193.9 192.2,193.8 192.3,193.9 192.4,193.6 192.5,195.0 192.6,194.0 192.7,193.5 192.8,195.5 192.9,195.3 193.0,195.1 193.1,194.7 193.2,195.5 193.3,194.4 193.4,193.8 193.5,195.0 193.6,195.3 193.7,195.1 193.8,195.8 193.9,195.1 194.0,194.5 194.1,194.4 194.2,194.9 194.3,194.4 194.4,194.3 194.5,193.4 194.6,194.0 194.7,193.5 194.8,194.2 194.9,194.0 195.0,194.5 195.1,195.3 195.2,194.5 195.3,195.5 195.4,194.4 195.5,195.2 195.6,195.8 195.7,196.3 195.8,194.6 195.9,194.9 196.0,195.0 196.1,194.8 196.2,194.2 196.3,193.8 196.4,194.0 196.5,194.6 196.6,193.9 196.7,195.6 196.8,195.3 196.9,193.7 197.0,194.4 197.1,195.6 197.2,195.9 197.3,195.9 197.4,194.8 197.5,195.6 197.6,196.7 197.7,196.3 197.8,196.0 197.9,196.4 198.0,196.6 198.1,196.1 198.2,196.1 198.3,196.5 198.4,195.6 198.5,195.3 198.6,196.1 198.7,195.0 198.8,195.8 198.9,195.1 199.0,195.8 199.1,194.7 199.2,195.8 199.3,195.3 199.4,194.9 199.5,194.5 199.6,194.7 199.7,194.3 199.8,194.0 199.9,195.3 200.0,195.1 200.1,195.5 200.2,194.2 200.3,194.0 200.4,194.2 200.5,195.4 200.6,195.3 200.7,193.7 200.8,195.0 200.9,194.1 201.0,193.5 201.1,193.9 201.2,194.0 201.3,193.7 201.4,193.9 201.5,193.7 201.6,193.6 201.7,194.2 201.8,193.7 201.9,195.0 202.0,194.2 202.1,195.3 202.2,193.7 202.3,195.2 202.4,194.0 202.5,193.9 202.6,194.4 202.7,194.7 202.8,194.2 202.9,194.0 203.0,195.1 203.1,194.3 203.2,193.4 203.3,193.8 203.4,194.8 203.5,194.1 203.6,194.3 203.7,194.9 203.8,193.5 203.9,194.0 204.0,193.4 204.1,193.9 204.2,194.3 204.3,193.5 204.4,194.4 204.5,194.5 204.6,195.1 204.7,194.4 204.8,194.0 204.9,194.8 205.0,194.0 205.1,194.6 205.2,194.8 205.3,194.0 205.4,194.4 205.5,193.9 205.6,193.0 205.7,193.7 205.8,193.4 205.9,194.4 206.0,193.9 206.1,194.4 206.2,194.4 206.3,195.0 206.4,194.4 206.5,194.4 206.6,194.9 206.7,195.5 206.8,194.6 206.9,194.7 207.0,194.3 207.1,194.0 207.2,193.4 207.3,194.1 207.4,193.8 207.5,193.7 207.6,194.9 207.7,193.6 207.8,193.9 207.9,193.6 208.0,194.3 208.1,193.5 208.2,194.6 208.3,193.5 208.4,194.0 208.5,194.0 208.6,193.3 208.7,193.9 208.8,193.4 208.9,193.0 209.0,193.1 209.1,193.7 209.2,194.5 209.3,193.4 209.4,194.0 209.5,193.4 209.6,194.1 209.7,193.3 209.8,193.6 209.9,194.1 210.0,193.8 210.1,194.1 210.2,194.8 210.3,194.3 210.4,193.9 210.5,193.6 210.6,193.9 210.7,194.7 210.8,194.0 210.9,193.9 211.0,194.2 211.1,194.3 211.2,194.5 211.3,193.8 211.4,193.6 211.5,193.2 211.6,193.8 211.7,194.0 211.8,194.4 211.9,194.1 212.0,193.5 212.1,194.1 212.2,192.9 212.3,192.9 212.4,192.7 212.5,192.8 212.6,193.2 212.7,192.9 212.8,193.0 212.9,194.1 213.0,192.7 213.1,193.0 213.2,193.3 213.3,193.6 213.4,193.6 213.5,193.2 213.6,193.1 213.7,193.2 213.8,193.6 213.9,192.8 214.0,192.0 214.1,193.2 214.2,192.5 214.3,193.0 214.4,193.7 214.5,193.0 214.6,194.0 214.7,192.5 214.8,193.6 214.9,193.9 215.0,194.3 215.1,193.7 215.2,194.3 215.3,194.2 215.4,194.1 215.5,193.3 215.6,193.1 215.7,194.1 215.8,193.9 215.9,193.7 216.0,193.9 216.1,194.0 216.2,192.8 216.3,193.6 216.4,193.9 216.5,193.5 216.6,193.2 216.7,193.2 216.8,192.2 216.9,192.6 217.0,193.4 217.1,193.6 217.2,193.1 217.3,192.6 217.4,192.8 217.5,193.3 217.6,194.0 217.7,193.4 217.8,192.7 217.9,193.4 218.0,193.3 218.1,194.2 218.2,193.2 218.3,192.8 218.4,192.7 218.5,192.0 218.6,192.0 218.7,192.2 218.8,192.1 218.9,192.7 219.0,192.8 219.1,193.3 219.2,193.7 219.3,193.2 219.4,193.1 219.5,192.1 219.6,193.1 219.7,193.2 219.8,192.3 219.9,192.4 220.0,192.1 220.1,192.9 220.2,192.7 220.3,193.1 220.4,191.9 220.5,193.9 220.6,192.2 220.7,192.1 220.8,192.8 220.9,192.4 221.0,193.5 221.1,192.3 221.2,192.2 221.3,192.9 221.4,193.0 221.5,191.9 221.6,192.1 221.7,192.2 221.8,192.3 221.9,193.3 222.0,193.1 222.1,193.0 222.2,193.1 222.3,192.4 222.4,192.8 222.5,192.3 222.6,191.9 222.7,193.0 222.8,191.2 222.9,192.0 223.0,191.7 223.1,191.1 223.2,191.7 223.3,191.9 223.4,192.1 223.5,191.4 223.6,192.1 223.7,191.9 223.8,192.2 223.9,191.0 224.0,191.6 224.1,191.6 224.2,192.1 224.3,191.5 224.4,191.6 224.5,191.3 224.6,191.2 224.7,191.3 224.8,192.1 224.9,191.2 225.0,190.6 225.1,191.7 225.2,191.3 225.3,191.7 225.4,191.7 225.5,191.3 225.6,191.2 225.7,191.1 225.8,191.3 225.9,190.9 226.0,191.3 226.1,191.7 226.2,190.8 226.3,190.8 226.4,190.8 226.5,191.2 226.6,191.3 226.7,191.6 226.8,191.3 226.9,191.1 227.0,191.2 227.1,190.5 227.2,191.1 227.3,190.9 227.4,191.5 227.5,191.1 227.6,190.2 227.7,190.1 227.8,190.6 227.9,189.3 228.0,189.6 228.1,190.0 228.2,189.9 228.3,189.6 228.4,189.8 228.5,189.2 228.6,189.3 228.7,189.1 228.8,188.7 228.9,189.1 229.0,188.8 229.1,189.0 229.2,188.0 229.3,188.7 229.4,188.3 229.5,188.1 229.6,188.2 229.7,187.8 229.8,188.1 229.9,188.0 230.0,187.9 230.1,187.8 230.2,187.6 230.3,187.4 230.4,187.0 230.5,187.2 230.6,187.6 230.7,187.2 230.8,186.7 230.9,186.7 231.0,186.7 231.1,186.2 231.2,186.4 231.3,185.6 231.4,185.7 231.5,185.5 231.6,185.1 231.7,184.8 231.8,184.6 231.9,183.7 232.0,184.0 232.1,184.0 232.2,183.6 232.3,183.6 232.4,182.9 232.5,182.9 232.6,182.7 232.7,182.4 232.8,182.3 232.9,181.9 233.0,181.4 233.1,181.2 233.2,180.9 233.3,180.3 233.4,179.9 233.5,179.3 233.6,178.8 233.7,178.0 233.8,177.6 233.9,176.9 234.0,176.1 234.1,175.5 234.2,174.8 234.3,174.1 234.4,173.4 234.5,172.8 234.6,172.1 234.7,171.4 234.8,170.6 234.9,170.0 235.0,169.4 235.1,168.7 235.2,168.0 235.3,167.3 235.4,166.5 235.5,165.7 235.6,165.2 235.7,164.3 235.8,163.4 235.9,162.7 236.0,161.9 236.1,161.0 236.2,160.0 236.3,159.1 236.4,158.3 236.5,157.2 236.6,156.1 236.7,155.1 236.8,153.8 236.9,152.5 237.0,151.0 237.1,149.3 237.2,147.5 237.3,145.5 237.4,143.6 237.5,141.7 237.6,140.0 237.7,138.1 237.8,136.1 237.9,133.9 238.0,131.7 238.1,129.6 238.2,127.6 238.3,125.9 238.4,124.6 238.5,123.8 238.6,123.2 238.7,124.1 238.8,124.1 238.9,124.9 239.0,125.7 239.1,126.8 239.2,128.0 239.3,129.4 239.4,130.7 239.5,132.1 239.6,133.5 239.7,135.3 239.8,137.2 239.9,139.0 240.0,141.1 240.1,143.2 240.2,145.0 240.3,146.9 240.4,148.9 240.5,150.8 240.6,152.5 240.7,154.0 240.8,155.0 240.9,156.2 241.0,157.0 241.1,157.8 241.2,158.7 241.3,159.5 241.4,160.1 241.5,160.6 241.6,160.9 241.7,161.5 241.8,161.6 241.9,162.2 242.0,162.4 242.1,162.8 242.2,163.0 242.3,163.3 242.4,164.0 242.5,163.8 242.6,164.2 242.7,164.1 242.8,164.6 242.9,163.9 243.0,164.3 243.1,164.5 243.2,164.7 243.3,163.8 243.4,163.8 243.5,163.8 243.6,163.9 243.7,163.3 243.8,163.4 243.9,162.9 244.0,162.6 244.1,162.3 244.2,162.3 244.3,162.1 244.4,161.7 244.5,161.1 244.6,161.0 244.7,160.9 244.8,160.6 244.9,160.2 245.0,160.0 245.1,159.4 245.2,159.1 245.3,159.2 245.4,158.7 245.5,158.3 245.6,158.0 245.7,157.4 245.8,157.6 245.9,157.0 246.0,156.7 246.1,156.8 246.2,156.7 246.3,156.1 246.4,155.9 246.5,155.5 246.6,155.3 246.7,154.6 246.8,154.9 246.9,154.1 247.0,154.0 247.1,153.4 247.2,153.6 247.3,153.2 247.4,153.1 247.5,152.4 247.6,152.4 247.7,152.0 247.8,151.8 247.9,151.8 248.0,151.2 248.1,151.3 248.2,151.6 248.3,151.6 248.4,151.5 248.5,151.3 248.6,151.1 248.7,151.8 248.8,151.5 248.9,152.0 249.0,152.0 249.1,152.3 249.2,152.7 249.3,153.1 249.4,153.4 249.5,153.9 249.6,154.2 249.7,154.8 249.8,155.2 249.9,155.7 250.0,156.0 250.1,156.6 250.2,157.1 250.3,157.6 250.4,158.1 250.5,158.7 250.6,159.5 250.7,160.1 250.8,160.9 250.9,161.6 251.0,162.5 251.1,163.3 251.2,164.0 251.3,164.9 251.4,165.6 251.5,166.5 251.6,167.1 251.7,167.7 251.8,168.5 251.9,168.9 252.0,169.7 252.1,170.3 252.2,170.9 252.3,171.4 252.4,172.0 252.5,172.5 252.6,173.0 252.7,173.6 252.8,174.1 252.9,174.5 253.0,175.1 253.1,175.4 253.2,175.9 253.3,176.5 253.4,177.1 253.5,177.4 253.6,177.9 253.7,178.2 253.8,178.7 253.9,178.8 254.0,179.4 254.1,179.5 254.2,180.3 254.3,180.5 254.4,180.9 254.5,181.1 254.6,181.3 254.7,181.5 254.8,181.9 254.9,182.4 255.0,182.5 255.1,182.6 255.2,182.8 255.3,183.1 255.4,183.4 255.5,183.6 255.6,183.8 255.7,184.1 255.8,184.0 255.9,184.8 256.0,184.7 256.1,185.1 256.2,185.1 256.3,185.2 256.4,185.4 256.5,185.6 256.6,185.7 256.7,185.9 256.8,186.5 256.9,186.5 257.0,186.4 257.1,186.7 257.2,186.6 257.3,187.2 257.4,186.8 257.5,187.3 257.6,187.3 257.7,187.4 257.8,187.3 257.9,187.5 258.0,187.5 258.1,187.7 258.2,188.2 258.3,188.8 258.4,188.3 258.5,188.8 258.6,188.7 258.7,188.7 258.8,189.3 258.9,189.3 259.0,189.6 259.1,189.5 259.2,189.6 259.3,189.5 259.4,189.6 259.5,190.1 259.6,189.0 259.7,189.6 259.8,189.8 259.9,189.6 260.0,189.6 260.1,189.4 260.2,189.9 260.3,190.0 260.4,189.8 260.5,190.4 260.6,189.9 260.7,189.5 260.8,190.3 260.9,190.3 261.0,190.2 261.1,190.3 261.2,190.4 261.3,190.1 261.4,191.0 261.5,190.7 261.6,191.5 261.7,190.7 261.8,190.8 261.9,190.3 262.0,191.0 262.1,190.4 262.2,191.0 262.3,191.2 262.4,191.2 262.5,190.9 262.6,191.0 262.7,191.5 262.8,191.7 262.9,191.8 263.0,191.4 263.1,191.4 263.2,191.9 263.3,191.2 263.4,191.6 263.5,191.3 263.6,191.1 263.7,191.4 263.8,192.0 263.9,192.0 264.0,192.2 264.1,192.1 264.2,192.2 264.3,192.4 264.4,192.3 264.5,191.8 264.6,192.2 264.7,192.8 264.8,192.0 264.9,192.4 265.0,192.3 265.1,192.6 265.2,192.2 265.3,192.1 265.4,192.7 265.5,192.4 265.6,192.7 265.7,192.7 265.8,193.1 265.9,193.0 266.0,193.0 266.1,192.7 266.2,192.6 266.3,192.9 266.4,193.4 266.5,193.4 266.6,193.3 266.7,193.0 266.8,192.8 266.9,193.5 267.0,193.1 267.1,193.2 267.2,192.7 267.3,192.8 267.4,193.2 267.5,193.2 267.6,192.6 267.7,193.0 267.8,192.6 267.9,193.5 268.0,193.4 268.1,194.0 268.2,193.8 268.3,193.2 268.4,193.5 268.5,193.4 268.6,193.7 268.7,193.9 268.8,193.8 268.9,193.9 269.0,193.5 269.1,194.2 269.2,194.0 269.3,194.2 269.4,194.3 269.5,194.0 269.6,194.2 269.7,193.7 269.8,194.2 269.9,194.0 270.0,193.8 270.1,194.0 270.2,193.6 270.3,193.9 270.4,194.0 270.5,194.2 270.6,194.1 270.7,193.9 270.8,194.0 270.9,193.4 271.0,194.1 271.1,194.2 271.2,194.2 271.3,194.4 271.4,194.0 271.5,194.2 271.6,194.1 271.7,194.2 271.8,194.4 271.9,194.9 272.0,193.9 272.1,194.4 272.2,194.7 272.3,194.3 272.4,194.8 272.5,194.3 272.6,194.7 272.7,194.2 272.8,194.9 272.9,194.5 273.0,195.0 273.1,194.6 273.2,194.4 273.3,194.5 273.4,194.8 273.5,194.9 273.6,194.9 273.7,194.9 273.8,195.2 273.9,195.6 274.0,195.2 274.1,195.4 274.2,194.7 274.3,195.4 274.4,195.2 274.5,194.8 274.6,194.7 274.7,194.2 274.8,194.8 274.9,194.6 275.0,194.2 275.1,194.5 275.2,194.8 275.3,194.6 275.4,194.6 275.5,194.3 275.6,194.8 275.7,194.5 275.8,194.8 275.9,195.2 276.0,193.6 276.1,194.2 276.2,194.5 276.3,194.3 276.4,195.1 276.5,194.7 276.6,195.6 276.7,195.4 276.8,195.4 276.9,195.2 277.0,195.4 277.1,195.3 277.2,195.6 277.3,195.1 277.4,195.3 277.5,195.0 277.6,195.0 277.7,194.4 277.8,195.0 277.9,195.2 278.0,194.6 278.1,194.6 278.2,195.0 278.3,195.2 278.4,194.5 278.5,195.1 278.6,195.3 278.7,194.9 278.8,195.0 278.9,195.1 279.0,194.7 279.1,195.2 279.2,195.2 279.3,194.6 279.4,195.3 279.5,195.5 279.6,194.8 279.7,195.5 279.8,195.0 279.9,194.6 280.0,194.7 280.1,194.7 280.2,195.2 280.3,194.8 280.4,194.7 280.5,194.3 280.6,194.7 280.7,194.2 280.8,194.3 280.9,194.7 281.0,194.6 281.1,194.2 281.2,194.4 281.3,194.6 281.4,194.4 281.5,194.8 281.6,194.9 281.7,194.4 281.8,194.0 281.9,194.4 282.0,195.0 282.1,194.9 282.2,194.9 282.3,194.9 282.4,194.4 282.5,194.5 282.6,194.6 282.7,194.2 282.8,194.3 282.9,193.6 283.0,193.4 283.1,194.2 283.2,193.9 283.3,193.9 283.4,194.2 283.5,194.5 283.6,194.7 283.7,193.2 283.8,194.1 283.9,194.2 284.0,193.2 284.1,193.2 284.2,193.6 284.3,194.1 284.4,193.7 284.5,194.0 284.6,193.4 284.7,193.5 284.8,193.6 284.9,193.2 285.0,193.0 285.1,192.9 285.2,191.8 285.3,192.7 285.4,192.0 285.5,192.2 285.6,192.5 285.7,192.2 285.8,191.5 285.9,192.0 286.0,192.0 286.1,191.8 286.2,191.8 286.3,191.7 286.4,191.0 286.5,191.4 286.6,191.3 286.7,190.9 286.8,191.0 286.9,190.7 287.0,190.7 287.1,190.4 287.2,190.7 287.3,190.9 287.4,190.1 287.5,190.2 287.6,190.2 287.7,190.2 287.8,190.0 287.9,189.4 288.0,190.0 288.1,189.8 288.2,189.4 288.3,189.5 288.4,189.3 288.5,189.4 288.6,189.1 288.7,189.0 288.8,189.0 288.9,188.9 289.0,188.8 289.1,189.0 289.2,188.6 289.3,188.3 289.4,188.8 289.5,188.3 289.6,188.5 289.7,187.7 289.8,188.0 289.9,188.1 290.0,187.8 290.1,187.4 290.2,187.1 290.3,187.0 290.4,187.0 290.5,186.7 290.6,186.6 290.7,186.5 290.8,186.3 290.9,186.5 291.0,185.9 291.1,186.2 291.2,186.2 291.3,185.7 291.4,185.6 291.5,185.7 291.6,185.4 291.7,185.4 291.8,184.5 291.9,184.7 292.0,184.8 292.1,184.2 292.2,184.4 292.3,184.3 292.4,183.6 292.5,183.9 292.6,183.6 292.7,183.3 292.8,183.1 292.9,183.0 293.0,182.6 293.1,182.5 293.2,182.4 293.3,182.1 293.4,181.5 293.5,181.3 293.6,181.0 293.7,180.3 293.8,180.5 293.9,179.9 294.0,179.6 294.1,179.6 294.2,179.4 294.3,178.6 294.4,178.4 294.5,178.1 294.6,177.9 294.7,177.6 294.8,177.2 294.9,176.8 295.0,177.0 295.1,176.4 295.2,176.0 295.3,175.9 295.4,175.4 295.5,175.3 295.6,174.9 295.7,174.7 295.8,174.1 295.9,174.0 296.0,173.4 296.1,173.1 296.2,173.0 296.3,172.7 296.4,172.6 296.5,172.0 296.6,171.4 296.7,171.3 296.8,170.9 296.9,170.6 297.0,170.1 297.1,169.8 297.2,169.6 297.3,169.5 297.4,169.1 297.5,168.9 297.6,168.3 297.7,168.3 297.8,168.2 297.9,168.1 298.0,167.7 298.1,167.4 298.2,167.1 298.3,166.9 298.4,166.4 298.5,166.4 298.6,166.4 298.7,166.3 298.8,165.5 298.9,166.2 299.0,165.7 299.1,166.6 299.2,166.5 299.3,166.6 299.4,166.3 299.5,166.1 299.6,166.4 299.7,166.7 299.8,166.7 299.9,167.0 300.0,167.7 300.1,167.4 300.2,168.0 300.3,167.9 300.4,168.6 300.5,169.0 300.6,169.2 300.7,169.6 300.8,169.9 300.9,169.7 301.0,170.2 301.1,170.6 301.2,170.9 301.3,171.5 301.4,171.9 301.5,172.5 301.6,173.0 301.7,173.5 301.8,174.1 301.9,174.6 302.0,175.3 302.1,175.8 302.2,176.4 302.3,176.9 302.4,177.6 302.5,178.0 302.6,178.8 302.7,179.2 302.8,179.6 302.9,179.8 303.0,180.4 303.1,180.7 303.2,181.1 303.3,181.4 303.4,182.0 303.5,182.4 303.6,182.6 303.7,183.0 303.8,183.4 303.9,183.6 304.0,184.1 304.1,184.7 304.2,184.8 304.3,185.6 304.4,185.4 304.5,186.1 304.6,186.4 304.7,186.7 304.8,186.9 304.9,186.9 305.0,187.7 305.1,187.9 305.2,188.0 305.3,187.7 305.4,188.7 305.5,188.4 305.6,188.8 305.7,189.4 305.8,189.6 305.9,189.4 306.0,189.2 306.1,190.1 306.2,190.0 306.3,189.5 306.4,189.2 306.5,189.6 306.6,189.0 306.7,190.1 306.8,189.6 306.9,189.2 307.0,189.5 307.1,188.8 307.2,189.4 307.3,189.2 307.4,188.9 307.5,189.2 307.6,189.6 307.7,188.9 307.8,189.4 307.9,188.9 308.0,189.5 308.1,188.7 308.2,189.7 308.3,189.6 308.4,189.8 308.5,190.2 308.6,189.7 308.7,189.7 308.8,190.0 308.9,189.6 309.0,189.1 309.1,189.4 309.2,189.3 309.3,189.8 309.4,189.4 309.5,189.4 309.6,189.6 309.7,189.4 309.8,189.9 309.9,189.3 310.0,189.0 310.1,189.5 310.2,189.0 310.3,189.0 310.4,189.3 310.5,188.9 310.6,188.9 310.7,188.4 310.8,188.3 310.9,188.4 311.0,187.9 311.1,187.8 311.2,187.7 311.3,188.0 311.4,187.8 311.5,187.3 311.6,187.1 311.7,186.8 311.8,187.2 311.9,186.8 312.0,186.9 312.1,186.2 312.2,186.6 312.3,186.3 312.4,186.3 312.5,186.2 312.6,185.8 312.7,185.6 312.8,185.6 312.9,185.0 313.0,185.4 313.1,185.0 313.2,184.5 313.3,184.9 313.4,184.7 313.5,184.7 313.6,184.4 313.7,184.1 313.8,183.9 313.9,183.4 314.0,184.0 314.1,184.0 314.2,183.7 314.3,184.3 314.4,183.8 314.5,184.6 314.6,184.4 314.7,184.5 314.8,184.3 314.9,184.8 315.0,184.7 315.1,184.6 315.2,185.0 315.3,185.0 315.4,185.4 315.5,184.9 315.6,185.1 315.7,186.0 315.8,185.6 315.9,185.9 316.0,185.9 316.1,186.3 316.2,187.1 316.3,186.4 316.4,187.2 316.5,187.4 316.6,187.7 316.7,187.8 316.8,187.9 316.9,188.5 317.0,188.4 317.1,188.2 317.2,188.6 317.3,188.4 317.4,189.5 317.5,189.1 317.6,188.7 317.7,189.5 317.8,189.6 317.9,189.6 318.0,189.8 318.1,189.8 318.2,190.1 318.3,189.9 318.4,190.8 318.5,191.2 318.6,191.1 318.7,191.4 318.8,191.1 318.9,191.5 319.0,191.4 319.1,191.6 319.2,192.2 319.3,192.5 319.4,192.3 319.5,193.1 319.6,192.7 319.7,192.0 319.8,192.6 319.9,193.2 320.0,192.9 320.1,193.2 320.2,192.5 320.3,193.4 320.4,192.8 320.5,193.3 320.6,193.8 320.7,193.3 320.8,193.3 320.9,193.6 321.0,193.3 321.1,193.4 321.2,194.1 321.3,193.6 321.4,193.8 321.5,194.9 321.6,194.1 321.7,194.7 321.8,195.0 321.9,194.7 322.0,194.5 322.1,195.2 322.2,194.7 322.3,195.8 322.4,195.8 322.5,194.7 322.6,195.2 322.7,194.7 322.8,195.0 322.9,194.7 323.0,194.5 323.1,195.1 323.2,194.6 323.3,195.4 323.4,195.5 323.5,195.5 323.6,196.2 323.7,196.1 323.8,196.0 323.9,196.2 324.0,196.2 324.1,196.7 324.2,196.3 324.3,195.5 324.4,195.5 324.5,196.2 324.6,196.1 324.7,196.4 324.8,196.1 324.9,196.3 325.0,197.0 325.1,196.1 325.2,196.9 325.3,196.6 325.4,197.2 325.5,197.1 325.6,196.9 325.7,197.3 325.8,197.1 325.9,196.6 326.0,197.2 326.1,197.3 326.2,197.1 326.3,197.2 326.4,197.0 326.5,197.3 326.6,197.1 326.7,196.6 326.8,197.1 326.9,197.8 327.0,197.5 327.1,197.8 327.2,197.2 327.3,197.1 327.4,196.9 327.5,197.5 327.6,197.8 327.7,197.8 327.8,197.8 327.9,197.4 328.0,197.8 328.1,197.5 328.2,198.3 328.3,198.3 328.4,197.9 328.5,198.3 328.6,197.5 328.7,198.6 328.8,197.9 328.9,197.9 329.0,198.2 329.1,198.1 329.2,197.5 329.3,198.3 329.4,198.5 329.5,198.4 329.6,198.5 329.7,198.1 329.8,198.7 329.9,198.0 330.0,198.0 330.1,198.5 330.2,198.5 330.3,198.1 330.4,199.2 330.5,197.9 330.6,197.7 330.7,198.4 330.8,199.2 330.9,198.8 331.0,198.6 331.1,198.5 331.2,198.6 331.3,198.5 331.4,198.4 331.5,198.4 331.6,197.8 331.7,198.9 331.8,198.3 331.9,198.7 332.0,198.7 332.1,199.0 332.2,198.2 332.3,198.8 332.4,198.8 332.5,198.4 332.6,198.4 332.7,198.4 332.8,197.9 332.9,198.2 333.0,197.9 333.1,198.9 333.2,198.2 333.3,198.1 333.4,198.6 333.5,198.8 333.6,198.5 333.7,198.3 333.8,198.9 333.9,199.2 334.0,198.2 334.1,199.3 334.2,198.3 334.3,199.3 334.4,198.9 334.5,199.0 334.6,199.4 334.7,199.7 334.8,200.0 334.9,199.8 335.0,199.4 335.1,198.5 335.2,198.9 335.3,199.0 335.4,198.7 335.5,199.1 335.6,198.7 335.7,199.8 335.8,199.2 335.9,198.9 336.0,199.5 336.1,199.6 336.2,200.4 336.3,200.9 336.4,200.6 336.5,200.4 336.6,199.5 336.7,199.1 336.8,199.1 336.9,199.3 337.0,198.9 337.1,199.2 337.2,199.6 337.3,199.2 337.4,200.0 337.5,199.0 337.6,199.6 337.7,199.4 337.8,199.8 337.9,199.3 338.0,199.1 338.1,199.3 338.2,198.9 338.3,198.8 338.4,199.6 338.5,199.0 338.6,199.8 338.7,200.4 338.8,199.1 338.9,199.6 339.0,199.2 339.1,198.4 339.2,199.3 339.3,200.1 339.4,199.0 339.5,199.6 339.6,199.6 339.7,199.2 339.8,200.1 339.9,199.7 340.0,200.0 340.1,199.6 340.2,198.9 340.3,199.5 340.4,199.6 340.5,199.1 340.6,199.5 340.7,199.6 340.8,198.6 340.9,199.8 341.0,198.8 341.1,199.1 341.2,199.6 341.3,199.3 341.4,199.3 341.5,199.9 341.6,199.1 341.7,199.8 341.8,200.0 341.9,199.8 342.0,198.7 342.1,198.4 342.2,198.9 342.3,199.4 342.4,198.5 342.5,198.2 342.6,198.2 342.7,198.5 342.8,198.7 342.9,198.3 343.0,198.3 343.1,198.6 343.2,198.5 343.3,198.3 343.4,197.7 343.5,198.3 343.6,197.9 343.7,197.9 343.8,197.8 343.9,197.4 344.0,197.8 344.1,198.1 344.2,198.1 344.3,197.7 344.4,198.2 344.5,198.6 344.6,198.4 344.7,198.9 344.8,197.8 344.9,198.2 345.0,198.7 345.1,198.3 345.2,197.7 345.3,197.6 345.4,198.3 345.5,197.8 345.6,197.0 345.7,197.4 345.8,197.0 345.9,196.9 346.0,196.6 346.1,197.4 346.2,198.0 346.3,197.4 346.4,196.4 346.5,197.1 346.6,196.2 346.7,196.8 346.8,197.1 346.9,197.4 347.0,196.8 347.1,196.9 347.2,196.8 347.3,196.7 347.4,197.5 347.5,196.5 347.6,196.2 347.7,197.7 347.8,198.0 347.9,196.3 348.0,197.4 348.1,197.4 348.2,196.9 348.3,196.7 348.4,197.1 348.5,196.9 348.6,197.4 348.7,196.7 348.8,197.5 348.9,196.6 349.0,197.6 349.1,197.3 349.2,197.4 349.3,196.7 349.4,196.7 349.5,196.8 349.6,197.3 349.7,196.5 349.8,196.5 349.9,196.8 350.0,197.1 350.1,197.0 350.2,197.0 350.3,196.5 350.4,196.8 350.5,196.7 350.6,197.6 350.7,197.2 350.8,197.5 350.9,196.7 351.0,197.3 351.1,197.6 351.2,197.1 351.3,197.3 351.4,197.5 351.5,197.9 351.6,198.0 351.7,197.4 351.8,198.0 351.9,197.8 352.0,197.7 352.1,197.0 352.2,197.2 352.3,197.7 352.4,197.5 352.5,196.8 352.6,197.8 352.7,197.0 352.8,196.9 352.9,197.8 353.0,197.6 353.1,198.5 353.2,197.4 353.3,197.6 353.4,197.8 353.5,197.6 353.6,197.4 353.7,197.5 353.8,197.5 353.9,197.5 354.0,197.5 354.1,196.9 354.2,197.9 354.3,197.3 354.4,197.4 354.5,197.2 354.6,197.4 354.7,198.0 354.8,198.1 354.9,197.8 355.0,197.7 355.1,197.5 355.2,197.6 355.3,197.9 355.4,197.8 355.5,197.5 355.6,197.9 355.7,197.5 355.8,198.9 355.9,198.2 356.0,197.9 356.1,198.5 356.2,198.1 356.3,198.4 356.4,199.2 356.5,199.2 356.6,198.4 356.7,198.4 356.8,198.6 356.9,199.7 357.0,198.8 357.1,198.9 357.2,198.5 357.3,199.3 357.4,199.1 357.5,198.1 357.6,198.5 357.7,198.1 357.8,198.4 357.9,198.5 358.0,198.4 358.1,198.7 358.2,199.3 358.3,199.6 358.4,199.3 358.5,199.6 358.6,198.9 358.7,200.1 358.8,200.5 358.9,199.5 359.0,199.8 359.1,199.8 359.2,198.8 359.3,200.1 359.4,199.9 359.5,199.1 359.6,199.6 359.7,200.2 359.8,200.0 359.9,199.3 360.0,199.6 360.1,199.6 360.2,200.0 360.3,199.7 360.4,200.1 360.5,200.1 360.6,199.6 360.7,200.4 360.8,200.4 360.9,200.1 361.0,200.6 361.1,201.2 361.2,199.6 361.3,200.3 361.4,200.6 361.5,200.2 361.6,200.1 361.7,201.3 361.8,200.3 361.9,200.6 362.0,200.5 362.1,201.3 362.2,200.1 362.3,200.6 362.4,200.9 362.5,201.2 362.6,201.2 362.7,201.5 362.8,201.1 362.9,200.9 363.0,201.2 363.1,200.9 363.2,201.0 363.3,201.0 363.4,201.3 363.5,201.5 363.6,200.8 363.7,201.0 363.8,201.2 363.9,201.2 364.0,201.1 364.1,201.5 364.2,201.1 364.3,200.6 364.4,201.9 364.5,201.1 364.6,202.4 364.7,202.0 364.8,202.2 364.9,201.7 365.0,202.6 365.1,202.3 365.2,202.0 365.3,202.6 365.4,202.6 365.5,202.7 365.6,201.7 365.7,201.8 365.8,202.9 365.9,202.7 366.0,203.0 366.1,202.6 366.2,203.2 366.3,203.6 366.4,202.9 366.5,202.9 366.6,203.1 366.7,203.4 366.8,202.4 366.9,202.7 367.0,201.8 367.1,201.5 367.2,202.4 367.3,201.7 367.4,202.3 367.5,202.1 367.6,202.7 367.7,202.0 367.8,202.0 367.9,202.0 368.0,202.4 368.1,203.0 368.2,202.8 368.3,202.4 368.4,202.2 368.5,202.7 368.6,202.2 368.7,202.8 368.8,202.9 368.9,202.7 369.0,202.6 369.1,202.6 369.2,202.5 369.3,202.7 369.4,202.2 369.5,202.2 369.6,203.4 369.7,202.6 369.8,201.9 369.9,203.4 370.0,203.3 370.1,202.8 370.2,201.9 370.3,203.3 370.4,202.8 370.5,202.8 370.6,202.0 370.7,202.4 370.8,202.1 370.9,202.1 371.0,201.8 371.1,202.0 371.2,202.1 371.3,202.4 371.4,202.9 371.5,202.7 371.6,201.7 371.7,203.0 371.8,201.8 371.9,202.8 372.0,202.5 372.1,202.6 372.2,202.3 372.3,202.1 372.4,203.3 372.5,201.4 372.6,202.2 372.7,203.2 372.8,202.6 372.9,202.6 373.0,202.3 373.1,202.2 373.2,203.0 373.3,202.7 373.4,203.0 373.5,203.2 373.6,202.1 373.7,202.4 373.8,202.6 373.9,203.1 374.0,203.3 374.1,202.5 374.2,202.9 374.3,203.0 374.4,202.9 374.5,203.7 374.6,202.7 374.7,203.1 374.8,201.9 374.9,202.9 375.0,203.0 375.1,203.2 375.2,202.6 375.3,202.6 375.4,202.3 375.5,202.6 375.6,203.9 375.7,202.0 375.8,201.9 375.9,202.7 376.0,202.2 376.1,203.2 376.2,201.9 376.3,203.3 376.4,202.3 376.5,201.7 376.6,201.4 376.7,202.0 376.8,202.1 376.9,202.5 377.0,201.8 377.1,203.8 377.2,202.8 377.3,202.4 377.4,202.3 377.5,203.8 377.6,202.2 377.7,202.9 377.8,203.3 377.9,202.2 378.0,202.9 378.1,202.5 378.2,203.3 378.3,203.4 378.4,203.1 378.5,203.0 378.6,202.4 378.7,204.2 378.8,203.8 378.9,203.5 379.0,204.0 379.1,203.3 379.2,202.7 379.3,203.6 379.4,202.7 379.5,202.8 379.6,203.3 379.7,202.2 379.8,202.9 379.9,202.7 380.0,202.3 380.1,202.2 380.2,202.6 380.3,202.6 380.4,202.7 380.5,202.1 380.6,202.9 380.7,202.4 380.8,202.8 380.9,203.7 381.0,203.1 381.1,203.3 381.2,203.0 381.3,203.3 381.4,203.7 381.5,203.0 381.6,203.4 381.7,202.5 381.8,203.2 381.9,203.0 382.0,203.1 382.1,202.6 382.2,202.8 382.3,203.2 382.4,202.5 382.5,203.4"/>
<polyline stroke-width="1.05" points="36.0,269.3 36.1,267.6 36.2,268.6 36.3,267.6 36.4,268.3 36.5,266.8 36.6,266.7 36.7,266.2 36.8,267.3 36.9,266.5 37.0,266.5 37.1,267.1 37.2,266.8 37.3,267.5 37.4,267.6 37.5,267.7 37.6,268.7 37.7,267.0 37.8,267.2 37.9,267.0 38.0,267.5 38.1,266.1 38.2,266.4 38.3,266.8 38.4,267.2 38.5,266.8 38.6,266.5 38.7,266.3 38.8,267.2 38.9,267.8 39.0,267.1 39.1,267.0 39.2,267.2 39.3,266.2 39.4,266.6 39.5,266.7 39.6,266.9 39.7,266.5 39.8,265.5 39.9,266.9 40.0,267.1 40.1,265.6 40.2,265.9 40.3,266.0 40.4,266.5 40.5,265.1 40.6,267.3 40.7,266.0 40.8,267.3 40.9,266.7 41.0,266.3 41.1,266.4 41.2,267.0 41.3,265.7 41.4,266.0 41.5,265.8 41.6,264.9 41.7,267.3 41.8,267.2 41.9,267.1 42.0,268.2 42.1,267.1 42.2,268.1 42.3,269.6 42.4,268.8 42.5,266.4 42.6,265.4 42.7,266.6 42.8,267.8 42.9,266.5 43.0,266.4 43.1,266.8 43.2,265.8 43.3,266.4 43.4,266.8 43.5,266.5 43.6,266.4 43.7,265.6 43.8,266.4 43.9,265.7 44.0,266.9 44.1,267.7 44.2,265.5 44.3,264.5 44.4,265.7 44.5,266.1 44.6,266.5 44.7,266.5 44.8,265.2 44.9,265.2 45.0,266.5 45.1,264.9 45.2,266.3 45.3,265.3 45.4,266.0 45.5,265.9 45.6,265.9 45.7,265.8 45.8,264.6 45.9,265.5 46.0,265.3 46.1,265.6 46.2,266.2 46.3,265.3 46.4,265.0 46.5,265.0 46.6,265.4 46.7,266.1 46.8,265.1 46.9,266.5 47.0,266.0 47.1,265.7 47.2,265.0 47.3,266.0 47.4,266.2 47.5,264.5 47.6,266.4 47.7,266.6 47.8,265.7 47.9,265.7 48.0,267.1 48.1,266.4 48.2,265.0 48.3,265.7 48.4,265.7 48.5,265.8 48.6,264.4 48.7,266.4 48.8,265.4 48.9,265.8 49.0,265.5 49.1,266.0 49.2,265.1 49.3,264.7 49.4,265.6 49.5,266.2 49.6,265.0 49.7,266.2 49.8,265.4 49.9,264.9 50.0,266.3 50.1,264.8 50.2,266.2 50.3,265.3 50.4,266.0 50.5,265.0 50.6,265.4 50.7,266.8 50.8,266.1 50.9,265.9 51.0,265.5 51.1,266.0 51.2,264.7 51.3,264.8 51.4,265.3 51.5,264.8 51.6,264.7 51.7,265.1 51.8,264.9 51.9,264.7 52.0,265.9 52.1,265.4 52.2,265.5 52.3,264.7 52.4,264.4 52.5,263.8 52.6,264.5 52.7,263.4 52.8,264.4 52.9,265.3 53.0,265.9 53.1,265.5 53.2,264.4 53.3,265.3 53.4,264.5 53.5,265.5 53.6,265.0 53.7,265.7 53.8,266.9 53.9,265.9 54.0,266.9 54.1,265.6 54.2,265.4 54.3,266.2 54.4,266.2 54.5,264.6 54.6,264.8 54.7,263.7 54.8,264.2 54.9,264.7 55.0,264.1 55.1,263.8 55.2,263.2 55.3,264.2 55.4,264.5 55.5,264.3 55.6,264.1 55.7,263.2 55.8,265.1 55.9,264.0 56.0,264.0 56.1,264.6 56.2,263.0 56.3,264.2 56.4,264.0 56.5,264.1 56.6,264.5 56.7,263.8 56.8,262.3 56.9,263.0 57.0,263.1 57.1,263.1 57.2,262.3 57.3,262.1 57.4,263.3 57.5,263.2 57.6,263.0 57.7,262.0 57.8,264.0 57.9,261.5 58.0,262.9 58.1,264.3 58.2,263.1 58.3,263.3 58.4,262.6 58.5,263.9 58.6,262.4 58.7,263.2 58.8,263.0 58.9,262.3 59.0,263.3 59.1,262.0 59.2,262.3 59.3,262.5 59.4,262.2 59.5,262.6 59.6,262.8 59.7,262.0 59.8,261.8 59.9,261.8 60.0,261.9 60.1,262.5 60.2,261.9 60.3,262.2 60.4,262.0 60.5,261.5 60.6,262.1 60.7,260.9 60.8,261.1 60.9,261.6 61.0,260.0 61.1,260.2 61.2,259.2 61.3,259.9 61.4,259.6 61.5,260.3 61.6,260.4 61.7,260.9 61.8,261.8 61.9,261.3 62.0,261.3 62.1,260.7 62.2,260.4 62.3,259.9 62.4,259.3 62.5,259.9 62.6,260.5 62.7,259.8 62.8,259.2 62.9,260.1 63.0,259.0 63.1,258.8 63.2,258.4 63.3,258.3 63.4,258.7 63.5,259.6 63.6,258.7 63.7,258.3 63.8,258.4 63.9,258.5 64.0,257.9 64.1,258.5 64.2,258.5 64.3,258.2 64.4,258.1 64.5,257.3 64.6,257.0 64.7,257.8 64.8,257.4 64.9,256.4 65.0,256.6 65.1,256.3 65.2,256.1 65.3,255.7 65.4,255.2 65.5,255.0 65.6,254.6 65.7,254.2 65.8,253.4 65.9,252.8 66.0,252.7 66.1,252.1 66.2,251.9 66.3,251.5 66.4,250.9 66.5,250.3 66.6,249.7 66.7,249.3 66.8,248.4 66.9,248.0 67.0,247.3 67.1,246.6 67.2,246.2 67.3,245.4 67.4,245.0 67.5,244.3 67.6,243.8 67.7,243.2 67.8,242.7 67.9,241.9 68.0,241.2 68.1,240.3 68.2,239.6 68.3,238.7 68.4,237.6 68.5,236.7 68.6,235.6 68.7,234.6 68.8,233.4 68.9,232.2 69.0,231.2 69.1,230.0 69.2,228.8 69.3,227.6 69.4,226.3 69.5,225.0 69.6,223.5 69.7,222.1 69.8,220.5 69.9,218.8 70.0,217.2 70.1,215.7 70.2,214.1 70.3,212.7 70.4,211.3 70.5,210.0 70.6,208.8 70.7,207.7 70.8,206.7 70.9,205.6 71.0,204.5 71.1,203.6 71.2,202.6 71.3,201.8 71.4,201.0 71.5,200.5 71.6,199.8 71.7,199.4 71.8,199.1 71.9,198.8 72.0,198.3 72.1,198.1 72.2,197.9 72.3,197.8 72.4,197.5 72.5,197.7 72.6,197.6 72.7,198.1 72.8,198.4 72.9,198.8 73.0,199.3 73.1,200.0 73.2,200.7 73.3,201.0 73.4,201.5 73.5,201.9 73.6,202.2 73.7,202.9 73.8,203.3 73.9,203.7 74.0,203.9 74.1,204.4 74.2,204.6 74.3,205.0 74.4,205.0 74.5,205.1 74.6,205.3 74.7,205.8 74.8,205.7 74.9,205.7 75.0,205.7 75.1,205.9 75.2,206.5 75.3,205.9 75.4,206.1 75.5,206.5 75.6,206.7 75.7,206.6 75.8,207.0 75.9,207.2 76.0,207.6 76.1,208.0 76.2,208.6 76.3,209.0 76.4,209.7 76.5,210.4 76.6,211.6 76.7,212.6 76.8,213.7 76.9,215.0 77.0,216.1 77.1,217.3 77.2,218.2 77.3,219.2 77.4,219.9 77.5,220.7 77.6,221.6 77.7,222.4 77.8,223.0 77.9,223.9 78.0,224.7 78.1,225.4 78.2,226.1 78.3,226.8 78.4,227.6 78.5,228.1 78.6,228.7 78.7,229.5 78.8,230.1 78.9,230.9 79.0,231.4 79.1,231.9 79.2,232.4 79.3,233.1 79.4,233.6 79.5,234.2 79.6,234.8 79.7,235.3 79.8,235.9 79.9,236.4 80.0,237.1 80.1,237.6 80.2,237.7 80.3,238.6 80.4,238.7 80.5,239.3 80.6,239.4 80.7,239.9 80.8,240.2 80.9,240.6 81.0,241.1 81.1,241.4 81.2,241.6 81.3,242.1 81.4,242.6 81.5,242.9 81.6,243.1 81.7,243.5 81.8,243.8 81.9,244.0 82.0,244.3 82.1,245.1 82.2,245.1 82.3,245.4 82.4,245.5 82.5,246.1 82.6,246.5 82.7,246.3 82.8,246.7 82.9,246.7 83.0,247.3 83.1,247.2 83.2,246.9 83.3,247.5 83.4,247.4 83.5,247.5 83.6,247.5 83.7,247.5 83.8,247.8 83.9,248.2 84.0,248.3 84.1,248.3 84.2,249.1 84.3,248.8 84.4,248.9 84.5,249.0 84.6,249.5 84.7,249.7 84.8,249.6 84.9,249.9 85.0,249.5 85.1,249.8 85.2,249.8 85.3,250.0 85.4,250.2 85.5,249.5 85.6,251.0 85.7,249.8 85.8,250.3 85.9,250.6 86.0,250.8 86.1,250.7 86.2,249.9 86.3,250.6 86.4,251.3 86.5,250.7 86.6,250.6 86.7,250.1 86.8,251.2 86.9,250.9 87.0,250.3 87.1,250.5 87.2,250.6 87.3,250.3 87.4,250.7 87.5,251.0 87.6,251.2 87.7,251.5 87.8,251.2 87.9,251.0 88.0,251.2 88.1,250.8 88.2,250.5 88.3,251.3 88.4,250.7 88.5,250.8 88.6,251.1 88.7,250.6 88.8,251.3 88.9,251.3 89.0,251.2 89.1,251.4 89.2,251.1 89.3,250.5 89.4,251.0 89.5,250.7 89.6,251.2 89.7,250.9 89.8,250.5 89.9,250.6 90.0,250.9 90.1,250.7 90.2,250.4 90.3,250.4 90.4,250.1 90.5,250.0 90.6,250.1 90.7,249.8 90.8,249.8 90.9,249.3 91.0,249.0 91.1,248.8 91.2,248.9 91.3,249.2 91.4,249.1 91.5,248.5 91.6,248.3 91.7,248.5 91.8,248.2 91.9,247.7 92.0,247.8 92.1,247.3 92.2,247.2 92.3,246.6 92.4,246.3 92.5,245.9 92.6,245.3 92.7,245.1 92.8,244.6 92.9,244.5 93.0,243.8 93.1,243.4 93.2,243.3 93.3,242.9 93.4,242.5 93.5,242.0 93.6,241.3 93.7,240.9 93.8,240.5 93.9,240.1 94.0,239.4 94.1,239.1 94.2,238.7 94.3,238.1 94.4,237.7 94.5,237.3 94.6,236.7 94.7,236.2 94.8,235.6 94.9,235.0 95.0,234.3 95.1,233.6 95.2,232.9 95.3,232.0 95.4,231.1 95.5,230.2 95.6,229.1 95.7,228.1 95.8,227.1 95.9,226.0 96.0,225.0 96.1,224.0 96.2,223.0 96.3,222.0 96.4,221.1 96.5,220.4 96.6,219.4 96.7,218.3 96.8,217.2 96.9,216.1 97.0,214.7 97.1,213.1 97.2,211.0 97.3,208.5 97.4,205.9 97.5,203.2 97.6,200.7 97.7,198.1 97.8,196.1 97.9,194.2 98.0,192.6 98.1,191.0 98.2,189.5 98.3,188.1 98.4,186.8 98.5,185.3 98.6,183.7 98.7,182.0 98.8,180.0 98.9,177.6 99.0,174.6 99.1,171.4 99.2,167.9 99.3,164.3 99.4,160.7 99.5,157.4 99.6,154.3 99.7,151.9 99.8,149.9 99.9,148.5 100.0,147.0 100.1,145.6 100.2,144.3 100.3,142.8 100.4,141.4 100.5,140.4 100.6,139.3 100.7,138.2 100.8,137.2 100.9,136.3 101.0,135.4 101.1,134.6 101.2,134.1 101.3,133.7 101.4,133.2 101.5,133.5 101.6,132.4 101.7,133.2 101.8,134.1 101.9,135.3 102.0,137.0 102.1,138.9 102.2,141.0 102.3,143.4 102.4,145.6 102.5,147.9 102.6,149.9 102.7,152.1 102.8,154.3 102.9,156.6 103.0,159.1 103.1,161.7 103.2,164.3 103.3,166.9 103.4,169.6 103.5,172.3 103.6,174.9 103.7,177.4 103.8,180.1 103.9,182.6 104.0,185.1 104.1,187.7 104.2,190.2 104.3,192.8 104.4,195.3 104.5,197.7 104.6,200.0 104.7,202.3 104.8,204.6 104.9,206.9 105.0,209.1 105.1,211.2 105.2,213.1 105.3,214.8 105.4,216.3 105.5,217.6 105.6,218.9 105.7,220.1 105.8,221.3 105.9,222.5 106.0,223.7 106.1,224.8 106.2,226.1 106.3,227.4 106.4,228.7 106.5,230.2 106.6,231.5 106.7,232.6 106.8,233.6 106.9,234.5 107.0,235.2 107.1,236.0 107.2,236.6 107.3,237.2 107.4,237.7 107.5,238.3 107.6,238.7 107.7,239.4 107.8,239.5 107.9,240.2 108.0,240.8 108.1,241.1 108.2,241.3 108.3,241.7 108.4,241.7 108.5,242.0 108.6,242.3 108.7,242.6 108.8,243.0 108.9,242.9 109.0,243.6 109.1,243.3 109.2,243.7 109.3,244.2 109.4,244.7 109.5,244.6 109.6,244.5 109.7,245.2 109.8,245.4 109.9,245.4 110.0,245.6 110.1,245.9 110.2,246.3 110.3,246.7 110.4,246.5 110.5,247.5 110.6,247.3 110.7,247.4 110.8,247.9 110.9,248.0 111.0,248.7 111.1,248.6 111.2,248.4 111.3,248.6 111.4,248.7 111.5,248.9 111.6,249.4 111.7,249.3 111.8,250.1 111.9,249.9 112.0,250.1 112.1,250.7 112.2,250.2 112.3,250.7 112.4,251.2 112.5,251.2 112.6,251.3 112.7,251.5 112.8,251.4 112.9,251.6 113.0,251.4 113.1,251.4 113.2,252.4 113.3,251.9 113.4,252.1 113.5,252.8 113.6,252.8 113.7,252.5 113.8,252.5 113.9,252.6 114.0,252.3 114.1,252.7 114.2,252.6 114.3,252.6 114.4,252.7 114.5,252.9 114.6,253.4 114.7,253.4 114.8,252.6 114.9,253.5 115.0,253.1 115.1,253.1 115.2,253.9 115.3,253.5 115.4,253.7 115.5,254.2 115.6,253.7 115.7,253.7 115.8,254.2 115.9,254.6 116.0,254.5 116.1,254.0 116.2,254.4 116.3,254.7 116.4,255.5 116.5,255.2 116.6,255.2 116.7,255.3 116.8,254.7 116.9,254.9 117.0,254.9 117.1,254.3 117.2,254.6 117.3,255.0 117.4,254.7 117.5,255.5 117.6,255.7 117.7,256.0 117.8,255.6 117.9,256.1 118.0,256.6 118.1,256.5 118.2,255.9 118.3,256.3 118.4,256.8 118.5,256.3 118.6,256.5 118.7,257.3 118.8,256.3 118.9,256.2 119.0,255.8 119.1,255.8 119.2,256.6 119.3,255.9 119.4,255.6 119.5,255.7 119.6,256.1 119.7,256.5 119.8,256.0 119.9,256.6 120.0,256.2 120.1,256.5 120.2,256.6 120.3,256.7 120.4,256.4 120.5,256.5 120.6,256.8 120.7,256.2 120.8,256.8 120.9,257.0 121.0,257.3 121.1,257.0 121.2,257.0 121.3,257.2 121.4,256.9 121.5,257.2 121.6,257.5 121.7,257.5 121.8,257.1 121.9,257.4 122.0,256.8 122.1,258.0 122.2,257.5 122.3,257.9 122.4,257.5 122.5,258.0 122.6,258.3 122.7,258.6 122.8,257.9 122.9,258.6 123.0,258.2 123.1,257.9 123.2,258.3 123.3,257.9 123.4,257.9 123.5,257.7 123.6,258.1 123.7,258.1 123.8,258.1 123.9,257.9 124.0,258.2 124.1,258.6 124.2,259.0 124.3,258.6 124.4,259.1 124.5,258.6 124.6,258.2 124.7,258.9 124.8,258.3 124.9,258.8 125.0,259.2 125.1,258.8 125.2,259.0 125.3,260.1 125.4,259.4 125.5,259.5 125.6,259.8 125.7,259.5 125.8,259.5 125.9,259.6 126.0,258.6 126.1,260.0 126.2,259.1 126.3,259.1 126.4,259.8 126.5,259.6 126.6,259.2 126.7,259.8 126.8,259.4 126.9,259.6 127.0,259.4 127.1,259.6 127.2,259.9 127.3,259.8 127.4,259.7 127.5,259.9 127.6,259.4 127.7,259.1 127.8,259.3 127.9,260.1 128.0,259.6 128.1,259.7 128.2,259.6 128.3,259.8 128.4,260.0 128.5,259.8 128.6,259.7 128.7,259.4 128.8,259.4 128.9,259.9 129.0,260.0 129.1,260.1 129.2,259.8 129.3,259.6 129.4,260.4 129.5,260.5 129.6,259.7 129.7,260.8 129.8,260.9 129.9,261.3 130.0,260.1 130.1,260.0 130.2,260.9 130.3,259.7 130.4,260.2 130.5,260.0 130.6,260.0 130.7,259.6 130.8,260.2 130.9,260.7 131.0,260.4 131.1,260.4 131.2,260.0 131.3,260.8 131.4,260.4 131.5,260.6 131.6,259.5 131.7,260.3 131.8,259.7 131.9,260.4 132.0,260.3 132.1,259.8 132.2,260.5 132.3,260.9 132.4,260.7 132.5,260.8 132.6,260.3 132.7,260.3 132.8,260.0 132.9,260.5 133.0,260.9 133.1,260.5 133.2,260.3 133.3,259.8 133.4,260.4 133.5,260.1 133.6,259.4 133.7,259.5 133.8,260.1 133.9,259.8 134.0,260.9 134.1,260.3 134.2,259.9 134.3,260.2 134.4,261.2 134.5,260.2 134.6,261.0 134.7,261.0 134.8,261.5 134.9,261.2 135.0,260.9 135.1,261.5 135.2,261.4 135.3,261.9 135.4,261.5 135.5,262.3 135.6,261.2 135.7,261.3 135.8,260.7 135.9,260.9 136.0,260.7 136.1,260.6 136.2,260.9 136.3,260.2 136.4,260.1 136.5,260.9 136.6,260.3 136.7,260.1 136.8,260.9 136.9,260.7 137.0,259.1 137.1,260.1 137.2,260.6 137.3,260.6 137.4,259.9 137.5,260.8 137.6,259.8 137.7,260.0 137.8,260.2 137.9,260.1 138.0,260.5 138.1,260.5 138.2,260.1 138.3,260.8 138.4,260.0 138.5,260.3 138.6,261.3 138.7,260.7 138.8,261.2 138.9,260.6 139.0,260.7 139.1,260.8 139.2,261.0 139.3,260.7 139.4,260.9 139.5,261.2 139.6,261.5 139.7,261.0 139.8,261.1 139.9,261.2 140.0,260.3 140.1,260.0 140.2,261.4 140.3,261.2 140.4,260.7 140.5,260.8 140.6,260.3 140.7,260.1 140.8,260.9 140.9,260.1 141.0,261.2 141.1,260.4 141.2,260.9 141.3,261.6 141.4,261.5 141.5,260.6 141.6,261.2 141.7,260.2 141.8,260.4 141.9,260.8 142.0,261.3 142.1,260.4 142.2,260.9 142.3,260.7 142.4,260.1 142.5,260.5 142.6,261.2 142.7,260.3 142.8,260.5 142.9,260.6 143.0,259.8 143.1,260.6 143.2,260.7 143.3,260.8 143.4,260.8 143.5,260.1 143.6,260.1 143.7,260.0 143.8,260.1 143.9,260.1 144.0,261.0 144.1,261.2 144.2,260.3 144.3,261.0 144.4,260.1 144.5,260.6 144.6,260.2 144.7,259.9 144.8,260.6 144.9,260.6 145.0,260.3 145.1,260.2 145.2,259.9 145.3,260.3 145.4,260.2 145.5,260.5 145.6,259.9 145.7,260.6 145.8,260.7 145.9,261.1 146.0,261.0 146.1,260.6 146.2,260.2 146.3,259.6 146.4,260.4 146.5,261.0 146.6,261.1 146.7,259.3 146.8,260.1 146.9,260.3 147.0,260.0 147.1,260.6 147.2,260.6 147.3,260.3 147.4,260.6 147.5,260.0 147.6,260.3 147.7,260.4 147.8,261.3 147.9,260.2 148.0,260.9 148.1,261.2 148.2,260.8 148.3,261.1 148.4,260.4 148.5,260.8 148.6,260.9 148.7,261.4 148.8,260.8 148.9,261.1 149.0,260.5 149.1,260.5 149.2,261.2 149.3,260.7 149.4,261.1 149.5,260.8 149.6,261.5 149.7,261.6 149.8,260.3 149.9,261.5 150.0,260.9 150.1,261.0 150.2,260.7 150.3,261.0 150.4,260.2 150.5,260.4 150.6,260.4 150.7,260.8 150.8,261.0 150.9,261.0 151.0,260.9 151.1,260.5 151.2,260.1 151.3,261.0 151.4,261.0 151.5,261.1 151.6,261.3 151.7,260.4 151.8,260.2 151.9,259.1 152.0,260.1 152.1,259.6 152.2,259.1 152.3,259.7 152.4,259.3 152.5,259.6 152.6,260.8 152.7,260.4 152.8,260.7 152.9,260.7 153.0,260.6 153.1,260.3 153.2,261.1 153.3,260.0 153.4,260.3 153.5,259.8 153.6,259.6 153.7,258.8 153.8,259.0 153.9,260.4 154.0,260.4 154.1,259.6 154.2,259.8 154.3,260.0 154.4,259.4 154.5,260.5 154.6,259.4 154.7,259.5 154.8,258.7 154.9,260.4 155.0,259.8 155.1,260.4 155.2,259.4 155.3,259.8 155.4,259.7 155.5,259.7 155.6,260.4 155.7,260.4 155.8,260.0 155.9,259.3 156.0,259.8 156.1,259.9 156.2,259.5 156.3,259.5 156.4,259.4 156.5,258.8 156.6,259.1 156.7,259.5 156.8,258.5 156.9,258.8 157.0,258.9 157.1,258.1 157.2,258.5 157.3,258.0 157.4,258.3 157.5,258.0 157.6,258.1 157.7,258.2 157.8,258.2 157.9,258.1 158.0,257.3 158.1,258.3 158.2,257.6 158.3,257.1 158.4,257.1 158.5,257.2 158.6,256.7 158.7,256.8 158.8,256.6 158.9,256.8 159.0,256.3 159.1,256.6 159.2,256.4 159.3,256.2 159.4,256.5 159.5,256.1 159.6,255.7 159.7,256.0 159.8,255.9 159.9,255.7 160.0,255.7 160.1,256.1 160.2,255.3 160.3,255.2 160.4,254.9 160.5,255.2 160.6,254.6 160.7,254.4 160.8,254.2 160.9,254.7 161.0,254.7 161.1,254.0 161.2,254.2 161.3,254.4 161.4,254.3 161.5,253.6 161.6,253.6 161.7,253.7 161.8,253.2 161.9,253.0 162.0,252.8 162.1,252.5 162.2,252.7 162.3,252.7 162.4,252.1 162.5,252.4 162.6,252.6 162.7,252.2 162.8,252.2 162.9,251.6 163.0,252.0 163.1,251.2 163.2,251.8 163.3,250.9 163.4,250.6 163.5,250.5 163.6,250.5 163.7,250.4 163.8,250.3 163.9,250.3 164.0,250.7 164.1,250.7 164.2,250.2 164.3,250.9 164.4,250.1 164.5,250.2 164.6,250.2 164.7,250.9 164.8,250.3 164.9,250.4 165.0,251.4 165.1,251.6 165.2,251.6 165.3,250.9 165.4,251.5 165.5,251.9 165.6,251.7 165.7,251.3 165.8,251.8 165.9,251.5 166.0,251.7 166.1,252.7 166.2,252.4 166.3,252.0 166.4,252.1 166.5,252.8 166.6,252.7 166.7,253.2 166.8,253.0 166.9,253.2 167.0,253.5 167.1,253.2 167.2,253.1 167.3,253.4 167.4,253.7 167.5,253.9 167.6,254.1 167.7,254.3 167.8,254.6 167.9,254.4 168.0,255.2 168.1,255.6 168.2,255.4 168.3,255.5 168.4,255.9 168.5,255.8 168.6,255.7 168.7,255.7 168.8,255.6 168.9,255.5 169.0,256.0 169.1,256.4 169.2,255.9 169.3,256.3 169.4,256.6 169.5,256.6 169.6,256.6 169.7,256.9 169.8,256.4 169.9,257.0 170.0,256.9 170.1,257.7 170.2,257.3 170.3,256.8 170.4,256.9 170.5,257.5 170.6,257.5 170.7,257.0 170.8,256.9 170.9,256.5 171.0,256.9 171.1,257.0 171.2,256.8 171.3,257.8 171.4,256.5 171.5,257.2 171.6,257.5 171.7,257.5 171.8,258.0 171.9,256.8 172.0,257.1 172.1,257.4 172.2,257.4 172.3,257.2 172.4,257.1 172.5,257.8 172.6,257.0 172.7,257.3 172.8,258.2 172.9,258.4 173.0,258.2 173.1,257.5 173.2,257.6 173.3,257.6 173.4,257.6 173.5,257.9 173.6,258.7 173.7,258.3 173.8,258.0 173.9,258.0 174.0,257.8 174.1,258.8 174.2,257.3 174.3,258.3 174.4,257.5 174.5,257.6 174.6,257.4 174.7,258.5 174.8,258.1 174.9,259.3 175.0,257.7 175.1,257.7 175.2,258.5 175.3,258.5 175.4,258.2 175.5,257.5 175.6,259.1 175.7,258.8 175.8,258.7 175.9,258.4 176.0,259.0 176.1,258.4 176.2,258.6 176.3,258.4 176.4,259.0 176.5,258.1 176.6,258.1 176.7,258.7 176.8,258.3 176.9,258.2 177.0,258.1 177.1,258.6 177.2,257.9 177.3,258.4 177.4,259.1 177.5,258.3 177.6,257.8 177.7,257.6 177.8,258.2 177.9,257.5 178.0,257.3 178.1,257.7 178.2,257.5 178.3,258.3 178.4,257.2 178.5,258.4 178.6,257.3 178.7,257.6 178.8,257.8 178.9,257.8 179.0,258.1 179.1,257.5 179.2,257.0 179.3,258.1 179.4,257.6 179.5,258.2 179.6,258.7 179.7,258.1 179.8,257.8 179.9,257.4 180.0,257.6 180.1,257.5 180.2,256.8 180.3,257.7 180.4,257.3 180.5,258.0 180.6,257.8 180.7,258.6 180.8,258.7 180.9,258.4 181.0,258.3 181.1,258.5 181.2,258.9 181.3,258.7 181.4,258.3 181.5,258.3 181.6,258.8 181.7,257.5 181.8,258.5 181.9,257.9 182.0,258.9 182.1,258.2 182.2,258.4 182.3,258.0 182.4,258.4 182.5,258.7 182.6,259.0 182.7,257.6 182.8,257.9 182.9,259.7 183.0,258.3 183.1,257.9 183.2,258.1 183.3,256.7 183.4,258.4 183.5,257.8 183.6,257.0 183.7,258.1 183.8,257.4 183.9,257.2 184.0,258.0 184.1,258.0 184.2,257.6 184.3,257.9 184.4,257.4 184.5,257.3 184.6,258.2 184.7,258.4 184.8,257.9 184.9,257.9 185.0,257.5 185.1,257.5 185.2,257.2 185.3,258.4 185.4,257.4 185.5,257.9 185.6,257.7 185.7,257.1 185.8,258.6 185.9,257.6 186.0,257.4 186.1,257.8 186.2,257.4 186.3,257.8 186.4,257.4 186.5,258.1 186.6,257.9 186.7,257.3 186.8,258.3 186.9,257.9 187.0,257.4 187.1,258.0 187.2,258.0 187.3,258.7 187.4,257.5 187.5,258.2 187.6,257.8 187.7,258.1 187.8,257.8 187.9,257.9 188.0,258.1 188.1,257.3 188.2,256.9 188.3,257.8 188.4,257.6 188.5,257.8 188.6,258.0 188.7,257.7 188.8,258.3 188.9,257.8 189.0,257.9 189.1,258.3 189.2,258.2 189.3,258.0 189.4,258.0 189.5,257.5 189.6,257.5 189.7,257.7 189.8,257.9 189.9,257.3 190.0,257.7 190.1,258.3 190.2,258.5 190.3,257.7 190.4,258.3 190.5,258.2 190.6,258.4 190.7,258.5 190.8,258.4 190.9,258.5 191.0,258.1 191.1,257.9 191.2,258.1 191.3,258.1 191.4,258.4 191.5,258.2 191.6,258.5 191.7,258.9 191.8,258.0 191.9,258.4 192.0,258.9 192.1,258.8 192.2,258.4 192.3,259.3 192.4,258.9 192.5,258.5 192.6,259.7 192.7,258.4 192.8,259.0 192.9,258.5 193.0,258.7 193.1,258.7 193.2,258.0 193.3,258.2 193.4,258.0 193.5,257.5 193.6,258.5 193.7,258.2 193.8,258.2 193.9,258.1 194.0,258.4 194.1,258.7 194.2,258.6 194.3,259.3 194.4,257.7 194.5,257.9 194.6,258.7 194.7,258.0 194.8,258.8 194.9,258.5 195.0,259.0 195.1,258.9 195.2,259.2 195.3,259.1 195.4,259.2 195.5,258.8 195.6,259.0 195.7,258.9 195.8,258.5 195.9,258.3 196.0,258.4 196.1,259.2 196.2,258.1 196.3,259.3 196.4,258.9 196.5,259.5 196.6,259.2 196.7,258.7 196.8,259.0 196.9,258.0 197.0,259.0 197.1,259.1 197.2,258.0 197.3,259.1 197.4,258.6 197.5,258.6 197.6,257.9 197.7,258.7 197.8,258.8 197.9,258.6 198.0,258.2 198.1,259.1 198.2,259.4 198.3,259.1 198.4,259.5 198.5,258.8 198.6,259.1 198.7,259.2 198.8,259.1 198.9,260.3 199.0,259.2 199.1,258.8 199.2,259.4 199.3,258.6 199.4,259.2 199.5,259.4 199.6,258.9 199.7,259.0 199.8,258.7 199.9,259.1 200.0,258.7 200.1,259.6 200.2,259.1 200.3,258.6 200.4,258.0 200.5,259.5 200.6,259.2 200.7,259.0 200.8,258.9 200.9,259.0 201.0,258.8 201.1,260.0 201.2,259.3 201.3,258.6 201.4,258.9 201.5,258.1 201.6,259.5 201.7,259.6 201.8,260.0 201.9,260.1 202.0,258.8 202.1,259.2 202.2,259.3 202.3,259.1 202.4,258.4 202.5,258.9 202.6,258.7 202.7,259.0 202.8,258.5 202.9,258.4 203.0,258.3 203.1,258.4 203.2,258.2 203.3,258.4 203.4,258.8 203.5,258.8 203.6,259.2 203.7,259.1 203.8,258.9 203.9,258.2 204.0,259.0 204.1,259.2 204.2,258.1 204.3,258.1 204.4,258.2 204.5,258.1 204.6,258.4 204.7,258.1 204.8,258.7 204.9,258.2 205.0,258.7 205.1,258.7 205.2,258.6 205.3,259.6 205.4,259.3 205.5,259.4 205.6,258.9 205.7,259.3 205.8,259.1 205.9,258.7 206.0,257.9 206.1,258.9 206.2,258.8 206.3,258.5 206.4,258.4 206.5,258.3 206.6,258.3 206.7,257.7 206.8,258.0 206.9,258.2 207.0,257.8 207.1,257.6 207.2,258.8 207.3,258.3 207.4,257.9 207.5,257.8 207.6,256.9 207.7,257.5 207.8,258.0 207.9,258.6 208.0,257.3 208.1,257.8 208.2,259.0 208.3,258.5 208.4,258.6 208.5,259.0 208.6,258.5 208.7,258.6 208.8,259.1 208.9,259.3 209.0,258.3 209.1,259.3 209.2,257.8 209.3,258.0 209.4,259.5 209.5,257.8 209.6,258.2 209.7,257.5 209.8,257.8 209.9,257.6 210.0,257.7 210.1,258.2 210.2,258.6 210.3,258.3 210.4,258.6 210.5,257.7 210.6,258.5 210.7,258.2 210.8,258.5 210.9,257.8 211.0,257.8 211.1,258.5 211.2,258.1 211.3,257.9 211.4,257.5 211.5,257.7 211.6,257.9 211.7,257.9 211.8,257.5 211.9,257.7 212.0,258.1 212.1,257.6 212.2,258.6 212.3,258.3 212.4,258.3 212.5,257.2 212.6,257.4 212.7,257.5 212.8,257.5 212.9,257.1 213.0,257.6 213.1,257.3 213.2,257.2 213.3,256.5 213.4,258.0 213.5,257.3 213.6,257.8 213.7,257.3 213.8,257.6 213.9,257.9 214.0,257.6 214.1,257.9 214.2,257.4 214.3,258.2 214.4,256.6 214.5,257.1 214.6,257.7 214.7,257.2 214.8,257.1 214.9,256.6 215.0,257.8 215.1,256.6 215.2,257.6 215.3,257.3 215.4,257.5 215.5,257.6 215.6,256.6 215.7,256.5 215.8,256.6 215.9,255.9 216.0,257.0 216.1,256.7 216.2,257.0 216.3,256.6 216.4,257.2 216.5,257.1 216.6,257.5 216.7,256.9 216.8,257.7 216.9,256.9 217.0,256.0 217.1,257.1 217.2,256.6 217.3,256.3 217.4,257.6 217.5,256.6 217.6,256.1 217.7,256.3 217.8,256.7 217.9,256.4 218.0,257.0 218.1,256.8 218.2,256.0 218.3,256.3 218.4,256.4 218.5,255.9 218.6,255.8 218.7,256.3 218.8,256.1 218.9,255.4 219.0,255.7 219.1,255.7 219.2,255.8 219.3,255.5 219.4,256.3 219.5,255.4 219.6,255.4 219.7,255.9 219.8,255.0 219.9,255.5 220.0,256.1 220.1,255.4 220.2,255.6 220.3,256.3 220.4,256.0 220.5,255.8 220.6,255.9 220.7,255.5 220.8,255.9 220.9,255.6 221.0,256.6 221.1,255.8 221.2,255.4 221.3,255.5 221.4,255.4 221.5,254.9 221.6,255.0 221.7,255.9 221.8,254.8 221.9,255.1 222.0,255.6 222.1,255.8 222.2,254.8 222.3,255.7 222.4,254.9 222.5,255.6 222.6,255.1 222.7,254.7 222.8,255.0 222.9,254.9 223.0,254.3 223.1,255.3 223.2,254.3 223.3,254.8 223.4,254.1 223.5,253.6 223.6,253.7 223.7,254.1 223.8,254.3 223.9,254.7 224.0,254.1 224.1,253.9 224.2,253.6 224.3,254.0 224.4,254.0 224.5,253.1 224.6,254.2 224.7,254.1 224.8,254.4 224.9,253.2 225.0,253.5 225.1,253.4 225.2,252.8 225.3,252.9 225.4,252.7 225.5,253.1 225.6,253.0 225.7,253.2 225.8,252.6 225.9,252.2 226.0,252.7 226.1,252.7 226.2,252.7 226.3,252.8 226.4,252.2 226.5,252.5 226.6,251.9 226.7,252.1 226.8,252.2 226.9,251.9 227.0,251.9 227.1,251.3 227.2,251.4 227.3,251.4 227.4,250.9 227.5,250.8 227.6,251.5 227.7,250.8 227.8,250.3 227.9,250.1 228.0,250.6 228.1,249.3 228.2,249.8 228.3,249.8 228.4,249.3 228.5,249.4 228.6,248.9 228.7,249.0 228.8,248.9 228.9,248.7 229.0,248.6 229.1,248.4 229.2,248.4 229.3,248.0 229.4,247.7 229.5,247.5 229.6,247.3 229.7,246.8 229.8,246.5 229.9,246.3 230.0,246.2 230.1,245.7 230.2,245.4 230.3,245.5 230.4,244.8 230.5,244.2 230.6,243.8 230.7,243.7 230.8,243.0 230.9,242.9 231.0,242.4 231.1,242.1 231.2,241.4 231.3,241.1 231.4,240.3 231.5,240.0 231.6,239.6 231.7,239.1 231.8,238.2 231.9,238.0 232.0,237.4 232.1,236.8 232.2,236.2 232.3,235.7 232.4,235.1 232.5,234.7 232.6,234.1 232.7,233.6 232.8,233.0 232.9,232.1 233.0,231.6 233.1,231.2 233.2,230.2 233.3,229.6 233.4,228.8 233.5,228.1 233.6,227.4 233.7,226.7 233.8,225.9 233.9,225.0 234.0,224.2 234.1,223.2 234.2,222.4 234.3,221.5 234.4,220.5 234.5,219.6 234.6,218.6 234.7,217.7 234.8,216.7 234.9,215.6 235.0,214.7 235.1,213.7 235.2,212.8 235.3,211.9 235.4,210.9 235.5,210.0 235.6,209.3 235.7,208.2 235.8,207.5 235.9,206.7 236.0,205.8 236.1,204.9 236.2,203.8 236.3,202.9 236.4,201.8 236.5,200.6 236.6,199.4 236.7,198.1 236.8,196.8 236.9,195.3 237.0,193.5 237.1,191.7 237.2,189.5 237.3,187.3 237.4,184.9 237.5,182.5 237.6,179.8 237.7,176.8 237.8,173.6 237.9,170.0 238.0,165.7 238.1,160.5 238.2,155.2 238.3,150.0 238.4,144.3 238.5,138.0 238.6,133.1 238.7,130.7 238.8,132.5 238.9,136.2 239.0,141.1 239.1,146.1 239.2,150.0 239.3,152.9 239.4,155.7 239.5,158.3 239.6,160.7 239.7,163.0 239.8,165.0 239.9,167.0 240.0,168.7 240.1,170.5 240.2,172.2 240.3,173.8 240.4,175.3 240.5,176.7 240.6,178.1 240.7,179.3 240.8,180.5 240.9,181.8 241.0,182.8 241.1,183.9 241.2,185.0 241.3,186.0 241.4,187.1 241.5,188.1 241.6,189.1 241.7,190.1 241.8,190.9 241.9,191.9 242.0,192.8 242.1,193.7 242.2,194.5 242.3,195.4 242.4,196.1 242.5,196.7 242.6,197.4 242.7,198.0 242.8,199.0 242.9,199.5 243.0,200.1 243.1,200.6 243.2,201.4 243.3,202.0 243.4,202.5 243.5,203.1 243.6,203.7 243.7,204.5 243.8,205.0 243.9,205.6 244.0,206.4 244.1,207.1 244.2,207.8 244.3,208.4 244.4,208.8 244.5,209.3 244.6,209.7 244.7,209.5 244.8,210.3 244.9,210.2 245.0,209.4 245.1,209.7 245.2,209.9 245.3,209.8 245.4,209.7 245.5,208.9 245.6,208.8 245.7,208.6 245.8,208.5 245.9,208.0 246.0,207.9 246.1,207.5 246.2,207.2 246.3,206.6 246.4,206.5 246.5,206.2 246.6,205.8 246.7,205.7 246.8,205.2 246.9,205.2 247.0,204.7 247.1,204.9 247.2,204.7 247.3,204.1 247.4,204.1 247.5,204.0 247.6,203.6 247.7,203.8 247.8,203.6 247.9,203.2 248.0,203.3 248.1,203.3 248.2,203.0 248.3,202.7 248.4,203.1 248.5,202.4 248.6,202.6 248.7,202.7 248.8,202.6 248.9,201.7 249.0,202.3 249.1,202.4 249.2,202.6 249.3,202.9 249.4,203.2 249.5,203.5 249.6,203.9 249.7,204.4 249.8,204.9 249.9,205.0 250.0,205.9 250.1,206.1 250.2,206.8 250.3,207.0 250.4,207.7 250.5,208.1 250.6,208.8 250.7,209.3 250.8,209.8 250.9,210.4 251.0,211.1 251.1,211.6 251.2,212.3 251.3,213.0 251.4,213.8 251.5,214.5 251.6,215.2 251.7,216.0 251.8,216.8 251.9,217.7 252.0,218.4 252.1,219.3 252.2,220.2 252.3,220.9 252.4,221.7 252.5,222.7 252.6,223.6 252.7,224.7 252.8,225.7 252.9,226.7 253.0,227.8 253.1,228.8 253.2,229.8 253.3,230.8 253.4,231.7 253.5,232.6 253.6,233.5 253.7,234.4 253.8,234.9 253.9,235.7 254.0,236.2 254.1,237.0 254.2,237.7 254.3,238.2 254.4,238.8 254.5,239.5 254.6,240.0 254.7,240.8 254.8,241.4 254.9,241.7 255.0,242.5 255.1,242.8 255.2,243.2 255.3,243.8 255.4,244.3 255.5,244.6 255.6,244.9 255.7,245.5 255.8,245.5 255.9,246.0 256.0,246.2 256.1,246.3 256.2,246.4 256.3,246.7 256.4,247.1 256.5,247.5 256.6,247.4 256.7,247.7 256.8,248.3 256.9,247.9 257.0,248.5 257.1,248.6 257.2,248.8 257.3,248.6 257.4,249.1 257.5,249.0 257.6,249.6 257.7,249.4 257.8,249.8 257.9,249.7 258.0,250.0 258.1,249.8 258.2,250.3 258.3,250.5 258.4,250.5 258.5,250.9 258.6,250.8 258.7,251.1 258.8,251.2 258.9,251.6 259.0,251.3 259.1,251.5 259.2,251.7 259.3,252.0 259.4,252.0 259.5,252.3 259.6,252.3 259.7,252.2 259.8,252.4 259.9,252.6 260.0,252.2 260.1,253.1 260.2,252.8 260.3,252.9 260.4,253.2 260.5,253.2 260.6,253.0 260.7,253.4 260.8,253.8 260.9,253.8 261.0,253.9 261.1,253.6 261.2,253.7 261.3,254.1 261.4,254.2 261.5,253.9 261.6,253.7 261.7,253.6 261.8,254.4 261.9,253.8 262.0,254.3 262.1,254.5 262.2,255.2 262.3,254.5 262.4,254.5 262.5,254.7 262.6,254.8 262.7,255.1 262.8,255.1 262.9,254.7 263.0,254.4 263.1,255.1 263.2,254.9 263.3,255.4 263.4,254.8 263.5,255.2 263.6,255.0 263.7,255.0 263.8,255.7 263.9,255.4 264.0,255.3 264.1,255.6 264.2,255.3 264.3,255.5 264.4,255.5 264.5,256.3 264.6,256.0 264.7,256.1 264.8,256.4 264.9,256.1 265.0,256.1 265.1,255.7 265.2,256.3 265.3,256.3 265.4,256.1 265.5,256.5 265.6,255.7 265.7,256.5 265.8,256.1 265.9,256.3 266.0,256.7 266.1,257.3 266.2,256.7 266.3,256.9 266.4,256.8 266.5,257.7 266.6,257.2 266.7,257.1 266.8,257.6 266.9,257.0 267.0,256.2 267.1,256.6 267.2,256.4 267.3,257.3 267.4,256.3 267.5,256.7 267.6,256.5 267.7,256.4 267.8,256.6 267.9,256.7 268.0,256.6 268.1,256.5 268.2,256.7 268.3,256.7 268.4,256.8 268.5,257.1 268.6,257.0 268.7,257.2 268.8,257.0 268.9,257.7 269.0,256.9 269.1,256.8 269.2,257.4 269.3,256.8 269.4,257.1 269.5,257.3 269.6,257.0 269.7,256.9 269.8,257.2 269.9,257.1 270.0,256.9 270.1,256.8 270.2,257.2 270.3,256.8 270.4,257.2 270.5,257.2 270.6,257.6 270.7,257.6 270.8,257.1 270.9,257.1 271.0,256.9 271.1,256.7 271.2,256.9 271.3,257.2 271.4,257.1 271.5,257.0 271.6,256.7 271.7,255.8 271.8,256.9 271.9,256.9 272.0,257.0 272.1,257.1 272.2,257.3 272.3,258.0 272.4,257.4 272.5,258.0 272.6,257.9 272.7,257.8 272.8,257.5 272.9,257.3 273.0,257.0 273.1,257.5 273.2,257.2 273.3,256.8 273.4,257.0 273.5,257.0 273.6,258.0 273.7,257.5 273.8,257.7 273.9,257.3 274.0,257.5 274.1,258.1 274.2,257.6 274.3,257.6 274.4,258.1 274.5,258.1 274.6,257.5 274.7,257.4 274.8,257.3 274.9,257.1 275.0,257.8 275.1,256.7 275.2,257.1 275.3,256.4 275.4,256.6 275.5,257.3 275.6,257.4 275.7,257.5 275.8,257.4 275.9,257.4 276.0,257.6 276.1,257.7 276.2,258.1 276.3,258.1 276.4,257.7 276.5,257.2 276.6,257.0 276.7,257.3 276.8,257.0 276.9,256.5 277.0,257.7 277.1,257.2 277.2,257.2 277.3,257.1 277.4,257.1 277.5,257.8 277.6,257.2 277.7,257.6 277.8,257.8 277.9,258.3 278.0,257.9 278.1,257.8 278.2,257.7 278.3,258.1 278.4,258.1 278.5,257.5 278.6,257.8 278.7,257.5 278.8,256.9 278.9,257.1 279.0,257.7 279.1,257.9 279.2,257.6 279.3,257.3 279.4,257.1 279.5,257.6 279.6,257.5 279.7,256.8 279.8,257.6 279.9,257.1 280.0,257.6 280.1,257.5 280.2,257.6 280.3,257.6 280.4,257.5 280.5,257.0 280.6,257.0 280.7,257.6 280.8,257.5 280.9,256.8 281.0,256.7 281.1,257.5 281.2,257.8 281.3,257.3 281.4,256.8 281.5,256.9 281.6,255.9 281.7,256.3 281.8,256.9 281.9,256.9 282.0,256.0 282.1,257.0 282.2,256.8 282.3,256.9 282.4,256.6 282.5,256.6 282.6,256.2 282.7,256.6 282.8,256.7 282.9,256.1 283.0,256.4 283.1,256.1 283.2,256.6 283.3,256.6 283.4,255.7 283.5,256.4 283.6,256.5 283.7,256.1 283.8,256.2 283.9,256.0 284.0,255.6 284.1,255.7 284.2,256.0 284.3,255.5 284.4,255.6 284.5,255.3 284.6,255.2 284.7,254.9 284.8,254.9 284.9,255.1 285.0,254.8 285.1,254.4 285.2,254.1 285.3,254.0 285.4,254.2 285.5,254.1 285.6,253.6 285.7,254.0 285.8,253.9 285.9,253.8 286.0,253.5 286.1,254.0 286.2,253.5 286.3,252.9 286.4,252.9 286.5,253.0 286.6,252.8 286.7,252.6 286.8,252.5 286.9,252.4 287.0,252.2 287.1,252.0 287.2,252.2 287.3,251.4 287.4,251.7 287.5,252.0 287.6,251.4 287.7,251.2 287.8,251.7 287.9,251.4 288.0,251.0 288.1,250.8 288.2,250.8 288.3,250.7 288.4,250.6 288.5,250.3 288.6,250.5 288.7,250.2 288.8,249.7 288.9,249.6 289.0,249.7 289.1,249.3 289.2,248.8 289.3,249.4 289.4,249.0 289.5,248.7 289.6,248.5 289.7,248.6 289.8,248.6 289.9,248.0 290.0,248.1 290.1,247.7 290.2,247.7 290.3,247.2 290.4,246.8 290.5,246.9 290.6,246.7 290.7,246.6 290.8,246.1 290.9,246.3 291.0,245.9 291.1,246.0 291.2,245.5 291.3,245.7 291.4,245.2 291.5,245.1 291.6,245.1 291.7,244.4 291.8,244.4 291.9,244.7 292.0,244.0 292.1,243.9 292.2,243.9 292.3,243.8 292.4,243.2 292.5,243.0 292.6,242.5 292.7,242.3 292.8,242.1 292.9,241.7 293.0,241.4 293.1,241.1 293.2,240.8 293.3,240.5 293.4,240.1 293.5,239.6 293.6,239.5 293.7,238.9 293.8,238.7 293.9,238.4 294.0,237.9 294.1,237.6 294.2,236.7 294.3,236.4 294.4,235.8 294.5,235.3 294.6,234.7 294.7,234.2 294.8,233.9 294.9,233.3 295.0,232.8 295.1,232.1 295.2,231.4 295.3,230.5 295.4,229.7 295.5,228.8 295.6,227.9 295.7,226.8 295.8,225.9 295.9,224.9 296.0,224.2 296.1,223.3 296.2,222.5 296.3,221.8 296.4,221.4 296.5,220.8 296.6,220.5 296.7,220.1 296.8,219.7 296.9,219.5 297.0,219.2 297.1,219.2 297.2,218.5 297.3,218.3 297.4,217.7 297.5,217.3 297.6,217.4 297.7,217.2 297.8,216.4 297.9,216.2 298.0,216.0 298.1,215.5 298.2,214.8 298.3,214.8 298.4,214.3 298.5,214.0 298.6,213.4 298.7,213.2 298.8,212.8 298.9,212.2 299.0,212.0 299.1,211.6 299.2,211.3 299.3,211.1 299.4,211.1 299.5,211.1 299.6,211.7 299.7,211.5 299.8,211.5 299.9,212.2 300.0,212.2 300.1,212.6 300.2,212.7 300.3,213.2 300.4,213.4 300.5,213.7 300.6,214.3 300.7,214.7 300.8,215.2 300.9,215.7 301.0,215.9 301.1,216.5 301.2,216.9 301.3,217.5 301.4,218.1 301.5,218.7 301.6,219.3 301.7,220.1 301.8,220.7 301.9,221.5 302.0,222.3 302.1,223.0 302.2,223.7 302.3,224.6 302.4,225.4 302.5,226.1 302.6,226.7 302.7,227.4 302.8,228.2 302.9,228.8 303.0,229.6 303.1,230.2 303.2,231.0 303.3,231.6 303.4,232.5 303.5,233.0 303.6,233.7 303.7,234.3 303.8,235.0 303.9,235.7 304.0,236.3 304.1,237.0 304.2,237.5 304.3,238.1 304.4,238.8 304.5,239.2 304.6,239.7 304.7,240.1 304.8,240.5 304.9,240.9 305.0,241.4 305.1,241.6 305.2,241.8 305.3,242.0 305.4,242.3 305.5,243.1 305.6,242.9 305.7,243.3 305.8,243.5 305.9,243.9 306.0,244.0 306.1,244.4 306.2,244.9 306.3,244.7 306.4,245.2 306.5,245.3 306.6,245.6 306.7,245.5 306.8,245.9 306.9,245.8 307.0,245.8 307.1,246.0 307.2,246.2 307.3,246.3 307.4,246.6 307.5,247.0 307.6,246.6 307.7,247.0 307.8,247.0 307.9,246.8 308.0,246.8 308.1,247.2 308.2,247.2 308.3,247.1 308.4,247.3 308.5,247.4 308.6,247.3 308.7,247.8 308.8,248.0 308.9,248.5 309.0,247.8 309.1,248.0 309.2,248.3 309.3,248.2 309.4,248.3 309.5,248.5 309.6,248.5 309.7,248.6 309.8,248.8 309.9,248.0 310.0,248.7 310.1,247.8 310.2,248.8 310.3,248.5 310.4,248.0 310.5,248.3 310.6,247.9 310.7,247.9 310.8,247.8 310.9,247.5 311.0,247.3 311.1,247.2 311.2,246.8 311.3,246.6 311.4,246.3 311.5,245.9 311.6,246.3 311.7,245.9 311.8,245.3 311.9,245.4 312.0,245.2 312.1,244.6 312.2,244.7 312.3,244.7 312.4,245.0 312.5,244.7 312.6,244.5 312.7,244.2 312.8,244.1 312.9,243.5 313.0,243.7 313.1,243.6 313.2,243.0 313.3,243.2 313.4,243.4 313.5,243.4 313.6,243.3 313.7,242.7 313.8,242.9 313.9,242.7 314.0,243.1 314.1,242.5 314.2,242.3 314.3,242.0 314.4,242.6 314.5,242.7 314.6,242.4 314.7,242.4 314.8,242.6 314.9,243.1 315.0,242.6 315.1,243.0 315.2,243.2 315.3,243.4 315.4,243.7 315.5,243.8 315.6,243.9 315.7,244.3 315.8,244.4 315.9,244.5 316.0,244.7 316.1,244.7 316.2,245.2 316.3,245.3 316.4,245.4 316.5,245.8 316.6,245.8 316.7,246.2 316.8,246.5 316.9,246.9 317.0,247.0 317.1,247.4 317.2,247.9 317.3,248.0 317.4,248.0 317.5,248.1 317.6,248.5 317.7,248.7 317.8,248.8 317.9,249.1 318.0,249.4 318.1,249.8 318.2,250.3 318.3,250.6 318.4,250.5 318.5,250.8 318.6,250.9 318.7,251.1 318.8,251.6 318.9,251.9 319.0,252.1 319.1,252.6 319.2,252.7 319.3,253.2 319.4,253.2 319.5,253.7 319.6,253.7 319.7,253.9 319.8,254.2 319.9,253.9 320.0,254.2 320.1,254.5 320.2,254.5 320.3,254.8 320.4,254.7 320.5,254.7 320.6,255.1 320.7,255.3 320.8,255.1 320.9,255.7 321.0,255.7 321.1,255.8 321.2,255.9 321.3,255.6 321.4,256.5 321.5,255.9 321.6,256.3 321.7,256.5 321.8,256.5 321.9,256.6 322.0,256.4 322.1,256.6 322.2,256.8 322.3,257.3 322.4,256.8 322.5,257.2 322.6,257.2 322.7,257.2 322.8,257.1 322.9,257.3 323.0,256.9 323.1,257.5 323.2,257.6 323.3,257.4 323.4,257.8 323.5,257.8 323.6,257.6 323.7,258.1 323.8,257.7 323.9,258.6 324.0,257.5 324.1,257.6 324.2,257.6 324.3,257.9 324.4,258.1 324.5,258.0 324.6,257.9 324.7,258.8 324.8,258.6 324.9,258.3 325.0,258.5 325.1,258.2 325.2,258.7 325.3,259.2 325.4,258.3 325.5,258.2 325.6,258.6 325.7,257.8 325.8,259.0 325.9,258.2 326.0,258.5 326.1,258.8 326.2,259.3 326.3,259.2 326.4,258.5 326.5,258.7 326.6,259.2 326.7,258.3 326.8,258.7 326.9,258.4 327.0,258.8 327.1,258.8 327.2,257.4 327.3,258.5 327.4,258.7 327.5,258.4 327.6,258.6 327.7,258.5 327.8,259.0 327.9,259.3 328.0,259.7 328.1,259.8 328.2,259.2 328.3,259.1 328.4,259.7 328.5,258.5 328.6,259.0 328.7,259.7 328.8,260.1 328.9,259.2 329.0,259.4 329.1,259.0 329.2,259.3 329.3,259.3 329.4,259.2 329.5,259.6 329.6,259.5 329.7,259.8 329.8,259.6 329.9,259.4 330.0,259.9 330.1,260.1 330.2,259.7 330.3,260.4 330.4,260.2 330.5,260.0 330.6,260.2 330.7,260.2 330.8,260.1 330.9,260.7 331.0,260.7 331.1,260.4 331.2,260.6 331.3,260.6 331.4,260.9 331.5,261.2 331.6,260.6 331.7,260.9 331.8,260.8 331.9,261.0 332.0,261.3 332.1,260.6 332.2,260.3 332.3,260.9 332.4,260.5 332.5,261.6 332.6,260.9 332.7,261.0 332.8,261.3 332.9,261.3 333.0,261.1 333.1,261.3 333.2,261.7 333.3,261.3 333.4,262.2 333.5,261.7 333.6,260.7 333.7,261.9 333.8,261.0 333.9,261.8 334.0,262.5 334.1,262.1 334.2,261.3 334.3,261.3 334.4,261.6 334.5,262.1 334.6,261.2 334.7,261.9 334.8,261.5 334.9,261.3 335.0,261.3 335.1,262.0 335.2,260.8 335.3,260.9 335.4,261.7 335.5,261.7 335.6,260.9 335.7,261.0 335.8,261.0 335.9,261.6 336.0,261.2 336.1,261.9 336.2,261.7 336.3,261.5 336.4,261.5 336.5,261.7 336.6,261.9 336.7,261.6 336.8,261.7 336.9,262.0 337.0,261.7 337.1,262.0 337.2,261.5 337.3,261.1 337.4,261.4 337.5,261.9 337.6,261.7 337.7,260.4 337.8,261.1 337.9,260.8 338.0,260.9 338.1,260.9 338.2,260.9 338.3,260.8 338.4,260.8 338.5,261.1 338.6,260.6 338.7,260.7 338.8,260.8 338.9,260.9 339.0,261.6 339.1,261.0 339.2,261.3 339.3,261.3 339.4,261.5 339.5,261.2 339.6,261.5 339.7,261.1 339.8,261.1 339.9,261.3 340.0,260.5 340.1,261.3 340.2,261.7 340.3,261.2 340.4,261.1 340.5,261.9 340.6,261.3 340.7,261.7 340.8,260.4 340.9,261.3 341.0,261.1 341.1,261.5 341.2,261.7 341.3,261.3 341.4,261.2 341.5,260.4 341.6,261.6 341.7,261.7 341.8,261.3 341.9,261.1 342.0,261.3 342.1,261.4 342.2,261.2 342.3,261.6 342.4,260.6 342.5,260.2 342.6,260.8 342.7,261.0 342.8,260.5 342.9,260.7 343.0,260.6 343.1,260.4 343.2,260.6 343.3,260.2 343.4,260.8 343.5,260.8 343.6,260.8 343.7,260.1 343.8,260.0 343.9,259.5 344.0,259.4 344.1,260.3 344.2,261.0 344.3,259.7 344.4,260.0 344.5,260.6 344.6,260.1 344.7,260.6 344.8,260.2 344.9,260.1 345.0,260.4 345.1,259.9 345.2,259.4 345.3,260.0 345.4,259.6 345.5,259.4 345.6,259.3 345.7,259.8 345.8,259.3 345.9,259.6 346.0,259.9 346.1,259.5 346.2,260.0 346.3,259.2 346.4,260.0 346.5,260.0 346.6,260.6 346.7,260.0 346.8,260.4 346.9,259.9 347.0,259.6 347.1,259.6 347.2,259.6 347.3,260.0 347.4,259.4 347.5,259.6 347.6,259.9 347.7,260.0 347.8,259.9 347.9,260.0 348.0,259.0 348.1,259.2 348.2,259.5 348.3,259.8 348.4,259.6 348.5,259.1 348.6,259.3 348.7,258.8 348.8,259.7 348.9,258.8 349.0,259.5 349.1,259.9 349.2,259.9 349.3,259.0 349.4,259.7 349.5,259.5 349.6,259.6 349.7,260.3 349.8,259.7 349.9,259.0 350.0,259.1 350.1,259.8 350.2,259.6 350.3,259.0 350.4,258.8 350.5,259.3 350.6,259.3 350.7,259.8 350.8,259.3 350.9,259.8 351.0,260.0 351.1,259.0 351.2,259.4 351.3,260.3 351.4,259.6 351.5,259.8 351.6,260.2 351.7,259.7 351.8,259.7 351.9,259.2 352.0,259.9 352.1,259.5 352.2,259.5 352.3,258.6 352.4,259.8 352.5,259.8 352.6,259.3 352.7,260.0 352.8,258.7 352.9,259.6 353.0,259.1 353.1,260.7 353.2,258.8 353.3,259.3 353.4,259.5 353.5,260.1 353.6,260.1 353.7,260.0 353.8,259.8 353.9,260.7 354.0,259.8 354.1,260.3 354.2,260.9 354.3,259.9 354.4,260.2 354.5,260.9 354.6,260.7 354.7,260.1 354.8,260.6 354.9,261.3 355.0,260.5 355.1,260.9 355.2,260.7 355.3,260.5 355.4,261.3 355.5,261.1 355.6,261.2 355.7,260.8 355.8,260.9 355.9,261.0 356.0,261.1 356.1,260.8 356.2,260.7 356.3,261.3 356.4,260.5 356.5,260.7 356.6,260.7 356.7,260.6 356.8,260.5 356.9,260.6 357.0,261.2 357.1,260.8 357.2,260.8 357.3,261.6 357.4,260.7 357.5,261.5 357.6,261.4 357.7,260.9 357.8,261.3 357.9,261.4 358.0,262.1 358.1,261.9 358.2,261.5 358.3,261.3 358.4,261.1 358.5,261.6 358.6,261.2 358.7,261.6 358.8,261.7 358.9,261.9 359.0,262.2 359.1,262.1 359.2,262.3 359.3,262.2 359.4,262.6 359.5,262.6 359.6,262.9 359.7,262.9 359.8,262.2 359.9,262.0 360.0,262.8 360.1,263.0 360.2,262.4 360.3,263.1 360.4,262.6 360.5,262.5 360.6,262.6 360.7,262.0 360.8,261.9 360.9,262.4 361.0,262.2 361.1,262.6 361.2,262.7 361.3,261.9 361.4,262.5 361.5,263.0 361.6,262.1 361.7,262.8 361.8,262.4 361.9,262.2 362.0,263.4 362.1,263.4 362.2,262.9 362.3,262.9 362.4,263.7 362.5,263.8 362.6,263.4 362.7,263.8 362.8,263.7 362.9,263.6 363.0,264.0 363.1,263.7 363.2,264.1 363.3,263.9 363.4,263.9 363.5,263.9 363.6,264.3 363.7,264.4 363.8,264.1 363.9,263.5 364.0,264.0 364.1,263.3 364.2,263.1 364.3,263.4 364.4,263.7 364.5,263.7 364.6,263.7 364.7,264.0 364.8,263.9 364.9,263.4 365.0,263.9 365.1,263.4 365.2,263.6 365.3,263.5 365.4,263.2 365.5,262.6 365.6,263.0 365.7,262.8 365.8,263.0 365.9,263.1 366.0,262.9 366.1,262.9 366.2,263.9 366.3,264.0 366.4,264.0 366.5,263.9 366.6,264.6 366.7,264.1 366.8,263.9 366.9,264.2 367.0,263.9 367.1,264.2 367.2,264.0 367.3,264.0 367.4,263.8 367.5,263.6 367.6,263.9 367.7,264.1 367.8,263.3 367.9,263.5 368.0,263.4 368.1,264.2 368.2,263.9 368.3,264.4 368.4,263.9 368.5,264.6 368.6,264.0 368.7,263.9 368.8,264.2 368.9,263.7 369.0,263.5 369.1,264.0 369.2,263.5 369.3,264.1 369.4,264.7 369.5,263.6 369.6,263.7 369.7,263.3 369.8,263.6 369.9,264.3 370.0,264.2 370.1,264.2 370.2,264.3 370.3,263.9 370.4,263.6 370.5,264.6 370.6,264.3 370.7,264.6 370.8,264.1 370.9,264.4 371.0,263.8 371.1,263.9 371.2,263.8 371.3,264.0 371.4,264.5 371.5,264.3 371.6,263.0 371.7,264.2 371.8,264.4 371.9,264.8 372.0,264.6 372.1,264.3 372.2,264.3 372.3,264.5 372.4,264.4 372.5,265.2 372.6,264.9 372.7,264.7 372.8,265.0 372.9,265.3 373.0,264.3 373.1,264.2 373.2,264.0 373.3,263.5 373.4,263.7 373.5,263.5 373.6,264.1 373.7,264.1 373.8,264.3 373.9,263.6 374.0,264.3 374.1,263.5 374.2,264.0 374.3,264.6 374.4,264.7 374.5,264.8 374.6,265.3 374.7,265.0 374.8,264.6 374.9,264.6 375.0,264.3 375.1,264.7 375.2,264.3 375.3,264.3 375.4,264.1 375.5,263.8 375.6,265.4 375.7,264.7 375.8,263.5 375.9,264.4 376.0,264.0 376.1,263.3 376.2,264.0 376.3,264.2 376.4,264.4 376.5,264.7 376.6,264.0 376.7,264.3 376.8,264.7 376.9,264.7 377.0,264.6 377.1,264.5 377.2,265.0 377.3,264.0 377.4,263.9 377.5,265.2 377.6,264.7 377.7,265.0 377.8,264.7 377.9,264.4 378.0,264.4 378.1,264.6 378.2,264.4 378.3,264.6 378.4,264.6 378.5,265.0 378.6,265.1 378.7,265.4 378.8,264.6 378.9,264.9 379.0,265.4 379.1,265.1 379.2,264.0 379.3,265.1 379.4,264.9 379.5,264.7 379.6,264.7 379.7,264.6 379.8,265.4 379.9,265.3 380.0,265.2 380.1,265.6 380.2,265.6 380.3,265.0 380.4,265.0 380.5,265.0 380.6,265.6 380.7,265.3 380.8,265.8 380.9,265.5 381.0,265.2 381.1,264.8 381.2,265.1 381.3,266.1 381.4,264.9 381.5,264.8 381.6,265.0 381.7,265.6 381.8,265.0 381.9,264.6 382.0,264.9 382.1,265.1 382.2,265.2 382.3,265.6 382.4,266.2 382.5,265.8"/>
</g>
<g stroke="#000" stroke-width="1.1">
<line x1="44.87" y1="303.8" x2="44.87" y2="300.8"/>
<line x1="44.87" y1="22.6" x2="44.87" y2="25.6"/>
<line x1="53.54" y1="303.8" x2="53.54" y2="300.8"/>
<line x1="53.54" y1="22.6" x2="53.54" y2="25.6"/>
<line x1="62.21" y1="303.8" x2="62.21" y2="300.8"/>
<line x1="62.21" y1="22.6" x2="62.21" y2="25.6"/>
<line x1="70.88" y1="303.8" x2="70.88" y2="300.8"/>
<line x1="70.88" y1="22.6" x2="70.88" y2="25.6"/>
<line x1="79.55" y1="303.8" x2="79.55" y2="298.3"/>
<line x1="79.55" y1="22.6" x2="79.55" y2="28.1"/>
<line x1="88.22" y1="303.8" x2="88.22" y2="300.8"/>
<line x1="88.22" y1="22.6" x2="88.22" y2="25.6"/>
<line x1="96.89" y1="303.8" x2="96.89" y2="300.8"/>
<line x1="96.89" y1="22.6" x2="96.89" y2="25.6"/>
<line x1="105.56" y1="303.8" x2="105.56" y2="300.8"/>
<line x1="105.56" y1="22.6" x2="105.56" y2="25.6"/>
<line x1="114.23" y1="303.8" x2="114.23" y2="300.8"/>
<line x1="114.23" y1="22.6" x2="114.23" y2="25.6"/>
<line x1="122.90" y1="303.8" x2="122.90" y2="298.3"/>
<line x1="122.90" y1="22.6" x2="122.90" y2="28.1"/>
<line x1="131.57" y1="303.8" x2="131.57" y2="300.8"/>
<line x1="131.57" y1="22.6" x2="131.57" y2="25.6"/>
<line x1="140.24" y1="303.8" x2="140.24" y2="300.8"/>
<line x1="140.24" y1="22.6" x2="140.24" y2="25.6"/>
<line x1="148.91" y1="303.8" x2="148.91" y2="300.8"/>
<line x1="148.91" y1="22.6" x2="148.91" y2="25.6"/>
<line x1="157.58" y1="303.8" x2="157.58" y2="300.8"/>
<line x1="157.58" y1="22.6" x2="157.58" y2="25.6"/>
<line x1="166.25" y1="303.8" x2="166.25" y2="298.3"/>
<line x1="166.25" y1="22.6" x2="166.25" y2="28.1"/>
<line x1="174.92" y1="303.8" x2="174.92" y2="300.8"/>
<line x1="174.92" y1="22.6" x2="174.92" y2="25.6"/>
<line x1="183.59" y1="303.8" x2="183.59" y2="300.8"/>
<line x1="183.59" y1="22.6" x2="183.59" y2="25.6"/>
<line x1="192.26" y1="303.8" x2="192.26" y2="300.8"/>
<line x1="192.26" y1="22.6" x2="192.26" y2="25.6"/>
<line x1="200.93" y1="303.8" x2="200.93" y2="300.8"/>
<line x1="200.93" y1="22.6" x2="200.93" y2="25.6"/>
<line x1="209.60" y1="303.8" x2="209.60" y2="298.3"/>
<line x1="209.60" y1="22.6" x2="209.60" y2="28.1"/>
<line x1="218.27" y1="303.8" x2="218.27" y2="300.8"/>
<line x1="218.27" y1="22.6" x2="218.27" y2="25.6"/>
<line x1="226.94" y1="303.8" x2="226.94" y2="300.8"/>
<line x1="226.94" y1="22.6" x2="226.94" y2="25.6"/>
<line x1="235.61" y1="303.8" x2="235.61" y2="300.8"/>
<line x1="235.61" y1="22.6" x2="235.61" y2="25.6"/>
<line x1="244.28" y1="303.8" x2="244.28" y2="300.8"/>
<line x1="244.28" y1="22.6" x2="244.28" y2="25.6"/>
<line x1="252.95" y1="303.8" x2="252.95" y2="298.3"/>
<line x1="252.95" y1="22.6" x2="252.95" y2="28.1"/>
<line x1="261.62" y1="303.8" x2="261.62" y2="300.8"/>
<line x1="261.62" y1="22.6" x2="261.62" y2="25.6"/>
<line x1="270.29" y1="303.8" x2="270.29" y2="300.8"/>
<line x1="270.29" y1="22.6" x2="270.29" y2="25.6"/>
<line x1="278.96" y1="303.8" x2="278.96" y2="300.8"/>
<line x1="278.96" y1="22.6" x2="278.96" y2="25.6"/>
<line x1="287.63" y1="303.8" x2="287.63" y2="300.8"/>
<line x1="287.63" y1="22.6" x2="287.63" y2="25.6"/>
<line x1="296.30" y1="303.8" x2="296.30" y2="298.3"/>
<line x1="296.30" y1="22.6" x2="296.30" y2="28.1"/>
<line x1="304.97" y1="303.8" x2="304.97" y2="300.8"/>
<line x1="304.97" y1="22.6" x2="304.97" y2="25.6"/>
<line x1="313.64" y1="303.8" x2="313.64" y2="300.8"/>
<line x1="313.64" y1="22.6" x2="313.64" y2="25.6"/>
<line x1="322.31" y1="303.8" x2="322.31" y2="300.8"/>
<line x1="322.31" y1="22.6" x2="322.31" y2="25.6"/>
<line x1="330.98" y1="303.8" x2="330.98" y2="300.8"/>
<line x1="330.98" y1="22.6" x2="330.98" y2="25.6"/>
<line x1="339.65" y1="303.8" x2="339.65" y2="298.3"/>
<line x1="339.65" y1="22.6" x2="339.65" y2="28.1"/>
<line x1="348.32" y1="303.8" x2="348.32" y2="300.8"/>
<line x1="348.32" y1="22.6" x2="348.32" y2="25.6"/>
<line x1="356.99" y1="303.8" x2="356.99" y2="300.8"/>
<line x1="356.99" y1="22.6" x2="356.99" y2="25.6"/>
<line x1="365.66" y1="303.8" x2="365.66" y2="300.8"/>
<line x1="365.66" y1="22.6" x2="365.66" y2="25.6"/>
<line x1="374.33" y1="303.8" x2="374.33" y2="300.8"/>
<line x1="374.33" y1="22.6" x2="374.33" y2="25.6"/>
</g>
<rect x="36.2" y="22.6" width="346.8" height="281.2" fill="none" stroke="#000" stroke-width="1.4"/>
<g font-size="14">
<text x="36.20" y="320.8" text-anchor="middle">20</text>
<text x="79.55" y="320.8" text-anchor="middle">25</text>
<text x="122.90" y="320.8" text-anchor="middle">30</text>
<text x="166.25" y="320.8" text-anchor="middle">35</text>
<text x="209.60" y="320.8" text-anchor="middle">40</text>
<text x="252.95" y="320.8" text-anchor="middle">45</text>
<text x="296.30" y="320.8" text-anchor="middle">50</text>
<text x="339.65" y="320.8" text-anchor="middle">55</text>
<text x="383.00" y="320.8" text-anchor="middle">60</text>
</g>
<g font-size="15">
<text x="164.85" y="345.2">2</text>
<text x="174.9" y="345.4" font-family="Liberation Serif" font-style="italic" font-size="15.5">&#952;</text>
<text x="186.5" y="345.2">[Cu K</text>
<text x="224.4" y="345.6" font-size="14.5">&#945;</text>
<text x="233.3" y="345.2">] /&#176;</text>
</g>
<text transform="translate(12.6,204.1) rotate(-90)" x="0" y="0" font-size="15.5">Intensity /a.u</text>
<g class="l">
<text x="48.45" y="115.60" font-size="16" text-anchor="middle">C</text>
<text x="47.20" y="184.00" font-size="16" text-anchor="middle">B</text>
<text x="46.70" y="257.80" font-size="16" text-anchor="middle">A</text>
</g>
<g class="m">
<text transform="translate(75.05,97.20) scale(0.9,1)" font-size="15" text-anchor="middle">#</text>
<text transform="translate(81.75,103.00) scale(0.9,1)" font-size="15" text-anchor="middle">#</text>
<text transform="translate(105.25,69.30) scale(0.9,1)" font-size="15" text-anchor="middle">#</text>
<text transform="translate(166.80,112.30) scale(0.9,1)" font-size="15" text-anchor="middle">#</text>
<text transform="translate(243.30,67.80) scale(0.9,1)" font-size="15" text-anchor="middle">#</text>
<text transform="translate(251.85,81.60) scale(0.9,1)" font-size="15" text-anchor="middle">#</text>
<text transform="translate(302.80,92.60) scale(0.9,1)" font-size="15" text-anchor="middle">#</text>
<text transform="translate(317.85,104.50) scale(0.9,1)" font-size="15" text-anchor="middle">#</text>
<text transform="translate(353.35,117.80) scale(0.9,1)" font-size="15" text-anchor="middle">#</text>
<text transform="translate(72.70,193.80) scale(0.9,1)" font-size="15" text-anchor="middle">#</text>
<text transform="translate(79.00,203.10) scale(0.9,1)" font-size="15" text-anchor="middle">#</text>
<text transform="translate(165.05,245.20) scale(0.9,1)" font-size="15" text-anchor="middle">#</text>
<text transform="translate(251.00,199.80) scale(0.9,1)" font-size="15" text-anchor="middle">#</text>
<text transform="translate(301.40,209.70) scale(0.9,1)" font-size="15" text-anchor="middle">#</text>
<text transform="translate(315.15,239.00) scale(0.9,1)" font-size="15" text-anchor="middle">#</text>
<text transform="translate(351.00,255.40) scale(0.9,1)" font-size="15" text-anchor="middle">#</text>
<text transform="translate(183.30,111.89) scale(0.92,1)" font-size="15" text-anchor="middle">+</text>
<text transform="translate(231.85,108.59) scale(0.92,1)" font-size="15" text-anchor="middle">+</text>
<text transform="translate(242.80,53.26) scale(0.93,1)" font-size="16" text-anchor="middle">&#167;</text>
<text transform="translate(303.85,80.76) scale(0.93,1)" font-size="16" text-anchor="middle">&#167;</text>
<text transform="translate(241.00,121.76) scale(0.93,1)" font-size="16" text-anchor="middle">&#167;</text>
<text transform="translate(300.40,154.06) scale(0.93,1)" font-size="16" text-anchor="middle">&#167;</text>
<text x="107.30" y="138.08" font-size="14.5" text-anchor="middle">*</text>
<text x="150.25" y="195.03" font-size="14.5" text-anchor="middle">*</text>
<text x="155.65" y="189.38" font-size="14.5" text-anchor="middle">*</text>
<text x="169.35" y="190.98" font-size="14.5" text-anchor="middle">*</text>
<text x="180.55" y="193.88" font-size="14.5" text-anchor="middle">*</text>
<text x="298.40" y="167.83" font-size="14.5" text-anchor="middle">*</text>
<text x="304.70" y="171.03" font-size="14.5" text-anchor="middle">*</text>
<text x="333.95" y="196.73" font-size="14.5" text-anchor="middle">*</text>
<text x="351.95" y="196.53" font-size="14.5" text-anchor="middle">***</text>
</g>
</svg>
</body></html>
